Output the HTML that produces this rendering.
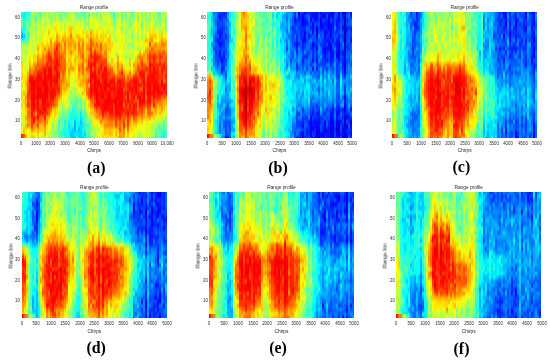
<!DOCTYPE html><html><head><meta charset="utf-8"><title>Range profiles</title><style>
html,body{margin:0;padding:0;background:#fff}
body{width:550px;height:360px;position:relative;overflow:hidden}
.p{position:absolute;display:flex;overflow:hidden;filter:blur(0.45px)}
.p i{flex:1 1 0;display:block;height:100%}
.bb{position:absolute;width:18px;height:4px;background:linear-gradient(90deg,#e81000 0,#f03000 2px,#ff8000 3px,#ff7000 5px,#40ff90 6.5px,#e0ff10 8.5px,#60ffa0 10.5px,#40ffc0 12.5px,rgba(0,200,255,0.6) 14.5px,rgba(0,160,255,0) 18px)}
.ba{width:6px;background:linear-gradient(90deg,#f02000 0,#ff5000 3px,rgba(255,140,0,0) 6px)}
.t{position:absolute;font-family:"Liberation Sans",Arial,sans-serif;color:#2a2a2a;white-space:nowrap;line-height:1;filter:blur(0.2px)}
.tk{font-size:4.6px}
.lb{font-size:4.8px}
.L{position:absolute;font-family:"Liberation Serif","Times New Roman",serif;font-weight:bold;font-size:15.9px;line-height:1;color:#000;white-space:nowrap}
</style></head><body>
<div class="p" style="left:21.20px;top:11.70px;width:145.80px;height:126.30px"><i style="background:linear-gradient(#2dffd2,#0bfff4,#4fffb0,#79ff86,#24ffdb,#00e7ff,#009aff,#15ffea,#b0ff4f,#9dff62,#d9ff26,#bcff43,#a3ff5c,#ffd400,#e4ff1b,#ffdb00,#ffc600,#e1ff1e,#ffd200,#cfff30,#ffd900,#ffcb00,#f3ff0c,#ffc700,#f0ff0f,#e1ff1e,#fff200,#ecff13,#b8ff47,#fff300,#fff900,#ffcd00)"></i><i style="background:linear-gradient(#33ffcc,#00e5ff,#3cffc3,#14ffeb,#0afff5,#11ffee,#00cfff,#2dffd2,#afff50,#e1ff1e,#a2ff5d,#fdff02,#ceff31,#f5ff0a,#e0ff1f,#e9ff16,#ffdd00,#ffe200,#ffff00,#ffff00,#ffb300,#fff800,#ffc600,#ddff22,#ffec00,#fff300,#bcff43,#cdff32,#dbff24,#ffcb00,#ffb500,#ffd800)"></i><i style="background:linear-gradient(#00edff,#32ffcd,#33ffcc,#6eff91,#5dffa2,#6eff91,#36ffc9,#3bffc4,#80ff7f,#b6ff49,#90ff6f,#e8ff17,#afff50,#faff05,#adff52,#fffc00,#ffe600,#ffc500,#ffb400,#ffdc00,#ffcd00,#ff8000,#ffc200,#ff8d00,#ffcf00,#ffe000,#ffaf00,#ffe500,#ffac00,#ffdb00,#edff12,#ffc200)"></i><i style="background:linear-gradient(#1effe1,#35ffca,#46ffb9,#92ff6d,#8aff75,#4bffb4,#45ffba,#76ff89,#bbff44,#deff21,#aaff55,#e5ff1a,#fffd00,#cbff34,#faff05,#ffb800,#ff9400,#ff6f00,#ff6700,#ff6200,#ff3800,#ff4300,#ff4700,#ff2e00,#ff8700,#ff6a00,#ff7900,#ff9a00,#ff7a00,#f9ff06,#e7ff18,#fffa00)"></i><i style="background:linear-gradient(#34ffcb,#5bffa4,#6fff90,#57ffa8,#9bff64,#d7ff28,#a1ff5e,#d2ff2d,#eeff11,#fff300,#faff05,#ffed00,#ffd900,#ffc000,#ff8100,#ff6e00,#ff1200,#ff0200,#ff2700,#ff1f00,#ff3000,#ff3e00,#ff5800,#ff4d00,#ff6600,#ff6000,#ff7900,#ff9300,#ff9b00,#ffe500,#dcff23,#f4ff0b)"></i><i style="background:linear-gradient(#e1ff1e,#91ff6e,#b2ff4d,#a5ff5a,#aeff51,#aaff55,#c6ff39,#c6ff39,#abff54,#c6ff39,#d8ff27,#ddff22,#f0ff0f,#ffec00,#ff9900,#ff8000,#ff0900,#fd0000,#ec0000,#f80000,#ff1000,#ff0000,#ff0100,#ff0900,#ff1100,#ff0600,#ff2300,#ff3300,#ff3700,#ff8000,#fff200,#ffab00)"></i><i style="background:linear-gradient(#a1ff5e,#85ff7a,#a3ff5c,#d5ff2a,#afff50,#bfff40,#eaff15,#d4ff2b,#e7ff18,#b5ff4a,#ffeb00,#ffd700,#ffdb00,#ff9000,#ff9500,#ff5500,#ff3e00,#f10000,#fb0000,#f20000,#f30000,#f00000,#f60000,#ff0100,#ff0300,#ff5c00,#ff0f00,#ff1900,#ff9500,#ff9c00,#e5ff1a,#ffc500)"></i><i style="background:linear-gradient(#99ff66,#69ff96,#3cffc3,#8aff75,#71ff8e,#afff50,#96ff69,#aeff51,#d9ff26,#e4ff1b,#ebff14,#ffcc00,#ffde00,#ff8b00,#ff5000,#ff5500,#ff2400,#ff1100,#ff0d00,#ff1300,#ff2c00,#ff0200,#ff3700,#ff1900,#ff3a00,#ff9b00,#ff3900,#ff8700,#ff8a00,#ffe100,#feff01,#e8ff17)"></i><i style="background:linear-gradient(#75ff8a,#93ff6c,#b0ff4f,#d2ff2d,#d9ff26,#f0ff0f,#e3ff1c,#e6ff19,#ffe300,#ffa500,#ffe000,#ff8800,#ff8000,#ff5000,#ff6b00,#ff1700,#ff0800,#fc0000,#ff0500,#fa0000,#ef0000,#f60000,#fb0000,#ff0500,#ff0e00,#ff1d00,#fb0000,#ff6500,#ff4400,#ffaa00,#ffd100,#ffdc00)"></i><i style="background:linear-gradient(#59ffa6,#4fffb0,#8cff73,#c6ff39,#c5ff3a,#c0ff3f,#afff50,#afff50,#ffe200,#fff000,#fff000,#ffc200,#ff8f00,#ff6d00,#ff4700,#ff1d00,#ff0500,#ff0b00,#ff1b00,#f30000,#fb0000,#f90000,#ff4d00,#ff3000,#ff1500,#ff0e00,#ff6f00,#ff6f00,#ffd000,#ffc200,#f2ff0d,#c5ff3a)"></i><i style="background:linear-gradient(#a1ff5e,#a0ff5f,#feff01,#b9ff46,#ebff14,#a5ff5a,#ffea00,#fffc00,#ffc300,#ffd100,#ffaf00,#ff8300,#ff6d00,#ff5c00,#ff1f00,#ff2900,#ff3b00,#f90000,#ff0400,#ff2700,#ff0800,#f60000,#f50000,#ff0400,#ff1000,#ff1d00,#ff6f00,#ff9300,#ffb400,#ffd400,#c9ff36,#a3ff5c)"></i><i style="background:linear-gradient(#96ff69,#98ff67,#bcff43,#9bff64,#abff54,#daff25,#fcff03,#faff05,#fbff04,#ff8c00,#ffc700,#ff7c00,#ff9d00,#ff6100,#ff0c00,#f70000,#fa0000,#f00000,#f30000,#f40000,#f00000,#ff0100,#fd0000,#ff1500,#e70000,#ff3200,#ff1900,#ff5a00,#ff8800,#ffb000,#ffad00,#d1ff2e)"></i><i style="background:linear-gradient(#c6ff39,#bcff43,#dfff20,#adff52,#fff900,#e4ff1b,#fffb00,#fff500,#ffc700,#ffd800,#ff8600,#ff5000,#ff5200,#ff1e00,#ff1e00,#ff3300,#ff0600,#ff0d00,#fc0000,#eb0000,#f30000,#fc0000,#ff1f00,#ff0900,#ff3e00,#ff3400,#ffa400,#ff9200,#ffd400,#ffee00,#c8ff37,#f9ff06)"></i><i style="background:linear-gradient(#97ff68,#81ff7e,#c0ff3f,#d4ff2b,#e9ff16,#ffc400,#d0ff2f,#fffc00,#ffdb00,#ff8e00,#ff4400,#ff1f00,#ff2c00,#ff4100,#ff0300,#ff0d00,#f10000,#ff1d00,#ff3100,#ff1100,#ff2500,#ff3700,#ff3200,#ff1300,#ff5000,#ff5d00,#ffb400,#fff400,#f9ff06,#fff200,#caff35,#acff53)"></i><i style="background:linear-gradient(#c0ff3f,#93ff6c,#9bff64,#bdff42,#d2ff2d,#f3ff0c,#f5ff0a,#ff9300,#ff9300,#ff9c00,#ff7200,#ff2b00,#ff2400,#ff3100,#f70000,#f50000,#fa0000,#ff0300,#f40000,#ff2800,#f60000,#ff0b00,#ff2a00,#ff3100,#ff6c00,#ffad00,#efff10,#fff400,#ecff13,#d6ff29,#dcff23,#b8ff47)"></i><i style="background:linear-gradient(#abff54,#c0ff3f,#a2ff5d,#d2ff2d,#cdff32,#f5ff0a,#ffe700,#fffc00,#ffcf00,#ffa200,#ff8600,#ff9800,#ff3600,#ff5900,#ff4e00,#ff4000,#ff2300,#ff0d00,#ff3a00,#fd0000,#ff0800,#ff0900,#ff2a00,#ff4900,#ffd700,#fff100,#ffe200,#c8ff37,#66ff99,#92ff6d,#76ff89,#94ff6b)"></i><i style="background:linear-gradient(#acff53,#81ff7e,#a0ff5f,#ebff14,#ffd800,#deff21,#fffd00,#ffd500,#ff7300,#ff6c00,#ff2200,#ff3100,#ff3000,#ff1900,#ff0500,#ff3a00,#ff1000,#ff0400,#ff1900,#ff1e00,#ff0a00,#ff2b00,#ff7100,#ff6600,#ffbb00,#ffd400,#ffe500,#c9ff36,#ebff14,#b2ff4d,#88ff77,#86ff79)"></i><i style="background:linear-gradient(#94ff6b,#cfff30,#ffe600,#d7ff28,#ffec00,#ffdd00,#ff9700,#ff9000,#ff4e00,#ff0e00,#ff3500,#ff2800,#ff0300,#ff0400,#ff1700,#f70000,#ff0000,#f40000,#ff1900,#ff1e00,#ff4600,#ff7b00,#ff7900,#ff8a00,#ffe000,#ffde00,#e6ff19,#b3ff4c,#a0ff5f,#81ff7e,#8cff73,#99ff66)"></i><i style="background:linear-gradient(#91ff6e,#66ff99,#c1ff3e,#fffb00,#fcff03,#e8ff17,#ffbf00,#ffcf00,#ff5100,#ff7400,#ff6100,#ff4800,#ff3e00,#ff1200,#ff5300,#ff1400,#ff1800,#ff5700,#ff3c00,#ff1800,#ff3d00,#ff9000,#ffe200,#ffe000,#d1ff2e,#c6ff39,#a7ff58,#1dffe2,#46ffb9,#53ffac,#41ffbe,#7aff85)"></i><i style="background:linear-gradient(#7dff82,#6dff92,#6dff92,#cfff30,#acff53,#ffff00,#fff300,#ffd800,#ff9c00,#ff8b00,#ff8f00,#ff4e00,#ff5d00,#ff5b00,#ff4e00,#ff9500,#ffa400,#ff6600,#ff8300,#ff7c00,#ff8800,#ffc100,#ffd900,#b8ff47,#bfff40,#adff52,#79ff86,#58ffa7,#86ff79,#8bff74,#41ffbe,#4bffb4)"></i><i style="background:linear-gradient(#80ff7f,#a7ff58,#a9ff56,#e9ff16,#dfff20,#feff01,#ffc700,#ff9300,#ffcc00,#ffc100,#ff7f00,#ff7600,#ff7100,#ff6a00,#ff6200,#ff5000,#ff7200,#ff7700,#ffac00,#ffb700,#ffdf00,#ddff22,#c3ff3c,#96ff69,#94ff6b,#61ff9e,#42ffbd,#6dff92,#55ffaa,#23ffdc,#1fffe0,#67ff98)"></i><i style="background:linear-gradient(#74ff8b,#74ff8b,#c7ff38,#b0ff4f,#b2ff4d,#ffda00,#ffba00,#ff9e00,#ff6700,#ff7f00,#ff7a00,#ff9600,#ff6500,#ff6800,#ff5800,#ff8400,#ffa200,#ff9d00,#ffbb00,#ffa600,#ffe100,#f2ff0d,#fff800,#b3ff4c,#adff52,#68ff97,#6bff94,#00ffff,#1affe5,#18ffe7,#00f5ff,#2affd5)"></i><i style="background:linear-gradient(#75ff8a,#8cff73,#b5ff4a,#c4ff3b,#e3ff1c,#fbff04,#ffe500,#ffb300,#ffc500,#ffd000,#ffd700,#ffdc00,#fff900,#ffc000,#ffde00,#ffef00,#ffdb00,#ffc200,#ff9200,#ffd000,#fff100,#fff500,#c7ff38,#f9ff06,#a2ff5d,#73ff8c,#59ffa6,#37ffc8,#7bff84,#1affe5,#34ffcb,#00faff)"></i><i style="background:linear-gradient(#bcff43,#92ff6d,#d8ff27,#e2ff1d,#ffd800,#ffe600,#ffc400,#ffa900,#ff8e00,#ffab00,#ffbd00,#ffdb00,#ffb800,#ffe300,#ffa100,#ff9d00,#ffd000,#ffbf00,#ffb400,#ffec00,#ffec00,#9cff63,#c5ff3a,#c7ff38,#69ff96,#50ffaf,#50ffaf,#11ffee,#00e0ff,#00f5ff,#00faff,#11ffee)"></i><i style="background:linear-gradient(#9aff65,#dcff23,#a4ff5b,#d6ff29,#ffc800,#ffb200,#ff6c00,#ffa800,#ff9500,#ffbe00,#ff7800,#ffd300,#ffd300,#ffa700,#ffa100,#ffe400,#d4ff2b,#e9ff16,#f2ff0d,#b8ff47,#92ff6d,#a9ff56,#60ff9f,#78ff87,#8aff75,#25ffda,#0bfff4,#13ffec,#02fffd,#00f2ff,#00c2ff,#00d4ff)"></i><i style="background:linear-gradient(#cbff34,#e6ff19,#ccff33,#d7ff28,#ffd700,#fff600,#ffe500,#ffab00,#ffba00,#ffdd00,#ffb900,#fffe00,#fffb00,#ffe200,#ff8a00,#fff300,#ecff13,#fff100,#d6ff29,#b9ff46,#b4ff4b,#99ff66,#8dff72,#52ffad,#1dffe2,#26ffd9,#03fffc,#3affc5,#25ffda,#00d0ff,#00d0ff,#00beff)"></i><i style="background:linear-gradient(#71ff8e,#afff50,#a4ff5b,#ccff33,#e3ff1c,#c4ff3b,#ffeb00,#ffd700,#ff8f00,#ff9e00,#ffe500,#ffd700,#ffad00,#ffe100,#ffc400,#ffe500,#d4ff2b,#aaff55,#d8ff27,#8dff72,#b9ff46,#7dff82,#69ff96,#2effd1,#24ffdb,#2bffd4,#28ffd7,#00b6ff,#00a5ff,#00aaff,#02fffd,#00c2ff)"></i><i style="background:linear-gradient(#71ff8e,#5dffa2,#c0ff3f,#cfff30,#d8ff27,#fff200,#ffbe00,#ffe800,#ffca00,#ffd700,#ffd900,#ffb500,#ffe000,#ffd200,#fffb00,#fff300,#ffe400,#ffda00,#ffff00,#beff41,#cbff34,#79ff86,#45ffba,#5effa1,#55ffaa,#37ffc8,#0ffff0,#00faff,#15ffea,#00faff,#00e2ff,#35ffca)"></i><i style="background:linear-gradient(#96ff69,#72ff8d,#9eff61,#efff10,#e5ff1a,#fffb00,#ffb800,#ffa500,#ff6c00,#ff7900,#ff8d00,#ffc100,#ffca00,#ff9e00,#ff6800,#ff9e00,#ffa700,#ffda00,#ffbf00,#fffe00,#beff41,#a2ff5d,#6aff95,#a0ff5f,#4bffb4,#4cffb3,#2affd5,#14ffeb,#00f0ff,#00baff,#00e6ff,#00cfff)"></i><i style="background:linear-gradient(#5fffa0,#a3ff5c,#84ff7b,#c2ff3d,#ddff22,#feff01,#ffea00,#ffa900,#ffd900,#ff8d00,#ff8a00,#ff8200,#ffc400,#ff9100,#ff8e00,#ffb200,#ffd800,#ffb300,#ffaf00,#cfff30,#deff21,#8fff70,#50ffaf,#67ff98,#42ffbd,#00e9ff,#00f4ff,#00b8ff,#00d9ff,#00daff,#00dfff,#00c9ff)"></i><i style="background:linear-gradient(#3cffc3,#65ff9a,#b7ff48,#edff12,#f0ff0f,#ffd500,#fff300,#ffaa00,#ff7200,#ff8500,#ff8500,#ff5c00,#ff8400,#ff5800,#ff5e00,#ff6800,#ffb900,#ff9600,#ffb900,#ffeb00,#ffb200,#fbff04,#98ff67,#adff52,#81ff7e,#75ff8a,#00ffff,#1affe5,#00ecff,#05fffa,#00f9ff,#00dfff)"></i><i style="background:linear-gradient(#54ffab,#57ffa8,#61ff9e,#abff54,#9aff65,#c0ff3f,#fff600,#ffe000,#ffd200,#ffe900,#ffd300,#ffcc00,#ff9500,#fffd00,#ffa200,#ffba00,#ffa100,#ff9900,#ffc100,#ffb000,#fff000,#dcff23,#93ff6c,#79ff86,#74ff8b,#36ffc9,#3effc1,#44ffbb,#11ffee,#25ffda,#00ceff,#06fff9)"></i><i style="background:linear-gradient(#9aff65,#88ff77,#c4ff3b,#7bff84,#fdff02,#ffda00,#ffbb00,#f1ff0e,#ffb100,#ff8600,#ffb700,#ffaa00,#ff8600,#ff9a00,#ff4100,#ffac00,#ffc000,#ff6a00,#ff7b00,#ff8400,#ff6300,#ffbe00,#edff12,#fff100,#e3ff1c,#8bff74,#59ffa6,#80ff7f,#2effd1,#77ff88,#4cffb3,#2dffd2)"></i><i style="background:linear-gradient(#67ff98,#40ffbf,#8aff75,#91ff6e,#97ff68,#cdff32,#ffcc00,#ffb600,#ffa000,#ff7f00,#ffa700,#ff6e00,#ff3e00,#ff2200,#ff5300,#ff8500,#ff9a00,#ff3400,#ffc600,#ff4f00,#ff3e00,#ff5700,#ffeb00,#ffcb00,#edff12,#bdff42,#caff35,#7fff80,#3affc5,#47ffb8,#42ffbd,#13ffec)"></i><i style="background:linear-gradient(#ecff13,#daff25,#f4ff0b,#f3ff0c,#cdff32,#ffa300,#ffaf00,#ff5100,#ff5a00,#ff3200,#ff3b00,#ff1d00,#ff4d00,#ff0800,#ff0800,#ff0b00,#fb0000,#fe0000,#ff1a00,#fe0000,#ff0600,#ff1b00,#ff7b00,#ff9900,#ffc900,#ffc500,#b8ff47,#5fffa0,#8eff71,#6fff90,#85ff7a,#43ffbc)"></i><i style="background:linear-gradient(#8aff75,#93ff6c,#e4ff1b,#edff12,#beff41,#ffd300,#ffc000,#ffa100,#ff6000,#ffb900,#ff7600,#ff2e00,#ff4100,#ff1000,#ff7100,#ff0800,#ff0d00,#ff3800,#ff1400,#ff0d00,#ff1a00,#ff5900,#ff5a00,#ff8100,#ffc000,#ffbe00,#c4ff3b,#c6ff39,#9bff64,#89ff76,#d0ff2f,#77ff88)"></i><i style="background:linear-gradient(#9bff64,#b7ff48,#ddff22,#e5ff1a,#c9ff36,#ffee00,#ffe500,#ffb200,#ffa100,#ff7d00,#ff2900,#ff1700,#ff0d00,#ff0f00,#ff1c00,#ff0400,#fc0000,#fb0000,#fa0000,#ff0000,#ff0900,#ff2400,#ff4d00,#ff1600,#ff8900,#ffad00,#ffbe00,#fffa00,#ffea00,#a9ff56,#afff50,#87ff78)"></i><i style="background:linear-gradient(#74ff8b,#8cff73,#dcff23,#ecff13,#ddff22,#ffdb00,#ffb600,#ffbc00,#ff6700,#ff9800,#ff6800,#ff1a00,#ff2700,#ff6500,#ff4700,#ff3d00,#ff1e00,#fe0000,#ff0b00,#fc0000,#fc0000,#e70000,#fb0000,#ff0f00,#ff3d00,#ff8800,#ff9800,#fffd00,#c7ff38,#c9ff36,#c6ff39,#bfff40)"></i><i style="background:linear-gradient(#91ff6e,#bcff43,#b0ff4f,#d9ff26,#ffe700,#f6ff09,#fff100,#ffc300,#ffb000,#ffa000,#ff7b00,#ff2c00,#ff3500,#ff5600,#ff2400,#ff0900,#ff4400,#f60000,#fe0000,#ff2e00,#ff0f00,#ff1a00,#ff0d00,#ff0900,#ff7400,#ff6400,#ff9700,#ffe000,#faff05,#aeff51,#fffd00,#fff200)"></i><i style="background:linear-gradient(#acff53,#71ff8e,#8cff73,#d6ff29,#d1ff2e,#fff100,#ffcb00,#ffd400,#ff6400,#ff5400,#ff7c00,#ff3d00,#ff4700,#ff1d00,#ff0f00,#ff3f00,#ff2600,#ff5800,#fd0000,#ff0300,#ff1100,#ff0200,#ff3000,#ff0e00,#ff2d00,#ff5900,#ffa700,#ff6f00,#ffe900,#fbff04,#d1ff2e,#fbff04)"></i><i style="background:linear-gradient(#b8ff47,#caff35,#ccff33,#baff45,#d7ff28,#ffe400,#ffd300,#ffc900,#ffcf00,#ffa500,#ffc200,#ff7c00,#ff4500,#ff3200,#ff4800,#ff0a00,#ff0700,#ff1400,#ff1400,#ff1a00,#ff0100,#f60000,#ff2100,#ff1000,#ff0500,#ff0900,#ff4600,#ffbc00,#ffcb00,#fff300,#ffdd00,#ffd900)"></i><i style="background:linear-gradient(#c4ff3b,#cbff34,#e2ff1d,#b1ff4e,#eeff11,#c1ff3e,#ffd200,#fff100,#ffb100,#ffac00,#ff8200,#ff8200,#ff3f00,#ff4600,#f80000,#ff1100,#ff0900,#f30000,#f20000,#f90000,#ff1200,#ff1e00,#fe0000,#ff0200,#fe0000,#ff3800,#ff6c00,#ffa600,#ff8800,#ffbd00,#ffc500,#fff200)"></i><i style="background:linear-gradient(#c0ff3f,#c9ff36,#edff12,#c8ff37,#ffec00,#ffd900,#fffb00,#ffb700,#ffd000,#ffbd00,#ffdb00,#ffd000,#ffd700,#ff8f00,#ff6b00,#ff2700,#ff3200,#ff3100,#f20000,#ff3700,#ff0000,#ff0300,#f90000,#ff0900,#ff0600,#ff5900,#ff5d00,#ff8400,#ff8300,#ffd200,#ffd000,#ffe600)"></i><i style="background:linear-gradient(#8eff71,#a1ff5e,#f4ff0b,#e0ff1f,#ccff33,#cbff34,#ffd000,#ffc600,#ffd000,#ffcc00,#ffeb00,#c7ff38,#d2ff2d,#ffa600,#ff6e00,#ff3900,#ff4e00,#ff0c00,#fc0000,#ff1100,#f80000,#fa0000,#f40000,#ff0900,#ff1900,#ff1500,#ff4700,#ff7000,#ff8700,#ffb400,#ffaf00,#e5ff1a)"></i><i style="background:linear-gradient(#70ff8f,#88ff77,#97ff68,#9fff60,#e8ff17,#c2ff3d,#e7ff18,#c4ff3b,#ffcd00,#fff000,#e6ff19,#fffc00,#ffbd00,#ffdd00,#ff5e00,#ff5800,#ff4700,#fb0000,#ff2e00,#fd0000,#ff4200,#ff2700,#ff0e00,#ff1000,#ff0200,#ff1600,#ff4100,#ff7200,#ff8a00,#ffca00,#ffc400,#ffe000)"></i><i style="background:linear-gradient(#68ff97,#17ffe8,#8bff74,#73ff8c,#bdff42,#90ff6f,#baff45,#ebff14,#e4ff1b,#fffa00,#f2ff0d,#e9ff16,#dbff24,#ffe100,#ffcb00,#ff7b00,#ff2e00,#ff0f00,#ff0500,#ff0700,#ff1700,#ff2300,#f30000,#ff3800,#ff4500,#ff3500,#ff4800,#ff9600,#ff9f00,#ffd900,#faff05,#ddff22)"></i><i style="background:linear-gradient(#91ff6e,#94ff6b,#aeff51,#bcff43,#aeff51,#ffff00,#c7ff38,#baff45,#dcff23,#e4ff1b,#a2ff5d,#b0ff4f,#f4ff0b,#ffd500,#ffd300,#ffde00,#ff5d00,#ff5f00,#ff2c00,#ff1e00,#ff1900,#ff0700,#f00000,#ff0000,#ff0d00,#ff0500,#ff3600,#ff3700,#ff4b00,#ffd500,#ffae00,#ffe500)"></i><i style="background:linear-gradient(#bcff43,#a7ff58,#c4ff3b,#c7ff38,#f1ff0e,#f9ff06,#dbff24,#e1ff1e,#eaff15,#d7ff28,#fff800,#ffae00,#ffae00,#ff7d00,#ff8d00,#ff8300,#ff5c00,#ff0a00,#ff1f00,#ff0200,#ff0500,#fc0000,#ff1a00,#ff1500,#ff0600,#ff0700,#ff3f00,#ff7b00,#ff8000,#ffc600,#ffe900,#ffc000)"></i><i style="background:linear-gradient(#cdff32,#c1ff3e,#ceff31,#f0ff0f,#bfff40,#fffc00,#fff800,#f1ff0e,#ffef00,#fdff02,#f9ff06,#ebff14,#f6ff09,#ffc300,#ffa800,#ff5c00,#ff5200,#ff0500,#ff0d00,#ff0700,#fa0000,#fc0000,#fa0000,#f90000,#ff1400,#ff1000,#ff1400,#ff6b00,#ff6300,#ff5100,#ff9800,#ff9800)"></i><i style="background:linear-gradient(#76ff89,#6aff95,#64ff9b,#a6ff59,#8dff72,#a9ff56,#dbff24,#d1ff2e,#f7ff08,#fff300,#f7ff08,#ceff31,#fdff02,#ffa400,#ff7c00,#ff1200,#ff5100,#ff1500,#ff1c00,#ff0000,#fe0000,#ff0100,#f50000,#ff0000,#ff0900,#ff2400,#ff6c00,#ff6800,#ffaf00,#ff9800,#ffbb00,#ff9900)"></i><i style="background:linear-gradient(#97ff68,#81ff7e,#d4ff2b,#e6ff19,#beff41,#ecff13,#cdff32,#efff10,#bdff42,#c3ff3c,#d5ff2a,#dcff23,#d6ff29,#feff01,#ffc900,#ff9100,#ff4900,#ff3100,#ff1500,#ff5c00,#ff2e00,#ff2300,#ff2e00,#ff7d00,#ff1200,#ff4b00,#ff5200,#ff4600,#ff1c00,#ff7f00,#ff8800,#ffc100)"></i><i style="background:linear-gradient(#82ff7d,#7aff85,#76ff89,#c6ff39,#bdff42,#78ff87,#d2ff2d,#93ff6c,#e7ff18,#bfff40,#b9ff46,#80ff7f,#d0ff2f,#d0ff2f,#ffec00,#ffd100,#ffad00,#ff6200,#ff3c00,#ff4a00,#ff1a00,#ff5800,#ff1700,#ff1b00,#ff3300,#ff2d00,#ff6c00,#ffa500,#ff9200,#f9ff06,#faff05,#bbff44)"></i><i style="background:linear-gradient(#8aff75,#b4ff4b,#b4ff4b,#9bff64,#a1ff5e,#b7ff48,#b4ff4b,#dfff20,#88ff77,#b8ff47,#e4ff1b,#b4ff4b,#e2ff1d,#c2ff3d,#ffef00,#ffca00,#ff6100,#ff5600,#ff1400,#ff2a00,#ff0800,#fa0000,#ff0b00,#ff4600,#ff2700,#ff0900,#ff3c00,#ff3000,#ff5800,#ff6400,#ffcd00,#ffc900)"></i><i style="background:linear-gradient(#9aff65,#a4ff5b,#59ffa6,#91ff6e,#96ff69,#e6ff19,#a9ff56,#ebff14,#81ff7e,#b5ff4a,#d3ff2c,#acff53,#ffd500,#ffc000,#ffe900,#ff6f00,#ff8500,#ff3500,#ff1400,#ff0500,#ff4500,#ff5e00,#ff2900,#ff1400,#ff1b00,#ff3f00,#ff5f00,#ff8f00,#ffb100,#fbff04,#fdff02,#e5ff1a)"></i><i style="background:linear-gradient(#3fffc0,#6fff90,#b5ff4a,#80ff7f,#c6ff39,#9aff65,#76ff89,#b5ff4a,#80ff7f,#d0ff2f,#c3ff3c,#9eff61,#dbff24,#edff12,#fff000,#ffe100,#ff7c00,#ff1800,#ff3900,#ff0200,#ff1100,#ff2900,#ff1c00,#ff3700,#ff3400,#ff1300,#ffa100,#ffcc00,#ffd800,#ffe700,#e8ff17,#f2ff0d)"></i><i style="background:linear-gradient(#a0ff5f,#88ff77,#92ff6d,#f5ff0a,#e8ff17,#b1ff4e,#aaff55,#beff41,#abff54,#bbff44,#e7ff18,#dcff23,#f1ff0e,#ff9500,#ffbf00,#ffa200,#ff2a00,#ff0c00,#ff0b00,#ff1e00,#ff2600,#fe0000,#ff3800,#ff0900,#ff0a00,#ff1b00,#ff4200,#ff9800,#ffd700,#ffe900,#d1ff2e,#ffdd00)"></i><i style="background:linear-gradient(#fff800,#ebff14,#e9ff16,#f1ff0e,#fdff02,#f7ff08,#c3ff3c,#e0ff1f,#ebff14,#ceff31,#f8ff07,#ffe700,#ffc200,#ffa900,#ff9900,#ff6200,#ff1e00,#ff0000,#ff0600,#fc0000,#fd0000,#ff5d00,#ff4a00,#ff1700,#ff2d00,#ff2800,#ff6d00,#ff8600,#ffd600,#f1ff0e,#e3ff1c,#ddff22)"></i><i style="background:linear-gradient(#9bff64,#87ff78,#79ff86,#deff21,#daff25,#9fff60,#aeff51,#a3ff5c,#ddff22,#8eff71,#fff700,#ffa200,#ffb900,#ff7000,#ff3500,#ff6000,#ff4400,#ff1c00,#ff1c00,#ff2200,#ff2100,#ff0400,#ff5e00,#ff6600,#ff7b00,#ff5600,#ffa500,#ffc000,#f1ff0e,#f1ff0e,#a9ff56,#acff53)"></i><i style="background:linear-gradient(#a9ff56,#fff200,#c7ff38,#d4ff2b,#d4ff2b,#eaff15,#eeff11,#fff100,#ffec00,#fff000,#ffaf00,#ff7100,#ff8600,#ff7800,#ff6100,#ff0500,#ff2e00,#ff6600,#f20000,#ff5800,#ff2000,#fc0000,#f20000,#ff1500,#ff4a00,#ff6a00,#ffaf00,#ffd700,#faff05,#e0ff1f,#a9ff56,#b1ff4e)"></i><i style="background:linear-gradient(#93ff6c,#8fff70,#b2ff4d,#53ffac,#86ff79,#b6ff49,#a8ff57,#bcff43,#e4ff1b,#a7ff58,#fffb00,#ff9200,#ff5500,#ff2c00,#ff4600,#ff0e00,#ff0f00,#ff3000,#ff2800,#ff6600,#ff0b00,#ff2400,#f90000,#ff1800,#ff4000,#ff5b00,#ff8700,#ffbe00,#dcff23,#e6ff19,#ccff33,#b4ff4b)"></i><i style="background:linear-gradient(#e6ff19,#a5ff5a,#b2ff4d,#fff700,#e9ff16,#f7ff08,#caff35,#ffe100,#ffee00,#efff10,#ffb600,#ff8f00,#ffa800,#ff5600,#ff4d00,#ff1800,#ff0e00,#ff0500,#ff0800,#ee0000,#ff0000,#ff0300,#fd0000,#ff4e00,#ff6a00,#ff8e00,#ffad00,#fffe00,#f9ff06,#f8ff07,#f8ff07,#b9ff46)"></i><i style="background:linear-gradient(#6eff91,#9aff65,#8fff70,#a2ff5d,#a5ff5a,#d8ff27,#b5ff4a,#ffb600,#f6ff09,#ffbb00,#ffa000,#ffba00,#ffb400,#ff7500,#ff1e00,#ff6500,#ff6700,#ff4900,#ff2b00,#ff4f00,#ff4c00,#ff7600,#ff4a00,#ff4f00,#ffb200,#ffd600,#ffc500,#b6ff49,#e6ff19,#bdff42,#e5ff1a,#afff50)"></i><i style="background:linear-gradient(#b4ff4b,#d6ff29,#9fff60,#c2ff3d,#bbff44,#dfff20,#f9ff06,#ffd400,#ffed00,#ffa500,#ff8a00,#ff6400,#ff7900,#ff9000,#ff3400,#ff4700,#ff0c00,#ff0c00,#ff0000,#ff0600,#f30000,#ff0d00,#ff0d00,#ff2d00,#ff5600,#ff6900,#ffb000,#ffeb00,#dcff23,#c2ff3d,#dcff23,#c4ff3b)"></i><i style="background:linear-gradient(#b2ff4d,#87ff78,#7dff82,#d9ff26,#ffe800,#ffe900,#ffc200,#ffa800,#ff4300,#ffa400,#ff4e00,#ff2500,#ff3000,#fb0000,#ff0b00,#ff1700,#ff0500,#ff0e00,#ff0200,#ff0200,#fd0000,#ff1400,#fa0000,#ff4000,#ff6200,#ff5900,#ff9c00,#fff800,#e6ff19,#d5ff2a,#cfff30,#bcff43)"></i><i style="background:linear-gradient(#8eff71,#ceff31,#beff41,#e4ff1b,#dcff23,#ffeb00,#ffbe00,#ff8300,#ffcf00,#ff5900,#ff7700,#ff3800,#ff5f00,#ff0f00,#ff3800,#ff1300,#ff0a00,#ff0500,#ff2200,#ff3700,#ff0a00,#ff4700,#ff5600,#ff9500,#ffd000,#ff6e00,#ffe800,#f2ff0d,#91ff6e,#a6ff59,#baff45,#6bff94)"></i><i style="background:linear-gradient(#f2ff0d,#88ff77,#abff54,#c2ff3d,#a4ff5b,#ffdf00,#ffc900,#fff500,#ffa200,#ff7900,#ff6600,#ff1700,#ff1900,#ff2c00,#ff0a00,#ff0c00,#ff0600,#ff1500,#ff0100,#f20000,#fb0000,#ff1000,#ff3b00,#ff0f00,#ffb400,#ffbf00,#ffca00,#c4ff3b,#b1ff4e,#a3ff5c,#b9ff46,#8fff70)"></i><i style="background:linear-gradient(#a4ff5b,#d1ff2e,#8fff70,#8eff71,#d8ff27,#fff200,#ffc000,#fff900,#ff7a00,#ffaa00,#ff7900,#ff3800,#ff5800,#ff2700,#ff2900,#ff1300,#ff2500,#ff0900,#ff0300,#ff0700,#ff2900,#ff2b00,#ff7000,#ff7700,#ff8e00,#ffbe00,#c3ff3c,#c5ff3a,#9eff61,#65ff9a,#4bffb4,#18ffe7)"></i><i style="background:linear-gradient(#61ff9e,#65ff9a,#8cff73,#a9ff56,#cdff32,#c1ff3e,#feff01,#f9ff06,#ffb700,#ff9600,#ff7000,#ff6700,#ff6d00,#ff3500,#ff2500,#ff1a00,#ff1f00,#ff2400,#ff0800,#fa0000,#ff0300,#ff2700,#ff5b00,#ffb400,#ffd400,#ffe400,#e5ff1a,#aaff55,#7fff80,#50ffaf,#71ff8e,#72ff8d)"></i><i style="background:linear-gradient(#7fff80,#5cffa3,#7bff84,#8fff70,#b1ff4e,#9fff60,#ffe300,#ffd700,#ffa000,#ff9c00,#ff5d00,#ff2800,#ff4000,#ff1b00,#ff6f00,#ff4200,#ff2e00,#ff4e00,#ff2400,#ff1200,#ff0700,#ff2a00,#ff6900,#ff9100,#ffcf00,#ffb600,#f9ff06,#acff53,#54ffab,#55ffaa,#5effa1,#3cffc3)"></i><i style="background:linear-gradient(#a7ff58,#bbff44,#a4ff5b,#c9ff36,#fff000,#ffc900,#ffd800,#ff9500,#ff8100,#ff9b00,#ff7000,#ff3a00,#ff6f00,#ff3a00,#ff1200,#ff1600,#ff3e00,#fe0000,#ff0200,#ff3f00,#ff0100,#ff6000,#ff9300,#ff9900,#ff9e00,#ffe300,#a9ff56,#a9ff56,#85ff7a,#46ffb9,#36ffc9,#33ffcc)"></i><i style="background:linear-gradient(#93ff6c,#a7ff58,#98ff67,#dbff24,#aaff55,#fff100,#fff500,#ffca00,#ff7200,#ffa300,#ff4c00,#ff7000,#ff6100,#ff1100,#ff1e00,#ff5f00,#ff4e00,#ff8000,#ff0a00,#ff0200,#ff3400,#ff5200,#ffb400,#ffb900,#ffc800,#dbff24,#cfff30,#75ff8a,#47ffb8,#3affc5,#0afff5,#01fffe)"></i><i style="background:linear-gradient(#a6ff59,#c9ff36,#74ff8b,#a6ff59,#7fff80,#a7ff58,#e1ff1e,#ffc200,#ff9800,#ffc100,#ff9100,#ff6400,#ff5100,#ff4e00,#ff2900,#ff3800,#ff1200,#ff4b00,#ff0d00,#ff2d00,#ff1300,#ff6a00,#ffa900,#ffd500,#bbff44,#eaff15,#87ff78,#90ff6f,#7dff82,#7cff83,#38ffc7,#3dffc2)"></i></div>
<div class="bb ba" style="left:21.20px;top:134.00px"></div>
<div class="t lb" style="left:94.10px;top:8.10px;transform:translate(-50%,-50%)">Range profile</div>
<div class="t tk" style="left:19.80px;top:17.80px;transform:translate(-100%,-50%) scaleX(0.940)">60</div>
<div class="t tk" style="left:19.80px;top:38.48px;transform:translate(-100%,-50%) scaleX(0.940)">50</div>
<div class="t tk" style="left:19.80px;top:59.16px;transform:translate(-100%,-50%) scaleX(0.940)">40</div>
<div class="t tk" style="left:19.80px;top:79.84px;transform:translate(-100%,-50%) scaleX(0.940)">30</div>
<div class="t tk" style="left:19.80px;top:100.52px;transform:translate(-100%,-50%) scaleX(0.940)">20</div>
<div class="t tk" style="left:19.80px;top:121.20px;transform:translate(-100%,-50%) scaleX(0.940)">10</div>
<div class="t lb" style="left:11.20px;top:75.50px;transform:translate(-50%,-50%) rotate(-90deg) scaleX(1.130)">Range bin</div>
<div class="t tk" style="left:21.20px;top:144.20px;transform:translate(-50%,-50%) scaleX(0.940)">0</div>
<div class="t tk" style="left:35.78px;top:144.20px;transform:translate(-50%,-50%) scaleX(0.940)">1000</div>
<div class="t tk" style="left:50.36px;top:144.20px;transform:translate(-50%,-50%) scaleX(0.940)">2000</div>
<div class="t tk" style="left:64.94px;top:144.20px;transform:translate(-50%,-50%) scaleX(0.940)">3000</div>
<div class="t tk" style="left:79.52px;top:144.20px;transform:translate(-50%,-50%) scaleX(0.940)">4000</div>
<div class="t tk" style="left:94.10px;top:144.20px;transform:translate(-50%,-50%) scaleX(0.940)">5000</div>
<div class="t tk" style="left:108.68px;top:144.20px;transform:translate(-50%,-50%) scaleX(0.940)">6000</div>
<div class="t tk" style="left:123.26px;top:144.20px;transform:translate(-50%,-50%) scaleX(0.940)">7000</div>
<div class="t tk" style="left:137.84px;top:144.20px;transform:translate(-50%,-50%) scaleX(0.940)">8000</div>
<div class="t tk" style="left:152.42px;top:144.20px;transform:translate(-50%,-50%) scaleX(0.940)">9000</div>
<div class="t tk" style="left:167.00px;top:144.20px;transform:translate(-50%,-50%) scaleX(0.940)">10,000</div>
<div class="t lb" style="left:94.10px;top:151.40px;transform:translate(-50%,-50%)">Chirps</div>
<div class="p" style="left:207.00px;top:11.70px;width:145.00px;height:126.30px"><i style="background:linear-gradient(#5affa5,#07fff8,#15ffea,#68ff97,#52ffad,#5fffa0,#49ffb6,#33ffcc,#18ffe7,#33ffcc,#2effd1,#19ffe6,#1fffe0,#50ffaf,#17ffe8,#bbff44,#ffb200,#ff8a00,#ff7c00,#ff7b00,#ff7100,#ff4400,#ff7900,#ff9c00,#ff6f00,#ff9500,#ff6c00,#fcff03,#ffe500,#ffbd00,#ffed00,#c2ff3d)"></i><i style="background:linear-gradient(#30ffcf,#3cffc3,#39ffc6,#43ffbc,#2bffd4,#0bfff4,#00fcff,#3dffc2,#2affd5,#18ffe7,#05fffa,#37ffc8,#54ffab,#48ffb7,#6dff92,#8fff70,#ff9b00,#ff3f00,#ff6900,#ff4600,#ff0c00,#ff4c00,#ff2e00,#ff7700,#ffa000,#ffab00,#ffba00,#ffad00,#ffec00,#feff01,#ecff13,#ffc600)"></i><i style="background:linear-gradient(#00eaff,#00dcff,#00d1ff,#00ecff,#00d1ff,#00c7ff,#00e2ff,#01fffe,#0095ff,#00d2ff,#00d5ff,#07fff8,#00d3ff,#0bfff4,#00c8ff,#59ffa6,#ebff14,#ffa100,#ffaa00,#ff8400,#ffc600,#ffa200,#ffe700,#ff9f00,#ffe000,#faff05,#f9ff06,#fff400,#f4ff0b,#c3ff3c,#abff54,#aeff51)"></i><i style="background:linear-gradient(#0060ff,#0092ff,#0087ff,#00b2ff,#00bfff,#009eff,#0074ff,#0074ff,#007eff,#0038ff,#00a6ff,#0070ff,#0086ff,#007eff,#00e3ff,#00c6ff,#56ffa9,#afff50,#b7ff48,#83ff7c,#8dff72,#93ff6c,#a1ff5e,#59ffa6,#51ffae,#59ffa6,#35ffca,#43ffbc,#3dffc2,#5dffa2,#3effc1,#52ffad)"></i><i style="background:linear-gradient(#0080ff,#009fff,#0065ff,#006dff,#0092ff,#007aff,#0042ff,#0038ff,#005aff,#0043ff,#0029ff,#0051ff,#004dff,#0081ff,#0085ff,#00d6ff,#47ffb8,#b2ff4d,#89ff76,#80ff7f,#93ff6c,#63ff9c,#64ff9b,#35ffca,#52ffad,#52ffad,#48ffb7,#00f0ff,#0afff5,#00ffff,#00ddff,#00ebff)"></i><i style="background:linear-gradient(#006fff,#0037ff,#0055ff,#0027ff,#0040ff,#000bff,#0071ff,#0005ff,#0043ff,#0057ff,#0047ff,#0042ff,#004aff,#0049ff,#008dff,#00aeff,#1affe5,#4bffb4,#25ffda,#44ffbb,#30ffcf,#00c8ff,#00dcff,#00a6ff,#00d9ff,#00f1ff,#00dfff,#00d0ff,#00d3ff,#00d0ff,#00c8ff,#00c2ff)"></i><i style="background:linear-gradient(#0052ff,#0002ff,#0038ff,#0051ff,#0033ff,#0022ff,#0000f7,#0036ff,#0000f5,#0037ff,#000bff,#0019ff,#0046ff,#007eff,#008fff,#007fff,#00ebff,#45ffba,#37ffc8,#00feff,#00f4ff,#14ffeb,#00fcff,#00a2ff,#0099ff,#00bfff,#007cff,#0086ff,#0054ff,#0067ff,#0087ff,#0094ff)"></i><i style="background:linear-gradient(#0033ff,#002bff,#0039ff,#003cff,#0034ff,#001fff,#0031ff,#0029ff,#001bff,#0043ff,#005aff,#0034ff,#0000f5,#0035ff,#000bff,#003dff,#00f0ff,#00e2ff,#00e7ff,#00f2ff,#1cffe3,#00b2ff,#008fff,#008dff,#00cdff,#0083ff,#0098ff,#009fff,#00b5ff,#0095ff,#00b0ff,#0070ff)"></i><i style="background:linear-gradient(#002eff,#002fff,#0062ff,#0056ff,#0043ff,#004eff,#0050ff,#003dff,#002bff,#0051ff,#0034ff,#0014ff,#003eff,#003fff,#0030ff,#0075ff,#00a8ff,#00c1ff,#00ecff,#00f3ff,#00d7ff,#00aaff,#0094ff,#00e4ff,#00a8ff,#008dff,#00b3ff,#0061ff,#0052ff,#0094ff,#009cff,#0061ff)"></i><i style="background:linear-gradient(#0045ff,#0026ff,#005fff,#007dff,#0051ff,#0073ff,#001dff,#005cff,#0075ff,#004eff,#0050ff,#007aff,#0039ff,#006eff,#009fff,#005aff,#0051ff,#00a3ff,#00baff,#005dff,#009cff,#00aaff,#007dff,#00a6ff,#0034ff,#0047ff,#0076ff,#0046ff,#0054ff,#0036ff,#0052ff,#0009ff)"></i><i style="background:linear-gradient(#0082ff,#00bfff,#0074ff,#009cff,#0081ff,#0083ff,#006aff,#006bff,#0081ff,#0092ff,#007fff,#0076ff,#00adff,#00b3ff,#00b9ff,#00dfff,#00f3ff,#0dfff2,#00b0ff,#00b8ff,#00a8ff,#00a3ff,#0098ff,#0058ff,#005fff,#004cff,#009aff,#004bff,#006aff,#007cff,#005bff,#0019ff)"></i><i style="background:linear-gradient(#00f3ff,#00efff,#13ffec,#00aeff,#00d8ff,#00d7ff,#00beff,#00ceff,#0afff5,#01fffe,#00d4ff,#00efff,#00efff,#00efff,#00efff,#00e8ff,#00dfff,#00dbff,#00bdff,#00a8ff,#00f1ff,#00e2ff,#0093ff,#00cfff,#0068ff,#0072ff,#009bff,#0063ff,#0052ff,#0059ff,#0072ff,#0049ff)"></i><i style="background:linear-gradient(#0dfff2,#13ffec,#35ffca,#38ffc7,#3effc1,#5bffa4,#44ffbb,#00d9ff,#3affc5,#3bffc4,#4affb5,#0afff5,#2dffd2,#47ffb8,#5cffa3,#75ff8a,#3fffc0,#29ffd6,#83ff7c,#54ffab,#42ffbd,#45ffba,#00c1ff,#12ffed,#00bfff,#00c7ff,#00d0ff,#009bff,#00a6ff,#00acff,#00fbff,#00e2ff)"></i><i style="background:linear-gradient(#57ffa8,#37ffc8,#53ffac,#3fffc0,#1fffe0,#02fffd,#59ffa6,#38ffc7,#10ffef,#46ffb9,#80ff7f,#a4ff5b,#6aff95,#68ff97,#a3ff5c,#76ff89,#9dff62,#33ffcc,#2fffd0,#28ffd7,#33ffcc,#21ffde,#00edff,#00eaff,#00cbff,#00ecff,#00cdff,#008eff,#00f6ff,#0097ff,#00faff,#00a2ff)"></i><i style="background:linear-gradient(#7fff80,#8fff70,#9eff61,#c4ff3b,#a2ff5d,#87ff78,#acff53,#89ff76,#ebff14,#d0ff2f,#a3ff5c,#f8ff07,#c2ff3d,#e3ff1c,#ffbe00,#dfff20,#ffb800,#ffdd00,#ffff00,#ffcc00,#efff10,#ffe800,#fbff04,#fff200,#d1ff2e,#dfff20,#cfff30,#74ff8b,#91ff6e,#4fffb0,#cdff32,#58ffa7)"></i><i style="background:linear-gradient(#daff25,#70ff8f,#cbff34,#aeff51,#b6ff49,#c7ff38,#c5ff3a,#fcff03,#d4ff2b,#f1ff0e,#ffe600,#e0ff1f,#ffe500,#ffe700,#ffb400,#ffb700,#ff8f00,#ffa600,#ffab00,#ff6d00,#ff9d00,#ff9f00,#ff7100,#ffb600,#ffcb00,#ffba00,#ffbd00,#f1ff0e,#ffe400,#ffdf00,#d3ff2c,#c8ff37)"></i><i style="background:linear-gradient(#ceff31,#feff01,#fffa00,#e6ff19,#fffa00,#cbff34,#b1ff4e,#fff500,#f6ff09,#ffd900,#ffe900,#ffdf00,#ffda00,#ff7700,#ff8200,#ff8d00,#ff1f00,#ff1900,#ff1900,#ff0500,#ff0400,#ff2000,#fc0000,#ff1d00,#ff2f00,#ff2000,#ff2400,#ff5400,#ff5000,#ff5000,#ff8f00,#ff7c00)"></i><i style="background:linear-gradient(#ff9c00,#ffb200,#ffa900,#ffaf00,#ffaf00,#ffe900,#ffd900,#ffec00,#ffde00,#ffdb00,#fff200,#ffe000,#ff9d00,#ff9400,#ff5f00,#ff2e00,#ff1d00,#ff4300,#ff2b00,#f30000,#ef0000,#ff0200,#ff0d00,#ff5400,#ff6500,#ff0b00,#ff1b00,#ff3000,#ff5300,#ff5900,#ff7800,#ffcf00)"></i><i style="background:linear-gradient(#ff7100,#ff8d00,#ffcc00,#ffbe00,#ffa200,#fff100,#ffd800,#ffbe00,#fff300,#ffc100,#ff9f00,#ff9500,#ffb800,#ff7e00,#ff5600,#ff2900,#ff0a00,#f10000,#ff1100,#dd0000,#ce0000,#da0000,#ff0100,#fd0000,#fd0000,#f00000,#ff0400,#ff0100,#ff2200,#ff9b00,#ff8200,#ffbb00)"></i><i style="background:linear-gradient(#ffa300,#ffc600,#ffd000,#ffbf00,#ff7b00,#ff8700,#ff6800,#ff7600,#ff8600,#ff8100,#ff9d00,#ff7400,#ff4f00,#ff7200,#ff2b00,#ff3600,#ff1400,#dd0000,#cf0000,#ba0000,#b90000,#b50000,#ae0000,#b60000,#ba0000,#c00000,#d30000,#df0000,#fe0000,#ff2100,#ff3e00,#ff4800)"></i><i style="background:linear-gradient(#feff01,#ffc300,#ffd800,#ffdc00,#ffd100,#fcff03,#ffcb00,#efff10,#beff41,#ffb700,#ffef00,#ff7700,#ffd900,#ff8000,#ff7a00,#ff5a00,#ff5000,#ff4300,#ff1e00,#e40000,#ff0800,#ff0a00,#ff3a00,#ff2200,#ff5100,#ff1800,#ff1300,#ff4500,#ff6300,#ff7200,#ffb900,#ff8c00)"></i><i style="background:linear-gradient(#e6ff19,#c3ff3c,#d5ff2a,#ddff22,#e7ff18,#fff300,#ffc100,#f4ff0b,#e0ff1f,#fff600,#fdff02,#f9ff06,#ffa700,#ff5e00,#ff3b00,#ff7800,#ff1000,#dd0000,#da0000,#cb0000,#cc0000,#ff0400,#e30000,#ff0600,#fd0000,#ff0700,#ff3000,#ff1e00,#ff3e00,#ff8100,#ff8600,#ffcd00)"></i><i style="background:linear-gradient(#d3ff2c,#d1ff2e,#a6ff59,#d7ff28,#bbff44,#ccff33,#c4ff3b,#a2ff5d,#dbff24,#9aff65,#baff45,#f8ff07,#d4ff2b,#ffff00,#ffcb00,#ffc600,#ff0900,#f20000,#ff1b00,#d70000,#df0000,#e40000,#f30000,#f90000,#ff1400,#ff2500,#ff6200,#ff5600,#ff5300,#ff7600,#ff9800,#ffd300)"></i><i style="background:linear-gradient(#c7ff38,#93ff6c,#fdff02,#fdff02,#94ff6b,#adff52,#bfff40,#efff10,#cbff34,#b0ff4f,#a5ff5a,#b9ff46,#edff12,#ffde00,#ffb500,#ffa800,#ff1400,#f60000,#ff2800,#f40000,#f90000,#f90000,#ff1c00,#ff4400,#ff4e00,#ff7500,#ff3200,#ff8f00,#ff7100,#ffb300,#ff8d00,#ffb700)"></i><i style="background:linear-gradient(#5affa5,#acff53,#5fffa0,#77ff88,#8dff72,#83ff7c,#6aff95,#8aff75,#82ff7d,#68ff97,#67ff98,#baff45,#bdff42,#f3ff0c,#ffb500,#ffc300,#ff6200,#ff4b00,#ff1200,#ff3600,#ff5700,#ff7300,#ff5200,#ff4c00,#ff7b00,#ffbc00,#ff9800,#ff8200,#fff300,#ffed00,#fcff03,#ffdd00)"></i><i style="background:linear-gradient(#8fff70,#75ff8a,#84ff7b,#65ff9a,#91ff6e,#7aff85,#71ff8e,#36ffc9,#64ff9b,#96ff69,#b1ff4e,#cfff30,#d2ff2d,#d7ff28,#ffda00,#fffc00,#ff2f00,#ff0500,#ff2100,#ff1d00,#ff2400,#ff2700,#ff4100,#ff5900,#ff8900,#ff4d00,#ffbd00,#fffc00,#ffe700,#d8ff27,#b1ff4e,#e8ff17)"></i><i style="background:linear-gradient(#3bffc4,#64ff9b,#aeff51,#7dff82,#9bff64,#a1ff5e,#79ff86,#bbff44,#c8ff37,#a1ff5e,#a0ff5f,#caff35,#bcff43,#e5ff1a,#f3ff0c,#ffec00,#ff9400,#ff6600,#ff4600,#ff7900,#ff9900,#ff5300,#ffa000,#ff9600,#ffbe00,#ffaf00,#ffc900,#fffa00,#ffcf00,#e6ff19,#ecff13,#f4ff0b)"></i><i style="background:linear-gradient(#8cff73,#4fffb0,#7aff85,#52ffad,#74ff8b,#40ffbf,#7fff80,#b9ff46,#72ff8d,#9aff65,#aeff51,#a4ff5b,#c7ff38,#91ff6e,#b3ff4c,#fcff03,#ff9900,#ffd400,#ff8400,#ffbe00,#ff7000,#ff9500,#ff8700,#ffee00,#efff10,#fff700,#d6ff29,#b5ff4a,#c9ff36,#9cff63,#9bff64,#6eff91)"></i><i style="background:linear-gradient(#32ffcd,#42ffbd,#68ff97,#3fffc0,#3bffc4,#81ff7e,#3cffc3,#48ffb7,#75ff8a,#71ff8e,#81ff7e,#6eff91,#8bff74,#a1ff5e,#81ff7e,#c6ff39,#e3ff1c,#ffdc00,#e1ff1e,#ffe100,#ffe900,#eaff15,#ffeb00,#f5ff0a,#e8ff17,#c4ff3b,#7dff82,#c3ff3c,#94ff6b,#5affa5,#3affc5,#5effa1)"></i><i style="background:linear-gradient(#43ffbc,#54ffab,#22ffdd,#50ffaf,#7cff83,#62ff9d,#5fffa0,#e0ff1f,#99ff66,#b3ff4c,#b4ff4b,#afff50,#ccff33,#cfff30,#d0ff2f,#ffe300,#ffc000,#ffd200,#ffb700,#ffac00,#ffe700,#ffe300,#ffce00,#ffdc00,#ffa600,#ffe100,#ffe700,#f5ff0a,#eeff11,#dcff23,#b1ff4e,#dbff24)"></i><i style="background:linear-gradient(#6bff94,#88ff77,#3cffc3,#7eff81,#4cffb3,#7cff83,#4dffb2,#63ff9c,#43ffbc,#a9ff56,#66ff99,#68ff97,#94ff6b,#49ffb6,#7bff84,#a4ff5b,#c2ff3d,#c2ff3d,#c6ff39,#ebff14,#f0ff0f,#fff600,#d8ff27,#bcff43,#d3ff2c,#ffc200,#a8ff57,#d4ff2b,#9cff63,#86ff79,#71ff8e,#70ff8f)"></i><i style="background:linear-gradient(#79ff86,#8bff74,#8aff75,#50ffaf,#82ff7d,#4fffb0,#68ff97,#8dff72,#80ff7f,#58ffa7,#8cff73,#95ff6a,#60ff9f,#b9ff46,#93ff6c,#b4ff4b,#faff05,#ffe100,#ffcd00,#ffe300,#fffc00,#ffa800,#ffe300,#ffef00,#ffd500,#dfff20,#faff05,#d8ff27,#efff10,#d0ff2f,#b7ff48,#c2ff3d)"></i><i style="background:linear-gradient(#0dfff2,#00deff,#26ffd9,#00fdff,#2cffd3,#51ffae,#4cffb3,#31ffce,#09fff6,#37ffc8,#58ffa7,#48ffb7,#aaff55,#aeff51,#75ff8a,#c5ff3a,#feff01,#deff21,#ffba00,#ffdd00,#baff45,#f2ff0d,#ffe500,#fbff04,#a8ff57,#d9ff26,#bfff40,#82ff7d,#c7ff38,#a4ff5b,#44ffbb,#5dffa2)"></i><i style="background:linear-gradient(#72ff8d,#3bffc4,#80ff7f,#15ffea,#6cff93,#9aff65,#4effb1,#59ffa6,#94ff6b,#75ff8a,#52ffad,#70ff8f,#87ff78,#b3ff4c,#7fff80,#c1ff3e,#ebff14,#ffed00,#ffbc00,#fff600,#ffda00,#f6ff09,#fff800,#ffff00,#beff41,#cfff30,#dfff20,#abff54,#9cff63,#93ff6c,#b7ff48,#70ff8f)"></i><i style="background:linear-gradient(#04fffb,#00cbff,#10ffef,#2cffd3,#01fffe,#2bffd4,#27ffd8,#00fcff,#00f7ff,#2bffd4,#48ffb7,#27ffd8,#28ffd7,#36ffc9,#80ff7f,#6bff94,#b4ff4b,#d9ff26,#dcff23,#e5ff1a,#f7ff08,#acff53,#e4ff1b,#b8ff47,#86ff79,#7fff80,#91ff6e,#88ff77,#a7ff58,#81ff7e,#89ff76,#73ff8c)"></i><i style="background:linear-gradient(#00c9ff,#00feff,#1effe1,#4dffb2,#11ffee,#12ffed,#2affd5,#2bffd4,#3bffc4,#53ffac,#02fffd,#47ffb8,#7bff84,#72ff8d,#a1ff5e,#c8ff37,#aaff55,#e2ff1d,#feff01,#ffe000,#b5ff4a,#cfff30,#e0ff1f,#b1ff4e,#fbff04,#9cff63,#beff41,#76ff89,#81ff7e,#45ffba,#48ffb7,#47ffb8)"></i><i style="background:linear-gradient(#1affe5,#00ffff,#00f8ff,#00bdff,#00b5ff,#00f7ff,#27ffd8,#00bcff,#00f1ff,#00f5ff,#05fffa,#01fffe,#17ffe8,#1bffe4,#0bfff4,#67ff98,#b4ff4b,#bfff40,#99ff66,#74ff8b,#77ff88,#8fff70,#5dffa2,#69ff96,#5dffa2,#52ffad,#51ffae,#30ffcf,#69ff96,#2effd1,#00f8ff,#19ffe6)"></i><i style="background:linear-gradient(#06fff9,#00aaff,#00c4ff,#0093ff,#00b5ff,#00bbff,#00abff,#00ebff,#00ebff,#00efff,#00f1ff,#1cffe3,#37ffc8,#2bffd4,#1dffe2,#3affc5,#6dff92,#91ff6e,#a6ff59,#94ff6b,#88ff77,#71ff8e,#a5ff5a,#17ffe8,#70ff8f,#4affb5,#43ffbc,#2dffd2,#22ffdd,#4effb1,#35ffca,#3bffc4)"></i><i style="background:linear-gradient(#00dcff,#0091ff,#00baff,#00bdff,#0097ff,#00c5ff,#00deff,#009cff,#00dbff,#00c4ff,#00b6ff,#0cfff3,#00b9ff,#06fff9,#00b7ff,#00f1ff,#06fff9,#45ffba,#0ffff0,#78ff87,#57ffa8,#43ffbc,#6fff90,#20ffdf,#00f2ff,#19ffe6,#00f1ff,#2fffd0,#14ffeb,#00e9ff,#3bffc4,#12ffed)"></i><i style="background:linear-gradient(#008aff,#0082ff,#006cff,#00a1ff,#008cff,#0070ff,#00b3ff,#007bff,#007eff,#0030ff,#00a6ff,#00b5ff,#0098ff,#0075ff,#00b1ff,#4fffb0,#00bcff,#00f5ff,#02fffd,#0cfff3,#00eaff,#3cffc3,#12ffed,#22ffdd,#00fbff,#16ffe9,#1bffe4,#08fff7,#00daff,#00e5ff,#04fffb,#00e5ff)"></i><i style="background:linear-gradient(#0099ff,#00adff,#00b4ff,#00d2ff,#00ddff,#00beff,#0062ff,#00bbff,#00c7ff,#00aeff,#00ccff,#008eff,#00b7ff,#00baff,#30ffcf,#00e7ff,#009eff,#08fff7,#15ffea,#07fff8,#00feff,#00ffff,#23ffdc,#21ffde,#00f5ff,#00b8ff,#00d8ff,#00d2ff,#00e1ff,#00afff,#00f5ff,#00c8ff)"></i><i style="background:linear-gradient(#0095ff,#00adff,#0075ff,#008fff,#0048ff,#007eff,#0069ff,#006bff,#0087ff,#0079ff,#006fff,#0072ff,#003aff,#008bff,#00a6ff,#00daff,#00d8ff,#24ffdb,#16ffe9,#00ecff,#0bfff4,#0bfff4,#00e2ff,#26ffd9,#00ffff,#03fffc,#00d2ff,#00dcff,#00ceff,#00d1ff,#007dff,#00b3ff)"></i><i style="background:linear-gradient(#0090ff,#005eff,#0058ff,#0060ff,#001eff,#004bff,#003dff,#0047ff,#004aff,#0078ff,#0054ff,#004cff,#0087ff,#00a9ff,#008dff,#00e2ff,#00fcff,#00d1ff,#00d0ff,#00daff,#00dfff,#0dfff2,#00dbff,#00e8ff,#0077ff,#00e8ff,#00b2ff,#008aff,#0072ff,#0073ff,#007fff,#00c6ff)"></i><i style="background:linear-gradient(#0031ff,#0030ff,#0000fd,#003cff,#0045ff,#0032ff,#0076ff,#0058ff,#002aff,#005dff,#00a4ff,#00a3ff,#007dff,#00a9ff,#009fff,#00d8ff,#00a1ff,#00bcff,#00f5ff,#00f4ff,#00e9ff,#00e2ff,#00d2ff,#00edff,#00caff,#00d0ff,#0096ff,#009dff,#006cff,#005eff,#003eff,#0055ff)"></i><i style="background:linear-gradient(#0083ff,#0088ff,#0023ff,#003bff,#006cff,#0045ff,#002eff,#0028ff,#0000eb,#0017ff,#0020ff,#0068ff,#0070ff,#002dff,#003eff,#007dff,#0093ff,#00cbff,#00d2ff,#00ddff,#00a6ff,#0099ff,#00b8ff,#0096ff,#0085ff,#003eff,#0040ff,#0039ff,#003fff,#005dff,#0086ff,#001fff)"></i><i style="background:linear-gradient(#0000ed,#0000f7,#001cff,#0052ff,#002eff,#0056ff,#0055ff,#005bff,#0022ff,#0098ff,#006fff,#0096ff,#00b6ff,#0081ff,#0050ff,#00a9ff,#007aff,#00c5ff,#00c8ff,#00b7ff,#00b7ff,#00dfff,#0096ff,#007cff,#00bdff,#002eff,#0082ff,#003dff,#0031ff,#0074ff,#0059ff,#0029ff)"></i><i style="background:linear-gradient(#003eff,#001fff,#0028ff,#0025ff,#0035ff,#0027ff,#002aff,#004cff,#0056ff,#0049ff,#007aff,#0087ff,#006fff,#005eff,#008bff,#0083ff,#00eaff,#00d7ff,#00d0ff,#00e4ff,#00d1ff,#009cff,#00a3ff,#0085ff,#008cff,#008cff,#0089ff,#003aff,#002fff,#0056ff,#0006ff,#002cff)"></i><i style="background:linear-gradient(#0037ff,#0000f8,#0000f9,#0000f4,#0027ff,#0030ff,#002eff,#0000fb,#001cff,#002aff,#0042ff,#0038ff,#0012ff,#003dff,#005bff,#008eff,#00aeff,#00f7ff,#00acff,#00c9ff,#0084ff,#00baff,#00c1ff,#00a5ff,#0027ff,#0057ff,#002dff,#0027ff,#0003ff,#003bff,#0000e4,#0000fa)"></i><i style="background:linear-gradient(#0000f6,#0029ff,#0018ff,#000dff,#002cff,#0005ff,#0001ff,#0004ff,#0034ff,#004fff,#008bff,#0019ff,#0062ff,#0069ff,#009dff,#0050ff,#00b5ff,#0098ff,#00c6ff,#00e6ff,#00f6ff,#00dcff,#00c7ff,#00caff,#007bff,#0061ff,#0038ff,#0052ff,#0062ff,#004aff,#004dff,#001bff)"></i><i style="background:linear-gradient(#0015ff,#0067ff,#0028ff,#0017ff,#0078ff,#0041ff,#006bff,#0036ff,#005fff,#006fff,#0054ff,#0023ff,#0068ff,#005eff,#0044ff,#009cff,#00ecff,#00e1ff,#06fff9,#00eaff,#00a9ff,#00daff,#00a5ff,#009fff,#0083ff,#0078ff,#002cff,#004aff,#0050ff,#001cff,#0022ff,#003aff)"></i><i style="background:linear-gradient(#0021ff,#005fff,#0076ff,#003dff,#0057ff,#004eff,#0005ff,#006aff,#0063ff,#0068ff,#002bff,#0064ff,#007bff,#0072ff,#007eff,#0098ff,#00edff,#009dff,#0ffff0,#00f8ff,#00efff,#00e0ff,#13ffec,#00bcff,#007cff,#006dff,#0097ff,#0011ff,#002eff,#0025ff,#0023ff,#0044ff)"></i><i style="background:linear-gradient(#0016ff,#001bff,#0000f6,#0053ff,#0018ff,#0076ff,#0021ff,#0088ff,#003dff,#0035ff,#006eff,#006fff,#0053ff,#0033ff,#0091ff,#0046ff,#00bfff,#00a3ff,#009aff,#00c1ff,#00abff,#008bff,#0053ff,#005cff,#004eff,#002bff,#0000fc,#0000fa,#0000f1,#0000e2,#0000fd,#0017ff)"></i><i style="background:linear-gradient(#001cff,#0000fa,#0048ff,#0000ed,#0008ff,#0006ff,#0059ff,#0047ff,#0000de,#0026ff,#002eff,#0033ff,#0000e8,#0066ff,#0000f0,#008aff,#0075ff,#00b9ff,#0091ff,#008dff,#00b9ff,#005fff,#008cff,#0057ff,#002fff,#000bff,#0043ff,#001cff,#0014ff,#0000f7,#0045ff,#0022ff)"></i><i style="background:linear-gradient(#0012ff,#0005ff,#0009ff,#004cff,#0038ff,#0066ff,#0051ff,#005aff,#0016ff,#0045ff,#0054ff,#0056ff,#005eff,#0092ff,#0085ff,#005cff,#007eff,#00dcff,#009fff,#00b9ff,#00bcff,#009bff,#0087ff,#005fff,#0057ff,#004bff,#002dff,#0008ff,#0013ff,#002aff,#0028ff,#0010ff)"></i><i style="background:linear-gradient(#0012ff,#0000e2,#0017ff,#0046ff,#0000e9,#0000d7,#0000ec,#0028ff,#0034ff,#0000fd,#0047ff,#0021ff,#0007ff,#0047ff,#000cff,#0078ff,#0068ff,#007cff,#00cfff,#0080ff,#00dcff,#00a5ff,#0093ff,#0030ff,#0054ff,#0018ff,#002dff,#000fff,#0000f9,#0000f7,#0000be,#0017ff)"></i><i style="background:linear-gradient(#0037ff,#0040ff,#0039ff,#0051ff,#003eff,#0044ff,#008fff,#004eff,#006aff,#008dff,#008aff,#0060ff,#0090ff,#0035ff,#0070ff,#0058ff,#004fff,#00adff,#009aff,#0058ff,#0073ff,#009eff,#006bff,#0068ff,#0028ff,#0018ff,#0015ff,#0000f9,#0018ff,#0000f7,#0000e9,#0000da)"></i><i style="background:linear-gradient(#0000fb,#0027ff,#0000f9,#0000eb,#0008ff,#0042ff,#0057ff,#0067ff,#002aff,#007cff,#0059ff,#009bff,#0065ff,#003eff,#00b4ff,#009bff,#00ecff,#00dcff,#00d0ff,#00b2ff,#00c9ff,#00bdff,#0090ff,#008cff,#00ceff,#0086ff,#0029ff,#0029ff,#004aff,#0049ff,#0004ff,#001cff)"></i><i style="background:linear-gradient(#002fff,#0000d6,#0043ff,#0012ff,#0018ff,#0048ff,#0059ff,#0039ff,#002dff,#0013ff,#002cff,#0042ff,#0032ff,#0034ff,#0056ff,#004fff,#007fff,#0090ff,#00a6ff,#006bff,#00a0ff,#0080ff,#0087ff,#0070ff,#005eff,#0053ff,#0037ff,#0059ff,#002cff,#0021ff,#0000ff,#0000ef)"></i><i style="background:linear-gradient(#002aff,#0000d8,#0036ff,#0013ff,#002fff,#0000f8,#0009ff,#0020ff,#0021ff,#0006ff,#0000f8,#000dff,#0036ff,#003fff,#005dff,#00b9ff,#009aff,#00fdff,#00c5ff,#00d1ff,#00b3ff,#0095ff,#0075ff,#00bcff,#0069ff,#0018ff,#0072ff,#0000ef,#0000fd,#0000da,#000bff,#002aff)"></i><i style="background:linear-gradient(#001cff,#004fff,#0024ff,#000bff,#0024ff,#0007ff,#003aff,#0013ff,#0047ff,#0007ff,#0025ff,#0041ff,#0000ff,#007cff,#0030ff,#007cff,#008cff,#0099ff,#0097ff,#00baff,#0086ff,#0083ff,#0088ff,#007fff,#0039ff,#005cff,#003eff,#0056ff,#005eff,#000cff,#000fff,#0025ff)"></i><i style="background:linear-gradient(#0029ff,#0000e7,#0000f9,#0000ee,#0000f0,#002fff,#0027ff,#0018ff,#000aff,#0009ff,#0044ff,#0049ff,#0039ff,#0081ff,#0071ff,#00bbff,#00f3ff,#00b1ff,#00b2ff,#00cdff,#00f9ff,#00bdff,#0097ff,#0071ff,#005bff,#005eff,#004cff,#0025ff,#0024ff,#0015ff,#0014ff,#0024ff)"></i><i style="background:linear-gradient(#0000f0,#0011ff,#0051ff,#0011ff,#0001ff,#0000eb,#0000d6,#003aff,#0000fb,#0000b3,#000bff,#0013ff,#0013ff,#0021ff,#006eff,#0086ff,#0094ff,#00cbff,#00abff,#00b5ff,#009aff,#00b8ff,#0097ff,#0076ff,#0031ff,#000aff,#0009ff,#0000e3,#0000fd,#0000b8,#0000ee,#0000e8)"></i><i style="background:linear-gradient(#0008ff,#0000ce,#0029ff,#0003ff,#0012ff,#0030ff,#003bff,#0008ff,#0057ff,#004bff,#000dff,#000fff,#0025ff,#0061ff,#003dff,#006cff,#00a6ff,#005dff,#00a1ff,#009aff,#0092ff,#008dff,#006dff,#0039ff,#0012ff,#001dff,#0015ff,#0000ec,#0000e4,#0004ff,#0000e7,#0006ff)"></i><i style="background:linear-gradient(#002aff,#0052ff,#0041ff,#0052ff,#0083ff,#003cff,#004eff,#0057ff,#0025ff,#007bff,#0056ff,#0079ff,#0074ff,#00a9ff,#0084ff,#0098ff,#00bbff,#00f1ff,#00d0ff,#00c0ff,#00c0ff,#00a9ff,#0097ff,#00c1ff,#0057ff,#007bff,#0078ff,#0049ff,#0046ff,#0027ff,#004eff,#0039ff)"></i><i style="background:linear-gradient(#005eff,#0044ff,#0022ff,#0003ff,#002cff,#0029ff,#0053ff,#0013ff,#0008ff,#0023ff,#0000f0,#0000ed,#004bff,#002cff,#003eff,#0035ff,#004fff,#007fff,#0057ff,#006aff,#005fff,#004fff,#004eff,#003dff,#0020ff,#0002ff,#000fff,#0000dc,#0000fa,#0000cf,#0000f1,#001bff)"></i><i style="background:linear-gradient(#0000f7,#0000fa,#0000fc,#002bff,#001eff,#003eff,#0024ff,#0018ff,#0000f6,#0000e9,#0000c9,#0000c8,#001eff,#0046ff,#0046ff,#0050ff,#001eff,#0059ff,#0058ff,#006eff,#0064ff,#003dff,#0062ff,#002bff,#0010ff,#000aff,#0043ff,#0000fb,#0000e3,#0000c7,#0000ee,#0000e2)"></i><i style="background:linear-gradient(#0045ff,#0055ff,#0041ff,#0061ff,#0051ff,#0077ff,#0037ff,#0085ff,#0037ff,#0056ff,#002bff,#0059ff,#0040ff,#0086ff,#0059ff,#00abff,#00efff,#00f9ff,#11ffee,#00d3ff,#00d2ff,#00b7ff,#006bff,#00a7ff,#001fff,#0070ff,#004fff,#0008ff,#004aff,#004dff,#0025ff,#003aff)"></i><i style="background:linear-gradient(#0000f6,#000eff,#0037ff,#0038ff,#0000e4,#004eff,#002bff,#003aff,#008aff,#0058ff,#000dff,#002dff,#0026ff,#0020ff,#0039ff,#0045ff,#0063ff,#00a5ff,#0090ff,#0091ff,#00baff,#005eff,#0097ff,#00afff,#0018ff,#0035ff,#002fff,#0049ff,#001aff,#0001ff,#0016ff,#0000cb)"></i><i style="background:linear-gradient(#0000c7,#0000df,#0000b1,#0000bc,#0000db,#0000a7,#0000d9,#000080,#0000f2,#0000b8,#0000db,#0000fe,#000eff,#0000e2,#0000fe,#0000fb,#003fff,#0095ff,#0056ff,#0036ff,#003eff,#0000ef,#0023ff,#0000f4,#0000da,#001bff,#0000c6,#0000f1,#0000b0,#0000f9,#0000d7,#0000d7)"></i><i style="background:linear-gradient(#0028ff,#005bff,#0023ff,#0056ff,#0004ff,#002cff,#003bff,#003fff,#003aff,#002dff,#004cff,#0075ff,#0037ff,#0051ff,#006dff,#0065ff,#009bff,#0090ff,#009aff,#00bdff,#00afff,#0068ff,#0052ff,#004fff,#0048ff,#0025ff,#0009ff,#0051ff,#0000db,#001aff,#0018ff,#0000e0)"></i><i style="background:linear-gradient(#0053ff,#007bff,#0046ff,#0055ff,#0033ff,#005cff,#004aff,#0064ff,#0031ff,#003aff,#0063ff,#0055ff,#0059ff,#007dff,#0083ff,#0083ff,#0094ff,#0077ff,#0087ff,#0097ff,#00ccff,#009eff,#0067ff,#00b6ff,#006cff,#003eff,#0019ff,#0024ff,#0060ff,#0031ff,#0029ff,#0073ff)"></i><i style="background:linear-gradient(#0016ff,#001dff,#0060ff,#0073ff,#001bff,#003cff,#003bff,#0009ff,#005dff,#005aff,#004eff,#0095ff,#0066ff,#004dff,#008eff,#0086ff,#00d9ff,#007eff,#0087ff,#00dbff,#0087ff,#0084ff,#0084ff,#0060ff,#0018ff,#006cff,#003cff,#0000d4,#0005ff,#001fff,#000cff,#0031ff)"></i></div>
<div class="bb" style="left:207.00px;top:134.00px"></div>
<div class="t lb" style="left:279.50px;top:8.10px;transform:translate(-50%,-50%)">Range profile</div>
<div class="t tk" style="left:205.60px;top:17.80px;transform:translate(-100%,-50%) scaleX(0.940)">60</div>
<div class="t tk" style="left:205.60px;top:38.48px;transform:translate(-100%,-50%) scaleX(0.940)">50</div>
<div class="t tk" style="left:205.60px;top:59.16px;transform:translate(-100%,-50%) scaleX(0.940)">40</div>
<div class="t tk" style="left:205.60px;top:79.84px;transform:translate(-100%,-50%) scaleX(0.940)">30</div>
<div class="t tk" style="left:205.60px;top:100.52px;transform:translate(-100%,-50%) scaleX(0.940)">20</div>
<div class="t tk" style="left:205.60px;top:121.20px;transform:translate(-100%,-50%) scaleX(0.940)">10</div>
<div class="t lb" style="left:197.00px;top:75.50px;transform:translate(-50%,-50%) rotate(-90deg) scaleX(1.130)">Range bin</div>
<div class="t tk" style="left:207.00px;top:144.20px;transform:translate(-50%,-50%) scaleX(0.940)">0</div>
<div class="t tk" style="left:221.50px;top:144.20px;transform:translate(-50%,-50%) scaleX(0.940)">500</div>
<div class="t tk" style="left:236.00px;top:144.20px;transform:translate(-50%,-50%) scaleX(0.940)">1000</div>
<div class="t tk" style="left:250.50px;top:144.20px;transform:translate(-50%,-50%) scaleX(0.940)">1500</div>
<div class="t tk" style="left:265.00px;top:144.20px;transform:translate(-50%,-50%) scaleX(0.940)">2000</div>
<div class="t tk" style="left:279.50px;top:144.20px;transform:translate(-50%,-50%) scaleX(0.940)">2500</div>
<div class="t tk" style="left:294.00px;top:144.20px;transform:translate(-50%,-50%) scaleX(0.940)">3000</div>
<div class="t tk" style="left:308.50px;top:144.20px;transform:translate(-50%,-50%) scaleX(0.940)">3500</div>
<div class="t tk" style="left:323.00px;top:144.20px;transform:translate(-50%,-50%) scaleX(0.940)">4000</div>
<div class="t tk" style="left:337.50px;top:144.20px;transform:translate(-50%,-50%) scaleX(0.940)">4500</div>
<div class="t tk" style="left:352.00px;top:144.20px;transform:translate(-50%,-50%) scaleX(0.940)">5000</div>
<div class="t lb" style="left:279.50px;top:151.40px;transform:translate(-50%,-50%)">Chirps</div>
<div class="p" style="left:392.20px;top:11.70px;width:145.10px;height:126.30px"><i style="background:linear-gradient(#f3ff0c,#edff12,#fff700,#cbff34,#fff900,#ffd100,#ffd600,#ffaa00,#ffd100,#ffde00,#e2ff1d,#c2ff3d,#ceff31,#c7ff38,#ddff22,#cfff30,#cdff32,#fffc00,#ffce00,#ffb200,#ffe700,#fdff02,#e7ff18,#dfff20,#c8ff37,#7dff82,#93ff6c,#dbff24,#b1ff4e,#e4ff1b,#fff200,#faff05)"></i><i style="background:linear-gradient(#ffe100,#fff700,#ffd000,#ffc000,#ffbb00,#ffaa00,#ffd900,#ffc500,#ffe100,#b8ff47,#cfff30,#daff25,#bdff42,#ffdc00,#fff000,#e7ff18,#ff8100,#ff9300,#ffde00,#ff8300,#ffa300,#ffb900,#ffd300,#ffed00,#efff10,#abff54,#d3ff2c,#fffc00,#eeff11,#caff35,#fff800,#edff12)"></i><i style="background:linear-gradient(#95ff6a,#91ff6e,#99ff66,#c2ff3d,#d1ff2e,#c1ff3e,#edff12,#deff21,#c2ff3d,#b7ff48,#b2ff4d,#a3ff5c,#bbff44,#88ff77,#a7ff58,#96ff69,#fffb00,#e8ff17,#ffeb00,#d7ff28,#ffdf00,#e1ff1e,#f4ff0b,#8eff71,#a8ff57,#9bff64,#87ff78,#7aff85,#88ff77,#9dff62,#6fff90,#cfff30)"></i><i style="background:linear-gradient(#33ffcc,#5dffa2,#4dffb2,#42ffbd,#51ffae,#37ffc8,#7eff81,#72ff8d,#3cffc3,#67ff98,#0dfff2,#3effc1,#1bffe4,#34ffcb,#3cffc3,#4cffb3,#b5ff4a,#cdff32,#baff45,#fcff03,#b6ff49,#a9ff56,#94ff6b,#b5ff4a,#66ff99,#65ff9a,#3fffc0,#71ff8e,#5cffa3,#44ffbb,#69ff96,#2fffd0)"></i><i style="background:linear-gradient(#00f2ff,#06fff9,#37ffc8,#1fffe0,#09fff6,#00e7ff,#3dffc2,#00f2ff,#00f8ff,#00ebff,#0bfff4,#00e9ff,#34ffcb,#20ffdf,#2cffd3,#3dffc2,#a3ff5c,#bbff44,#e4ff1b,#fff400,#edff12,#b1ff4e,#a4ff5b,#9fff60,#58ffa7,#8aff75,#71ff8e,#68ff97,#6bff94,#6aff95,#3bffc4,#65ff9a)"></i><i style="background:linear-gradient(#80ff7f,#0cfff3,#21ffde,#27ffd8,#3bffc4,#3bffc4,#2fffd0,#08fff7,#82ff7d,#50ffaf,#00f1ff,#32ffcd,#1affe5,#19ffe6,#0afff5,#00fbff,#5affa5,#92ff6d,#64ff9b,#70ff8f,#53ffac,#5bffa4,#3bffc4,#a1ff5e,#4fffb0,#40ffbf,#43ffbc,#61ff9e,#11ffee,#63ff9c,#98ff67,#78ff87)"></i><i style="background:linear-gradient(#2fffd0,#02fffd,#56ffa9,#00e1ff,#18ffe7,#08fff7,#08fff7,#00ffff,#00e7ff,#00d7ff,#00f4ff,#00d6ff,#00ceff,#00adff,#0092ff,#00a6ff,#01fffe,#4dffb2,#2dffd2,#40ffbf,#4cffb3,#20ffdf,#18ffe7,#00feff,#07fff8,#09fff6,#00d1ff,#00e5ff,#00f5ff,#02fffd,#01fffe,#00d6ff)"></i><i style="background:linear-gradient(#00a2ff,#00baff,#00b8ff,#00a9ff,#00b9ff,#00c9ff,#00b5ff,#00aaff,#00a6ff,#00ceff,#00d1ff,#00ccff,#00ccff,#14ffeb,#00d3ff,#00f4ff,#00dcff,#00feff,#00f5ff,#00e2ff,#00f3ff,#2effd1,#00e3ff,#00f9ff,#00e3ff,#00fbff,#00baff,#00efff,#008cff,#00faff,#00e9ff,#00cdff)"></i><i style="background:linear-gradient(#00d1ff,#0081ff,#0089ff,#00c0ff,#00dcff,#00c3ff,#00b2ff,#00b5ff,#009bff,#00c2ff,#0079ff,#007bff,#0098ff,#00bfff,#00cbff,#00ffff,#39ffc6,#00d9ff,#00fcff,#05fffa,#06fff9,#00c3ff,#00d4ff,#00ebff,#00c8ff,#00d7ff,#00b1ff,#00a2ff,#0092ff,#00a9ff,#00baff,#00a2ff)"></i><i style="background:linear-gradient(#003bff,#003dff,#0098ff,#0055ff,#0052ff,#0093ff,#00a4ff,#00aeff,#0084ff,#0083ff,#009cff,#005aff,#007eff,#0059ff,#0082ff,#0054ff,#00e2ff,#00d6ff,#00edff,#00ddff,#00c7ff,#0099ff,#00a4ff,#00adff,#00d8ff,#0071ff,#00a2ff,#0069ff,#0082ff,#00b1ff,#00aaff,#0095ff)"></i><i style="background:linear-gradient(#007aff,#006eff,#0054ff,#0056ff,#00a8ff,#0077ff,#005cff,#0039ff,#0059ff,#0030ff,#0039ff,#0040ff,#0082ff,#0053ff,#0090ff,#007dff,#00cdff,#00e5ff,#00d4ff,#00edff,#00ecff,#00cfff,#00aaff,#00c7ff,#0086ff,#0059ff,#0069ff,#005dff,#006eff,#0074ff,#0083ff,#0097ff)"></i><i style="background:linear-gradient(#0076ff,#0072ff,#005dff,#0002ff,#0042ff,#002bff,#0053ff,#0051ff,#004fff,#0064ff,#008fff,#0050ff,#0061ff,#0094ff,#006eff,#00a6ff,#00bfff,#00cdff,#00b5ff,#00b0ff,#00c7ff,#0091ff,#00c5ff,#00aaff,#00a2ff,#006cff,#0053ff,#0080ff,#0088ff,#0078ff,#0099ff,#00c1ff)"></i><i style="background:linear-gradient(#0017ff,#0025ff,#0033ff,#002bff,#0025ff,#0065ff,#009cff,#007dff,#0065ff,#00a5ff,#006eff,#007bff,#0099ff,#0090ff,#00a9ff,#007fff,#008bff,#00b9ff,#00f6ff,#00ceff,#00ddff,#00eaff,#00d2ff,#008fff,#0088ff,#007fff,#0052ff,#008fff,#0083ff,#0086ff,#008bff,#0082ff)"></i><i style="background:linear-gradient(#0049ff,#0051ff,#004cff,#0072ff,#0034ff,#0082ff,#006aff,#0087ff,#0064ff,#0070ff,#0060ff,#0078ff,#004cff,#0090ff,#0060ff,#0069ff,#00aeff,#00e0ff,#00c8ff,#00aaff,#00aaff,#007eff,#009cff,#009aff,#006cff,#005cff,#0096ff,#007cff,#0073ff,#00a8ff,#008bff,#00b4ff)"></i><i style="background:linear-gradient(#0085ff,#0056ff,#00c2ff,#0090ff,#00a9ff,#0091ff,#00c6ff,#00bfff,#00a3ff,#00a0ff,#00b4ff,#00ebff,#00ceff,#34ffcb,#03fffc,#12ffed,#38ffc7,#41ffbe,#18ffe7,#6cff93,#6cff93,#2dffd2,#70ff8f,#00faff,#07fff8,#02fffd,#00e9ff,#13ffec,#00ffff,#54ffab,#2bffd4,#04fffb)"></i><i style="background:linear-gradient(#00cfff,#00eaff,#00d8ff,#00e2ff,#00faff,#30ffcf,#49ffb6,#12ffed,#1fffe0,#84ff7b,#55ffaa,#75ff8a,#76ff89,#aeff51,#b2ff4d,#d3ff2c,#ffd700,#ffce00,#fffe00,#ffc700,#ffbd00,#f1ff0e,#ecff13,#c3ff3c,#cdff32,#adff52,#b4ff4b,#a8ff57,#94ff6b,#6cff93,#8aff75,#58ffa7)"></i><i style="background:linear-gradient(#44ffbb,#00fcff,#48ffb7,#0ffff0,#2dffd2,#4dffb2,#8aff75,#55ffaa,#4cffb3,#31ffce,#40ffbf,#b8ff47,#91ff6e,#ffc400,#ffe600,#ffc700,#ffac00,#ff9700,#ff6b00,#ff7000,#ff5500,#ff6c00,#ffc700,#ffbc00,#ffb000,#ffeb00,#fffd00,#e1ff1e,#f2ff0d,#afff50,#dbff24,#c6ff39)"></i><i style="background:linear-gradient(#73ff8c,#6bff94,#50ffaf,#72ff8d,#5fffa0,#94ff6b,#7bff84,#2bffd4,#7bff84,#82ff7d,#bfff40,#bbff44,#f5ff0a,#ffb400,#ffb600,#ff4a00,#ff4f00,#ff3b00,#ff3a00,#ff2700,#ff5500,#ff4800,#ff7100,#ff5300,#ff9c00,#ffd600,#ffc500,#ffdc00,#ffdd00,#f9ff06,#ffff00,#c7ff38)"></i><i style="background:linear-gradient(#88ff77,#69ff96,#57ffa8,#6fff90,#95ff6a,#b8ff47,#a0ff5f,#cbff34,#90ff6f,#b5ff4a,#baff45,#e5ff1a,#a2ff5d,#ffe500,#ff8a00,#ff4900,#ff4d00,#ff1800,#ff2000,#ff1300,#ff1b00,#ff1d00,#ff1800,#ff2c00,#ff7b00,#ff3e00,#ff8400,#ff7e00,#ff8c00,#ffc300,#ffa700,#ffa900)"></i><i style="background:linear-gradient(#ceff31,#a4ff5b,#82ff7d,#c6ff39,#9dff62,#aeff51,#8bff74,#8dff72,#e6ff19,#a6ff59,#d7ff28,#fffe00,#fff600,#ff5200,#ff3700,#ff2300,#ff0e00,#ff0700,#fa0000,#f70000,#ff1100,#ff0800,#fd0000,#ff0500,#ff1e00,#ff0b00,#ff0e00,#ff2500,#ff2400,#ff5300,#ff3c00,#ff5e00)"></i><i style="background:linear-gradient(#6cff93,#99ff66,#95ff6a,#b5ff4a,#d9ff26,#fdff02,#c7ff38,#c6ff39,#c5ff3a,#beff41,#ceff31,#fff600,#feff01,#ffbb00,#ff7a00,#ff5100,#ff3b00,#ff1400,#ff2600,#f40000,#ff1000,#f80000,#ff3800,#ff0b00,#ff2000,#ff1300,#ff3300,#ff3600,#ff5300,#ff3b00,#ff5000,#ff7c00)"></i><i style="background:linear-gradient(#a5ff5a,#36ffc9,#77ff88,#85ff7a,#aeff51,#caff35,#fbff04,#feff01,#a4ff5b,#9dff62,#e0ff1f,#c8ff37,#ffe900,#ff9b00,#ff9f00,#ff6a00,#ff2000,#fd0000,#ff1200,#ff3700,#ff0c00,#ff4800,#ec0000,#ff0a00,#fe0000,#fc0000,#ff0600,#ff0400,#ff1b00,#ff0f00,#ff5000,#ff7f00)"></i><i style="background:linear-gradient(#87ff78,#dfff20,#9eff61,#e1ff1e,#bcff43,#cdff32,#a7ff58,#d0ff2f,#e5ff1a,#b2ff4d,#ffe200,#ffa100,#ff9b00,#ff4e00,#ff4100,#ff0c00,#ff0000,#e90000,#fa0000,#f10000,#e70000,#f10000,#ff0000,#ea0000,#f60000,#f80000,#ff4d00,#ff0700,#ff0e00,#ff2e00,#ff3e00,#ff4e00)"></i><i style="background:linear-gradient(#83ff7c,#7eff81,#c9ff36,#baff45,#95ff6a,#c4ff3b,#98ff67,#97ff68,#c8ff37,#dbff24,#ffde00,#ffdb00,#ffee00,#ffa000,#ff3500,#ff4200,#ff4a00,#ff0600,#ff0e00,#ff1e00,#f90000,#f00000,#ff0500,#ff0400,#ff0400,#ff0e00,#ff1100,#ff2f00,#ff1800,#ff6800,#ff4600,#ff8f00)"></i><i style="background:linear-gradient(#8dff72,#98ff67,#77ff88,#caff35,#d9ff26,#93ff6c,#ceff31,#e6ff19,#87ff78,#92ff6d,#b3ff4c,#daff25,#eeff11,#ffd800,#ffad00,#ff4b00,#ff3400,#ff4700,#ff5800,#ff3100,#ff1200,#ff4600,#ff3000,#ff4a00,#ff1400,#ff2600,#ff6200,#fc0000,#ff1900,#ff6f00,#ff5b00,#ffa600)"></i><i style="background:linear-gradient(#8dff72,#8eff71,#baff45,#c4ff3b,#b9ff46,#c7ff38,#e2ff1d,#c4ff3b,#d7ff28,#c3ff3c,#acff53,#d0ff2f,#fff400,#ffb800,#ff5600,#ff4600,#ff0e00,#ff6c00,#ff4b00,#ff3700,#ff0d00,#ff2700,#ff1200,#ff2300,#ff0f00,#ff5d00,#ff4a00,#ff5100,#ff8600,#ff9300,#ffbc00,#ffe900)"></i><i style="background:linear-gradient(#beff41,#b5ff4a,#9aff65,#c3ff3c,#9fff60,#b5ff4a,#81ff7e,#b0ff4f,#e9ff16,#dcff23,#b7ff48,#eeff11,#ccff33,#ffa100,#ff9b00,#ff6700,#ff4b00,#ff2a00,#ff2c00,#ff1200,#ff3900,#ff0800,#ff1400,#ff0900,#ff6300,#ff3400,#ff3f00,#ff7c00,#ff8c00,#ffd600,#fff100,#ffbf00)"></i><i style="background:linear-gradient(#92ff6d,#aeff51,#70ff8f,#a7ff58,#b5ff4a,#a1ff5e,#a5ff5a,#a6ff59,#c0ff3f,#95ff6a,#c9ff36,#e0ff1f,#ffe700,#ff6f00,#ff4900,#ff2c00,#ff0f00,#ff3500,#ff1800,#ff1500,#ff0c00,#ff0400,#ff0900,#ff1b00,#ff1d00,#ff4900,#ff5b00,#ff8e00,#ff8400,#ff9100,#ff8600,#ff9000)"></i><i style="background:linear-gradient(#6eff91,#7fff80,#fff600,#c5ff3a,#c6ff39,#b3ff4c,#d2ff2d,#d9ff26,#e3ff1c,#d0ff2f,#c2ff3d,#f2ff0d,#ffd400,#ff9f00,#ff4500,#ff2200,#ff4300,#ff1600,#ff3b00,#ff3b00,#ff3b00,#ff3b00,#ff8600,#ff4200,#ff7900,#ff5800,#ff8200,#ffcb00,#ffb700,#ffc500,#ffc200,#e6ff19)"></i><i style="background:linear-gradient(#93ff6c,#69ff96,#98ff67,#77ff88,#45ffba,#acff53,#80ff7f,#c8ff37,#97ff68,#c8ff37,#d1ff2e,#a5ff5a,#eeff11,#ffa400,#ff6e00,#ff6500,#ff5700,#ff7a00,#ff0300,#ff2100,#ff5400,#fc0000,#ff3500,#ff2500,#ff5200,#ff5d00,#ff8700,#ff9400,#ffd900,#ffbb00,#ffc600,#ffc800)"></i><i style="background:linear-gradient(#fffd00,#deff21,#c7ff38,#d2ff2d,#a9ff56,#e9ff16,#ffed00,#e4ff1b,#a8ff57,#e6ff19,#ffe800,#d4ff2b,#e3ff1c,#ff9500,#ff7600,#ff7300,#ff0900,#fa0000,#ff2800,#ff1700,#ff3300,#ff0000,#ff1200,#f90000,#ff1000,#ff0400,#ff1b00,#ff7200,#fb0000,#ff4d00,#ff3800,#ff5600)"></i><i style="background:linear-gradient(#93ff6c,#b4ff4b,#e4ff1b,#aeff51,#99ff66,#80ff7f,#91ff6e,#d8ff27,#97ff68,#baff45,#d1ff2e,#fcff03,#f9ff06,#ffa800,#ff5c00,#ff3400,#ff0600,#e20000,#df0000,#e00000,#f50000,#e80000,#f40000,#f70000,#ff2300,#fb0000,#ff2400,#ff1300,#ff0500,#ff3200,#ff4100,#ff2f00)"></i><i style="background:linear-gradient(#feff01,#dfff20,#fffc00,#dfff20,#bcff43,#e2ff1d,#ffdf00,#d7ff28,#fff700,#cbff34,#aeff51,#ffcd00,#ffff00,#ff9800,#ff6400,#ff2e00,#f60000,#ed0000,#e30000,#ec0000,#d60000,#fd0000,#fb0000,#eb0000,#ff0a00,#fb0000,#ff0300,#ff3400,#ff2000,#ff3b00,#ff5c00,#ff6500)"></i><i style="background:linear-gradient(#fffc00,#c3ff3c,#f9ff06,#daff25,#e3ff1c,#d9ff26,#fff800,#fff000,#caff35,#b9ff46,#ffde00,#fffe00,#ffcc00,#ff6300,#ff1100,#ff1900,#ff0000,#fa0000,#f80000,#f40000,#e50000,#f60000,#ec0000,#f80000,#fe0000,#ff0500,#ff0b00,#ff3500,#ff5100,#ff9d00,#ffa400,#ff5000)"></i><i style="background:linear-gradient(#fff400,#b9ff46,#ffdd00,#deff21,#ffae00,#dfff20,#f3ff0c,#e6ff19,#c5ff3a,#d5ff2a,#d4ff2b,#fff900,#ffe600,#ffa000,#ff5800,#ff4000,#ff0c00,#ff1700,#fc0000,#ff4400,#ff1600,#ff2f00,#ff2d00,#fd0000,#ff1c00,#ff1900,#ff2f00,#ff3700,#ff4100,#ff1a00,#ff5600,#ffa600)"></i><i style="background:linear-gradient(#ffde00,#ccff33,#f4ff0b,#b3ff4c,#ffa100,#fffd00,#dcff23,#ffe300,#ffe200,#fff800,#ffeb00,#ffbe00,#ffa200,#ff7700,#ff5100,#ff3c00,#ff1900,#ff0000,#ff1d00,#f50000,#ff0100,#f70000,#ff2700,#ff2900,#ff0e00,#ff2600,#ff4400,#ff6800,#ff7100,#ffae00,#ff6e00,#ff8f00)"></i><i style="background:linear-gradient(#66ff99,#87ff78,#97ff68,#9eff61,#a5ff5a,#ccff33,#abff54,#9eff61,#acff53,#a5ff5a,#e0ff1f,#deff21,#f3ff0c,#ffc200,#ffc000,#ff8100,#ff3b00,#ff3700,#ff1f00,#ff5b00,#ff4400,#ff7b00,#ff6800,#ff2700,#ff5d00,#ff6100,#ff7c00,#ffc700,#ffc600,#f9ff06,#fff700,#ffd100)"></i><i style="background:linear-gradient(#9dff62,#9bff64,#67ff98,#76ff89,#95ff6a,#62ff9d,#88ff77,#83ff7c,#99ff66,#87ff78,#beff41,#b9ff46,#afff50,#f5ff0a,#fff100,#ffb600,#ff6600,#ff9300,#ff5d00,#ff5900,#ff3600,#ff7500,#ff2200,#ff3c00,#ff1e00,#ff7f00,#ff9900,#ff8200,#ff9800,#ffd900,#f5ff0a,#f2ff0d)"></i><i style="background:linear-gradient(#6cff93,#8fff70,#9eff61,#aeff51,#a1ff5e,#4bffb4,#86ff79,#baff45,#a5ff5a,#b9ff46,#aeff51,#fff000,#f1ff0e,#ffe200,#ffe200,#ffda00,#ff7800,#ff5400,#ff9000,#ff8800,#ff6900,#ff5900,#ff6200,#ff8000,#ffa900,#ffa800,#ffd100,#f1ff0e,#ffdb00,#a3ff5c,#aaff55,#77ff88)"></i><i style="background:linear-gradient(#8dff72,#7bff84,#29ffd6,#61ff9e,#53ffac,#55ffaa,#4affb5,#3fffc0,#74ff8b,#59ffa6,#9bff64,#9cff63,#e1ff1e,#d6ff29,#ffd000,#fdff02,#ffa500,#ff6300,#ffaf00,#ff4300,#ff9000,#ff6700,#ff8c00,#ffab00,#ff6e00,#ffbf00,#ffc100,#fffd00,#fff400,#d5ff2a,#96ff69,#9dff62)"></i><i style="background:linear-gradient(#2bffd4,#51ffae,#43ffbc,#79ff86,#2bffd4,#b5ff4a,#55ffaa,#3fffc0,#6aff95,#88ff77,#a9ff56,#bfff40,#aaff55,#bcff43,#aaff55,#ffeb00,#ffc600,#ff9100,#ff9f00,#ff9200,#ff9000,#ffe400,#ff7300,#ff8400,#ffe200,#e5ff1a,#ffe100,#e2ff1d,#fffc00,#aaff55,#91ff6e,#7cff83)"></i><i style="background:linear-gradient(#10ffef,#3cffc3,#47ffb8,#72ff8d,#67ff98,#3dffc2,#70ff8f,#6eff91,#6eff91,#58ffa7,#88ff77,#7cff83,#89ff76,#7cff83,#d4ff2b,#dbff24,#fffb00,#ffc700,#ffd100,#ff6c00,#ff2800,#ffa600,#ffac00,#ffc200,#ffd700,#b1ff4e,#ffec00,#dfff20,#9cff63,#9fff60,#31ffce,#67ff98)"></i><i style="background:linear-gradient(#47ffb8,#27ffd8,#09fff6,#0dfff2,#0bfff4,#19ffe6,#00f3ff,#08fff7,#00fbff,#00dcff,#5cffa3,#2effd1,#39ffc6,#1effe1,#58ffa7,#9aff65,#e7ff18,#f2ff0d,#ffe300,#f0ff0f,#ffe900,#e6ff19,#dfff20,#b5ff4a,#d2ff2d,#8bff74,#96ff69,#8eff71,#02fffd,#4fffb0,#3effc1,#19ffe6)"></i><i style="background:linear-gradient(#34ffcb,#00eeff,#29ffd6,#00f9ff,#1effe1,#01fffe,#03fffc,#00f7ff,#01fffe,#32ffcd,#00a9ff,#00caff,#00e2ff,#13ffec,#27ffd8,#35ffca,#a4ff5b,#9fff60,#9bff64,#daff25,#d1ff2e,#ebff14,#91ff6e,#9eff61,#6fff90,#7bff84,#56ffa9,#78ff87,#82ff7d,#52ffad,#79ff86,#22ffdd)"></i><i style="background:linear-gradient(#48ffb7,#5dffa2,#80ff7f,#5affa5,#57ffa8,#5cffa3,#4effb1,#36ffc9,#46ffb9,#3cffc3,#0cfff3,#3effc1,#20ffdf,#20ffdf,#17ffe8,#45ffba,#6fff90,#acff53,#adff52,#deff21,#e3ff1c,#91ff6e,#b7ff48,#bdff42,#94ff6b,#9cff63,#77ff88,#82ff7d,#68ff97,#4effb1,#28ffd7,#5effa1)"></i><i style="background:linear-gradient(#00ceff,#009cff,#0091ff,#0091ff,#008aff,#00d2ff,#00a8ff,#00ebff,#0088ff,#00b7ff,#0095ff,#00a9ff,#00c8ff,#00beff,#00d2ff,#00e0ff,#67ff98,#5affa5,#84ff7b,#99ff66,#57ffa8,#4cffb3,#48ffb7,#2fffd0,#15ffea,#1cffe3,#00efff,#00dcff,#00c8ff,#00beff,#00c0ff,#00eaff)"></i><i style="background:linear-gradient(#00e0ff,#00c5ff,#00f6ff,#00b8ff,#00eeff,#00afff,#00c7ff,#0084ff,#0096ff,#006dff,#00b7ff,#008fff,#00f2ff,#00c9ff,#00f0ff,#1effe1,#34ffcb,#89ff76,#6dff92,#56ffa9,#81ff7e,#98ff67,#7bff84,#55ffaa,#7dff82,#3dffc2,#73ff8c,#00ffff,#47ffb8,#10ffef,#00feff,#00ccff)"></i><i style="background:linear-gradient(#00b7ff,#00caff,#006aff,#00a8ff,#0083ff,#00abff,#00beff,#008dff,#007aff,#009eff,#00b0ff,#00e6ff,#00baff,#00fcff,#00caff,#10ffef,#4effb1,#2fffd0,#3affc5,#33ffcc,#5cffa3,#55ffaa,#30ffcf,#26ffd9,#5bffa4,#04fffb,#07fff8,#18ffe7,#00c6ff,#00e2ff,#009cff,#00b0ff)"></i><i style="background:linear-gradient(#00b6ff,#00a6ff,#00acff,#00d5ff,#00ccff,#00a8ff,#00c3ff,#00d8ff,#00efff,#00e0ff,#00f1ff,#00d0ff,#00caff,#00b2ff,#00a5ff,#00c2ff,#26ffd9,#25ffda,#21ffde,#3affc5,#14ffeb,#25ffda,#5bffa4,#48ffb7,#3fffc0,#32ffcd,#00f6ff,#00e7ff,#00d6ff,#00e1ff,#00eeff,#00d3ff)"></i><i style="background:linear-gradient(#00a8ff,#00bfff,#00c6ff,#00e3ff,#00b6ff,#00caff,#00cbff,#00a8ff,#00daff,#00adff,#0097ff,#00b3ff,#00beff,#00c1ff,#00ccff,#0092ff,#40ffbf,#2cffd3,#45ffba,#0cfff3,#2fffd0,#33ffcc,#61ff9e,#32ffcd,#4bffb4,#47ffb8,#3effc1,#00e2ff,#00e5ff,#00eaff,#00ddff,#19ffe6)"></i><i style="background:linear-gradient(#0081ff,#009aff,#00acff,#005eff,#0099ff,#005cff,#002aff,#0084ff,#00a6ff,#00bcff,#0087ff,#007eff,#00aeff,#0099ff,#00b0ff,#00bcff,#00e6ff,#1cffe3,#06fff9,#4dffb2,#32ffcd,#0efff1,#20ffdf,#6dff92,#04fffb,#4fffb0,#05fffa,#00e4ff,#1bffe4,#00d8ff,#00d2ff,#00c4ff)"></i><i style="background:linear-gradient(#0073ff,#0077ff,#005aff,#006bff,#0084ff,#006bff,#005aff,#006fff,#007eff,#0021ff,#007aff,#0094ff,#0094ff,#006cff,#009aff,#0091ff,#00a8ff,#00a6ff,#00e6ff,#00ecff,#00d9ff,#0cfff3,#00f6ff,#00e4ff,#00e3ff,#00d7ff,#01fffe,#00c4ff,#00f5ff,#00daff,#00d1ff,#00f7ff)"></i><i style="background:linear-gradient(#0056ff,#0050ff,#0035ff,#006bff,#003aff,#0044ff,#0074ff,#0042ff,#0079ff,#0069ff,#0050ff,#0055ff,#0037ff,#007cff,#0054ff,#0069ff,#0054ff,#00c6ff,#0089ff,#00d3ff,#00bfff,#00c9ff,#00adff,#00ecff,#00f0ff,#00b3ff,#00c6ff,#009bff,#0054ff,#0070ff,#0070ff,#006dff)"></i><i style="background:linear-gradient(#002aff,#003bff,#003bff,#001eff,#0057ff,#0054ff,#0030ff,#0075ff,#006cff,#001cff,#004aff,#0051ff,#005eff,#0057ff,#0053ff,#0064ff,#009dff,#00a0ff,#00b3ff,#009dff,#00ddff,#04fffb,#00efff,#14ffeb,#00c2ff,#00beff,#009cff,#00baff,#00d2ff,#0091ff,#009bff,#0081ff)"></i><i style="background:linear-gradient(#002cff,#0067ff,#001fff,#0049ff,#0045ff,#003fff,#0093ff,#004cff,#005bff,#003fff,#006eff,#0038ff,#006fff,#007fff,#0077ff,#0076ff,#006aff,#008cff,#0089ff,#00c7ff,#00e8ff,#00e6ff,#00b5ff,#00c8ff,#00b9ff,#00e2ff,#0095ff,#00a9ff,#007cff,#0046ff,#0051ff,#0068ff)"></i><i style="background:linear-gradient(#0015ff,#0000fe,#0042ff,#0049ff,#0015ff,#003eff,#0000fa,#0033ff,#005fff,#0022ff,#007dff,#0035ff,#001bff,#003fff,#0047ff,#00d3ff,#00d1ff,#009cff,#00c1ff,#00e8ff,#00e8ff,#00c1ff,#00d5ff,#00eeff,#008fff,#00cbff,#008eff,#007fff,#0087ff,#00aeff,#0089ff,#0064ff)"></i><i style="background:linear-gradient(#001fff,#000aff,#0018ff,#0000ea,#002eff,#0043ff,#0070ff,#0058ff,#003dff,#0070ff,#001eff,#006cff,#0089ff,#0095ff,#009aff,#004fff,#0080ff,#0071ff,#00a4ff,#00c7ff,#00ccff,#00abff,#00b6ff,#00b6ff,#009aff,#0095ff,#0089ff,#0048ff,#0034ff,#0017ff,#0011ff,#0072ff)"></i><i style="background:linear-gradient(#0060ff,#0093ff,#005aff,#0090ff,#0070ff,#0051ff,#0055ff,#00c5ff,#00acff,#004eff,#0097ff,#006dff,#0068ff,#00b5ff,#005eff,#006fff,#00abff,#008cff,#00d7ff,#00bfff,#00f7ff,#00eeff,#00d4ff,#00d5ff,#0095ff,#00ccff,#00b1ff,#007bff,#00b2ff,#00a4ff,#0088ff,#0074ff)"></i><i style="background:linear-gradient(#001aff,#002eff,#0023ff,#0000fd,#0024ff,#0006ff,#000aff,#0000f7,#003cff,#0022ff,#0048ff,#000eff,#0069ff,#0036ff,#0031ff,#0067ff,#0045ff,#0074ff,#004fff,#00b4ff,#0091ff,#00aeff,#00bcff,#00c4ff,#0090ff,#0072ff,#005fff,#003aff,#0069ff,#0071ff,#004aff,#004eff)"></i><i style="background:linear-gradient(#0096ff,#0051ff,#0059ff,#005cff,#007bff,#0036ff,#0049ff,#0058ff,#005bff,#0027ff,#002aff,#0033ff,#0051ff,#0059ff,#007aff,#003cff,#0080ff,#0083ff,#0090ff,#00f3ff,#00bdff,#00ddff,#0094ff,#0085ff,#00bfff,#0084ff,#0087ff,#004dff,#0085ff,#0078ff,#0036ff,#0063ff)"></i><i style="background:linear-gradient(#0071ff,#001fff,#0059ff,#0068ff,#0021ff,#0032ff,#003dff,#0093ff,#0023ff,#001aff,#005fff,#005cff,#0051ff,#005aff,#0082ff,#0089ff,#0096ff,#009fff,#0086ff,#00a5ff,#00aaff,#00d8ff,#00a9ff,#00a0ff,#00adff,#0099ff,#0052ff,#00aaff,#004fff,#006dff,#0060ff,#0092ff)"></i><i style="background:linear-gradient(#003aff,#0015ff,#000aff,#0000e9,#001aff,#0033ff,#000aff,#0017ff,#004fff,#0016ff,#003cff,#009bff,#004cff,#0065ff,#007bff,#0052ff,#009cff,#0094ff,#00b5ff,#0088ff,#00a5ff,#0096ff,#0094ff,#0050ff,#007dff,#0061ff,#0067ff,#002dff,#004aff,#0031ff,#0000f3,#0000f1)"></i><i style="background:linear-gradient(#005cff,#0080ff,#001cff,#0048ff,#0044ff,#0048ff,#0029ff,#0078ff,#0080ff,#0040ff,#0089ff,#0059ff,#007dff,#0051ff,#00a8ff,#005eff,#0080ff,#009dff,#009cff,#00b4ff,#00b0ff,#00c9ff,#00acff,#009cff,#007fff,#0076ff,#0074ff,#0048ff,#0053ff,#004fff,#0030ff,#000cff)"></i><i style="background:linear-gradient(#0034ff,#004eff,#007dff,#0030ff,#0051ff,#0047ff,#0034ff,#004cff,#001aff,#0041ff,#0038ff,#0019ff,#007bff,#0073ff,#0076ff,#0059ff,#0094ff,#00d3ff,#00aaff,#0073ff,#009bff,#008aff,#00a9ff,#00bdff,#00a8ff,#00a2ff,#0091ff,#0099ff,#007fff,#008eff,#0071ff,#009bff)"></i><i style="background:linear-gradient(#0078ff,#002cff,#0078ff,#0047ff,#003eff,#006aff,#0062ff,#001dff,#0042ff,#0050ff,#0088ff,#0095ff,#0080ff,#00a6ff,#0096ff,#00acff,#0093ff,#00aaff,#00a0ff,#00acff,#00e6ff,#009bff,#00a2ff,#0095ff,#0066ff,#0081ff,#0040ff,#0060ff,#003cff,#0064ff,#005dff,#005aff)"></i><i style="background:linear-gradient(#0036ff,#003bff,#0033ff,#0018ff,#0018ff,#0036ff,#0058ff,#0064ff,#0057ff,#0021ff,#0050ff,#005fff,#0048ff,#0058ff,#0078ff,#0091ff,#00a6ff,#00a2ff,#007aff,#00ebff,#00b9ff,#00d2ff,#00a9ff,#00d1ff,#0099ff,#00c5ff,#0085ff,#008aff,#0059ff,#0090ff,#0073ff,#004bff)"></i><i style="background:linear-gradient(#0017ff,#0000fa,#0029ff,#003dff,#0000e8,#002bff,#0054ff,#001aff,#0030ff,#0037ff,#0057ff,#0029ff,#003fff,#001bff,#0069ff,#009bff,#0082ff,#0093ff,#009dff,#008eff,#0077ff,#00a5ff,#00a5ff,#006eff,#00b2ff,#0085ff,#0042ff,#003bff,#0034ff,#0034ff,#005cff,#004cff)"></i><i style="background:linear-gradient(#0071ff,#0094ff,#006fff,#0041ff,#0087ff,#007cff,#0050ff,#006aff,#009dff,#009cff,#008bff,#008aff,#0060ff,#0079ff,#008aff,#00b6ff,#00b5ff,#00c3ff,#00b7ff,#00eeff,#00fdff,#00daff,#00fdff,#17ffe8,#00beff,#00d4ff,#00e7ff,#0082ff,#0081ff,#0095ff,#0076ff,#00a2ff)"></i><i style="background:linear-gradient(#0023ff,#0059ff,#0044ff,#0062ff,#007bff,#006dff,#0055ff,#0037ff,#00afff,#005fff,#0067ff,#005fff,#007aff,#0059ff,#0096ff,#0054ff,#0089ff,#0097ff,#00a7ff,#00cdff,#00b8ff,#00afff,#00cfff,#00afff,#009aff,#0068ff,#0095ff,#00b4ff,#008aff,#00b3ff,#0051ff,#002dff)"></i><i style="background:linear-gradient(#0000fe,#0038ff,#0028ff,#0028ff,#0008ff,#002dff,#001bff,#0040ff,#0010ff,#002eff,#0041ff,#000eff,#000aff,#003eff,#005cff,#0040ff,#006bff,#007eff,#007eff,#0091ff,#007cff,#007bff,#00c0ff,#008aff,#0065ff,#005eff,#0078ff,#005cff,#007bff,#0088ff,#0050ff,#007bff)"></i><i style="background:linear-gradient(#0000fc,#000bff,#0015ff,#000dff,#003fff,#0014ff,#0013ff,#0000c3,#0032ff,#0000fd,#0008ff,#0000fb,#0057ff,#0018ff,#0029ff,#002fff,#0040ff,#0049ff,#0076ff,#0062ff,#0061ff,#0053ff,#005fff,#0098ff,#0080ff,#0046ff,#0042ff,#002fff,#0000f6,#0000f3,#0000f7,#0000f4)"></i><i style="background:linear-gradient(#006dff,#009eff,#0085ff,#0054ff,#0058ff,#0092ff,#0062ff,#004dff,#004dff,#0041ff,#007aff,#005dff,#0068ff,#0046ff,#0066ff,#00c7ff,#00c7ff,#0098ff,#009fff,#00c4ff,#00f0ff,#00f7ff,#00baff,#00c8ff,#00b0ff,#00a1ff,#00acff,#0090ff,#0061ff,#0078ff,#005dff,#006dff)"></i></div>
<div class="bb" style="left:392.20px;top:134.00px"></div>
<div class="t lb" style="left:464.75px;top:8.10px;transform:translate(-50%,-50%)">Range profile</div>
<div class="t tk" style="left:390.80px;top:17.80px;transform:translate(-100%,-50%) scaleX(0.940)">60</div>
<div class="t tk" style="left:390.80px;top:38.48px;transform:translate(-100%,-50%) scaleX(0.940)">50</div>
<div class="t tk" style="left:390.80px;top:59.16px;transform:translate(-100%,-50%) scaleX(0.940)">40</div>
<div class="t tk" style="left:390.80px;top:79.84px;transform:translate(-100%,-50%) scaleX(0.940)">30</div>
<div class="t tk" style="left:390.80px;top:100.52px;transform:translate(-100%,-50%) scaleX(0.940)">20</div>
<div class="t tk" style="left:390.80px;top:121.20px;transform:translate(-100%,-50%) scaleX(0.940)">10</div>
<div class="t lb" style="left:382.20px;top:75.50px;transform:translate(-50%,-50%) rotate(-90deg) scaleX(1.130)">Range bin</div>
<div class="t tk" style="left:392.20px;top:144.20px;transform:translate(-50%,-50%) scaleX(0.940)">0</div>
<div class="t tk" style="left:406.71px;top:144.20px;transform:translate(-50%,-50%) scaleX(0.940)">500</div>
<div class="t tk" style="left:421.22px;top:144.20px;transform:translate(-50%,-50%) scaleX(0.940)">1000</div>
<div class="t tk" style="left:435.73px;top:144.20px;transform:translate(-50%,-50%) scaleX(0.940)">1500</div>
<div class="t tk" style="left:450.24px;top:144.20px;transform:translate(-50%,-50%) scaleX(0.940)">2000</div>
<div class="t tk" style="left:464.75px;top:144.20px;transform:translate(-50%,-50%) scaleX(0.940)">2500</div>
<div class="t tk" style="left:479.26px;top:144.20px;transform:translate(-50%,-50%) scaleX(0.940)">3000</div>
<div class="t tk" style="left:493.77px;top:144.20px;transform:translate(-50%,-50%) scaleX(0.940)">3500</div>
<div class="t tk" style="left:508.28px;top:144.20px;transform:translate(-50%,-50%) scaleX(0.940)">4000</div>
<div class="t tk" style="left:522.79px;top:144.20px;transform:translate(-50%,-50%) scaleX(0.940)">4500</div>
<div class="t tk" style="left:537.30px;top:144.20px;transform:translate(-50%,-50%) scaleX(0.940)">5000</div>
<div class="t lb" style="left:464.75px;top:151.40px;transform:translate(-50%,-50%)">Chirps</div>
<div class="p" style="left:21.70px;top:191.80px;width:145.30px;height:126.40px"><i style="background:linear-gradient(#4effb1,#21ffde,#6dff92,#25ffda,#14ffeb,#34ffcb,#34ffcb,#39ffc6,#1bffe4,#3effc1,#00bfff,#00d3ff,#00ebff,#69ff96,#ffcd00,#ffa600,#ff2e00,#ff0900,#ff1300,#ff3c00,#ff1600,#ff2e00,#ff3800,#ff5600,#ff3500,#ff5f00,#ff5b00,#ff8500,#ff9900,#ffa300,#ffd400,#ffb100)"></i><i style="background:linear-gradient(#41ffbe,#2cffd3,#15ffea,#1cffe3,#22ffdd,#00dbff,#04fffb,#00e5ff,#3bffc4,#1bffe4,#00b4ff,#0081ff,#00caff,#54ffab,#ffe100,#ffe700,#ff8e00,#ff1f00,#ff0d00,#ff3600,#ff3700,#ff1600,#ff3000,#ff7100,#ff6c00,#ff5e00,#ffad00,#ff8f00,#ffb300,#ffee00,#ffdf00,#e4ff1b)"></i><i style="background:linear-gradient(#17ffe8,#2fffd0,#0bfff4,#1cffe3,#00e7ff,#00cbff,#00d5ff,#00d7ff,#00e6ff,#00c3ff,#00bcff,#0071ff,#0080ff,#15ffea,#d2ff2d,#b8ff47,#ffcf00,#ffe600,#ffc200,#ffbb00,#ffd000,#ff8500,#f5ff0a,#ffc400,#ffac00,#ffdd00,#ffca00,#fff800,#fffb00,#b6ff49,#d3ff2c,#daff25)"></i><i style="background:linear-gradient(#00e5ff,#00d5ff,#00ccff,#00ebff,#00b9ff,#00ffff,#00f1ff,#00e4ff,#00e5ff,#00dfff,#00f2ff,#00aaff,#00bfff,#59ffa6,#96ff69,#acff53,#feff01,#bfff40,#90ff6f,#9eff61,#9cff63,#a8ff57,#d2ff2d,#9eff61,#98ff67,#8fff70,#a0ff5f,#73ff8c,#6eff91,#6eff91,#54ffab,#46ffb9)"></i><i style="background:linear-gradient(#00d4ff,#29ffd6,#00b8ff,#00e0ff,#00cdff,#00a9ff,#00b7ff,#00d8ff,#00bfff,#00d2ff,#00a6ff,#0077ff,#00c5ff,#00dfff,#44ffbb,#29ffd6,#4effb1,#78ff87,#31ffce,#31ffce,#40ffbf,#3fffc0,#5cffa3,#27ffd8,#5bffa4,#52ffad,#29ffd6,#47ffb8,#4bffb4,#84ff7b,#34ffcb,#4bffb4)"></i><i style="background:linear-gradient(#00e4ff,#0099ff,#0096ff,#002fff,#00a4ff,#0053ff,#0055ff,#005fff,#007aff,#00b9ff,#004fff,#006fff,#0080ff,#00bfff,#02fffd,#19ffe6,#16ffe9,#38ffc7,#37ffc8,#1bffe4,#25ffda,#00edff,#23ffdc,#25ffda,#00f3ff,#11ffee,#00b4ff,#00aeff,#00a5ff,#00c1ff,#00f1ff,#00d6ff)"></i><i style="background:linear-gradient(#0098ff,#009bff,#0081ff,#005eff,#004aff,#009dff,#0066ff,#0068ff,#0045ff,#0025ff,#0085ff,#0067ff,#00b7ff,#00acff,#11ffee,#02fffd,#1bffe4,#61ff9e,#37ffc8,#47ffb8,#5affa5,#32ffcd,#69ff96,#22ffdd,#00e5ff,#10ffef,#00eeff,#00eaff,#17ffe8,#00ceff,#00d7ff,#00f3ff)"></i><i style="background:linear-gradient(#006dff,#0089ff,#0027ff,#0003ff,#0033ff,#0007ff,#0000e4,#0000e2,#0033ff,#0025ff,#0036ff,#0062ff,#006eff,#00ceff,#07fff8,#14ffeb,#03fffc,#00e6ff,#28ffd7,#0ffff0,#00d1ff,#00e3ff,#00b8ff,#00f4ff,#00e6ff,#00c0ff,#00c0ff,#00bcff,#00b5ff,#00caff,#00afff,#00b8ff)"></i><i style="background:linear-gradient(#0086ff,#0050ff,#0078ff,#003dff,#0051ff,#0047ff,#0063ff,#0088ff,#009aff,#00abff,#00a5ff,#00ccff,#00d0ff,#1affe5,#59ffa6,#71ff8e,#70ff8f,#59ffa6,#44ffbb,#56ffa9,#5dffa2,#5dffa2,#79ff86,#74ff8b,#87ff78,#3bffc4,#60ff9f,#39ffc6,#0dfff2,#00fcff,#07fff8,#07fff8)"></i><i style="background:linear-gradient(#00deff,#00d1ff,#00afff,#16ffe9,#00e8ff,#00c0ff,#00d8ff,#04fffb,#00cfff,#00e8ff,#00f6ff,#69ff96,#2effd1,#b3ff4c,#b2ff4d,#fcff03,#ffc500,#ffe600,#ffdb00,#ff9b00,#fff400,#ffba00,#ff9700,#faff05,#edff12,#ffd500,#b3ff4c,#d7ff28,#80ff7f,#75ff8a,#7cff83,#a8ff57)"></i><i style="background:linear-gradient(#00f2ff,#4affb5,#63ff9c,#35ffca,#51ffae,#69ff96,#54ffab,#40ffbf,#60ff9f,#82ff7d,#acff53,#55ffaa,#9fff60,#ffd400,#ffd600,#ffbd00,#ffa200,#ff7700,#ffc800,#ff8900,#ff7200,#ff6800,#ffb600,#ffa800,#ff6000,#ff5400,#ffac00,#ffee00,#ffd600,#f3ff0c,#97ff68,#fffa00)"></i><i style="background:linear-gradient(#57ffa8,#60ff9f,#47ffb8,#47ffb8,#72ff8d,#45ffba,#3affc5,#6fff90,#40ffbf,#a2ff5d,#deff21,#ceff31,#e5ff1a,#ffcf00,#ffae00,#ffb800,#ff8000,#ff7d00,#ff3b00,#ff5d00,#ff4b00,#ff3300,#ff5b00,#ff5600,#ff6000,#ff5900,#ff8700,#ff8b00,#ffaa00,#ffd000,#f7ff08,#ecff13)"></i><i style="background:linear-gradient(#71ff8e,#9fff60,#a2ff5d,#9aff65,#afff50,#b1ff4e,#a2ff5d,#c9ff36,#acff53,#c2ff3d,#e8ff17,#ffc900,#ffd900,#ffa000,#ff6100,#ff7200,#ff3a00,#ff4500,#ff1700,#ff1c00,#ff2700,#ff3500,#ff1700,#ff1b00,#ff3800,#ff3000,#ff3f00,#ff3f00,#ff0200,#ff6000,#ff8600,#ff8400)"></i><i style="background:linear-gradient(#2dffd2,#94ff6b,#b5ff4a,#74ff8b,#93ff6c,#58ffa7,#a5ff5a,#c0ff3f,#ebff14,#d5ff2a,#e4ff1b,#ffd600,#ff7d00,#ff6800,#ff4800,#ff2a00,#ff0600,#ff0b00,#ff1600,#ff1100,#f50000,#ff0900,#ff2c00,#fa0000,#ff3600,#ff7000,#ff4100,#ff2000,#ff2300,#ff8a00,#ffc800,#ffb200)"></i><i style="background:linear-gradient(#b3ff4c,#63ff9c,#56ffa9,#d6ff29,#73ff8c,#a7ff58,#daff25,#fbff04,#ffe800,#fff400,#ffdf00,#ff9c00,#ffce00,#ff5900,#ff2b00,#ff1200,#ff0800,#ff6200,#ff5700,#ff0200,#ff4500,#ff3b00,#ff5100,#ff0300,#fa0000,#ff0000,#ff1500,#ff1c00,#ff2e00,#ff2300,#ff7400,#ff8500)"></i><i style="background:linear-gradient(#97ff68,#91ff6e,#c5ff3a,#8fff70,#d3ff2c,#d6ff29,#dbff24,#f0ff0f,#ffc700,#f1ff0e,#ffc300,#ffa000,#ff8500,#ff6100,#ff4a00,#ff2500,#ff1c00,#ff0400,#ef0000,#ff4900,#e50000,#f60000,#f30000,#f30000,#ff0300,#ff2500,#ff0300,#fc0000,#ff1300,#ff0500,#ff3200,#ff5d00)"></i><i style="background:linear-gradient(#b6ff49,#beff41,#c4ff3b,#dbff24,#e9ff16,#dcff23,#ddff22,#e8ff17,#e1ff1e,#ffd900,#ffa300,#ff8e00,#ffa700,#ff6900,#ff1800,#ff1500,#ff0300,#f20000,#ff1d00,#ff2f00,#f40000,#ff5600,#f90000,#ff1700,#ff1400,#ff1600,#f40000,#ff1400,#ff3a00,#ff7200,#ff2800,#ff6900)"></i><i style="background:linear-gradient(#9eff61,#7aff85,#c0ff3f,#cdff32,#edff12,#ffdd00,#e4ff1b,#feff01,#ffee00,#ffe000,#ffd300,#ffba00,#ff9300,#ff4f00,#ff4100,#ff1b00,#fd0000,#ff0c00,#ff1200,#ff3500,#f10000,#fb0000,#ff1700,#ff1f00,#fb0000,#fc0000,#ff0b00,#ff5b00,#ff3500,#ff9500,#ffa500,#ff7f00)"></i><i style="background:linear-gradient(#74ff8b,#72ff8d,#93ff6c,#cbff34,#b2ff4d,#ccff33,#caff35,#dcff23,#e0ff1f,#ebff14,#eeff11,#ffcc00,#ffcd00,#ff9d00,#ff4700,#ff6f00,#ff7600,#ff3900,#ff7700,#ff0600,#ff2800,#ff3100,#ff2a00,#f10000,#ff0a00,#ff3500,#ff3400,#ff3100,#ff5300,#ff8300,#ff6300,#ffa100)"></i><i style="background:linear-gradient(#b9ff46,#89ff76,#c7ff38,#d0ff2f,#d0ff2f,#79ff86,#8bff74,#fffb00,#ffdd00,#ffe800,#ffcf00,#ffbb00,#ffa400,#ff6800,#ff5500,#ff1400,#ff2500,#ff2300,#ff2f00,#f20000,#ff0800,#ff0100,#f50000,#f40000,#f40000,#ff0d00,#ff0600,#ff4300,#ff3c00,#ff8e00,#ffc500,#ffd500)"></i><i style="background:linear-gradient(#aeff51,#abff54,#8fff70,#a9ff56,#bfff40,#7fff80,#ceff31,#cdff32,#e9ff16,#e2ff1d,#ffe800,#ffe200,#ffac00,#ff6f00,#ff1a00,#ff1900,#ff0d00,#ff0700,#ff1d00,#ff1900,#ff1500,#ff1c00,#ff0b00,#ff4e00,#ff4100,#ff7800,#ff1d00,#ff6a00,#ff6800,#ff9e00,#ffbe00,#ffd600)"></i><i style="background:linear-gradient(#86ff79,#9bff64,#74ff8b,#60ff9f,#77ff88,#88ff77,#d0ff2f,#b0ff4f,#e1ff1e,#f1ff0e,#dbff24,#ffc900,#ffd400,#ffc400,#ff3300,#ff6100,#ff4200,#ff0f00,#ff2700,#ff0b00,#ff0400,#ff4200,#ff1800,#ff2300,#ff6300,#ff3500,#ff5800,#ff7f00,#ff8e00,#ffcb00,#fff200,#fffe00)"></i><i style="background:linear-gradient(#0cfff3,#49ffb6,#7eff81,#67ff98,#54ffab,#62ff9d,#7bff84,#7eff81,#b7ff48,#94ff6b,#c3ff3c,#ceff31,#d8ff27,#ffb000,#ff6400,#ffa000,#ff5200,#ff3600,#ff1f00,#ff7200,#ff3200,#ff4f00,#ff6a00,#ff4000,#ff4400,#ff6300,#ff8c00,#ffaf00,#fffc00,#e4ff1b,#c7ff38,#f8ff07)"></i><i style="background:linear-gradient(#48ffb7,#10ffef,#47ffb8,#46ffb9,#36ffc9,#38ffc7,#26ffd9,#3bffc4,#61ff9e,#a4ff5b,#8eff71,#9dff62,#b3ff4c,#ffbd00,#ffe100,#ff8f00,#ff9200,#ff7400,#ff6a00,#ff8e00,#ff7f00,#ffb100,#ffbb00,#fffd00,#ecff13,#feff01,#e0ff1f,#dfff20,#eaff15,#b5ff4a,#94ff6b,#c6ff39)"></i><i style="background:linear-gradient(#4fffb0,#40ffbf,#6dff92,#73ff8c,#62ff9d,#6dff92,#81ff7e,#41ffbe,#86ff79,#69ff96,#6dff92,#83ff7c,#bfff40,#e5ff1a,#f2ff0d,#fff200,#ffd000,#ffce00,#ffc000,#ffa200,#ffe200,#ffdf00,#caff35,#fffc00,#f2ff0d,#fff300,#f4ff0b,#f3ff0c,#ccff33,#92ff6d,#99ff66,#a5ff5a)"></i><i style="background:linear-gradient(#5cffa3,#67ff98,#87ff78,#7bff84,#6fff90,#5bffa4,#7aff85,#82ff7d,#8dff72,#bcff43,#b4ff4b,#eaff15,#f1ff0e,#f0ff0f,#ffff00,#ffcb00,#ff9300,#ff7b00,#ffc500,#ffb100,#ffb400,#ffd300,#eeff11,#ffeb00,#e7ff18,#b6ff49,#d8ff27,#86ff79,#8aff75,#5affa5,#5fffa0,#5affa5)"></i><i style="background:linear-gradient(#46ffb9,#71ff8e,#65ff9a,#78ff87,#28ffd7,#20ffdf,#8eff71,#57ffa8,#90ff6f,#b1ff4e,#a2ff5d,#88ff77,#d0ff2f,#daff25,#d1ff2e,#c5ff3a,#d8ff27,#fff700,#f6ff09,#ffce00,#feff01,#c9ff36,#cbff34,#e9ff16,#d1ff2e,#6fff90,#98ff67,#71ff8e,#3fffc0,#33ffcc,#39ffc6,#0efff1)"></i><i style="background:linear-gradient(#78ff87,#7dff82,#70ff8f,#68ff97,#8bff74,#9dff62,#7eff81,#9cff63,#8aff75,#b1ff4e,#acff53,#83ff7c,#6eff91,#87ff78,#d5ff2a,#bbff44,#bbff44,#9aff65,#7cff83,#89ff76,#70ff8f,#84ff7b,#8aff75,#9fff60,#5bffa4,#54ffab,#1fffe0,#0cfff3,#24ffdb,#35ffca,#00d6ff,#00ebff)"></i><i style="background:linear-gradient(#60ff9f,#5affa5,#57ffa8,#65ff9a,#74ff8b,#43ffbc,#4effb1,#3fffc0,#66ff99,#5affa5,#47ffb8,#82ff7d,#78ff87,#71ff8e,#8aff75,#5affa5,#5effa1,#8bff74,#68ff97,#76ff89,#93ff6c,#56ffa9,#42ffbd,#35ffca,#11ffee,#4bffb4,#00f1ff,#15ffea,#0bfff4,#00feff,#00d8ff,#00cdff)"></i><i style="background:linear-gradient(#1bffe4,#4effb1,#5cffa3,#64ff9b,#95ff6a,#29ffd6,#78ff87,#89ff76,#6eff91,#99ff66,#94ff6b,#abff54,#b0ff4f,#daff25,#f8ff07,#d0ff2f,#fdff02,#caff35,#aaff55,#b6ff49,#c8ff37,#75ff8a,#7fff80,#6dff92,#68ff97,#67ff98,#52ffad,#4affb5,#74ff8b,#3effc1,#76ff89,#02fffd)"></i><i style="background:linear-gradient(#3bffc4,#04fffb,#20ffdf,#27ffd8,#3effc1,#1fffe0,#33ffcc,#2effd1,#31ffce,#64ff9b,#8eff71,#9cff63,#a1ff5e,#bdff42,#ceff31,#daff25,#f0ff0f,#ffba00,#f4ff0b,#fff600,#ffe700,#ffee00,#acff53,#d1ff2e,#f1ff0e,#99ff66,#b7ff48,#6dff92,#abff54,#7bff84,#5affa5,#3effc1)"></i><i style="background:linear-gradient(#3affc5,#54ffab,#24ffdb,#33ffcc,#32ffcd,#42ffbd,#4fffb0,#6eff91,#33ffcc,#71ff8e,#74ff8b,#95ff6a,#b6ff49,#e4ff1b,#ffca00,#ffa500,#ffb200,#ff9c00,#ffa400,#ff9d00,#ff9200,#ff6400,#ffcf00,#ffac00,#f5ff0a,#ffed00,#cdff32,#fff600,#ffd000,#c3ff3c,#bcff43,#aaff55)"></i><i style="background:linear-gradient(#6bff94,#66ff99,#57ffa8,#5effa1,#76ff89,#48ffb7,#7eff81,#77ff88,#84ff7b,#60ff9f,#84ff7b,#b8ff47,#d7ff28,#e2ff1d,#ffbe00,#ff7900,#ff9800,#ffa000,#ffb500,#ff8000,#ff9a00,#ff9900,#ffd200,#ffa100,#fffb00,#ffb800,#fff300,#d7ff28,#e9ff16,#9eff61,#abff54,#8eff71)"></i><i style="background:linear-gradient(#93ff6c,#65ff9a,#98ff67,#7eff81,#9aff65,#82ff7d,#a9ff56,#e4ff1b,#94ff6b,#a7ff58,#ffc900,#ffe700,#ffd800,#ffc100,#ff9700,#ff7600,#ff4000,#ff5f00,#ff7700,#ff2500,#ff2c00,#ff5500,#ff5c00,#ff6e00,#ff3800,#ff6500,#ff7500,#ff7d00,#ff4b00,#ffa100,#ffae00,#ffe400)"></i><i style="background:linear-gradient(#9dff62,#b1ff4e,#b1ff4e,#a2ff5d,#b4ff4b,#e9ff16,#beff41,#e1ff1e,#fff600,#ecff13,#b0ff4f,#deff21,#ffd300,#ff8300,#ffb000,#ff3e00,#ff1100,#ff3b00,#ff0600,#ff1600,#f10000,#ff1400,#ff3400,#ff2b00,#ff2900,#ff2c00,#ff6f00,#ff3600,#ffc400,#ff8000,#ffbe00,#ffa300)"></i><i style="background:linear-gradient(#fff900,#b4ff4b,#b8ff47,#ccff33,#81ff7e,#8fff70,#b9ff46,#a8ff57,#d6ff29,#eeff11,#fdff02,#ff9800,#ff7e00,#ff7f00,#ff4400,#ff1800,#ff2200,#ff0700,#ff2600,#fa0000,#ff0100,#f90000,#f20000,#ff3400,#ff4c00,#ff2200,#ff3f00,#ffa400,#ff3100,#ff8600,#ffa600,#ffc900)"></i><i style="background:linear-gradient(#acff53,#e1ff1e,#b6ff49,#baff45,#8cff73,#cdff32,#d0ff2f,#c4ff3b,#a0ff5f,#efff10,#bfff40,#ffeb00,#fff300,#ffc700,#ff8500,#ff7500,#ff5c00,#ff5600,#ff7a00,#ff5400,#ff7600,#ff2a00,#ff3400,#ff7000,#ff5a00,#ff5f00,#ff2800,#ff8c00,#ff5400,#ff5d00,#ff9000,#ffcc00)"></i><i style="background:linear-gradient(#90ff6f,#9aff65,#c6ff39,#a5ff5a,#9fff60,#bbff44,#b4ff4b,#a2ff5d,#c7ff38,#f6ff09,#e0ff1f,#e1ff1e,#ffda00,#ff9c00,#ff2400,#ff3900,#ff3a00,#f20000,#ff3600,#ff0a00,#ff1700,#ff4b00,#ff4700,#ff3b00,#ff2f00,#ff3300,#ff6b00,#ff2a00,#ff2600,#ff7a00,#ff8d00,#ff9b00)"></i><i style="background:linear-gradient(#8aff75,#67ff98,#7eff81,#77ff88,#7cff83,#81ff7e,#a4ff5b,#92ff6d,#96ff69,#a6ff59,#ffcf00,#ffaf00,#ff8700,#ff3f00,#ff1200,#ff1300,#f20000,#eb0000,#f60000,#f90000,#f30000,#f30000,#ff0300,#ea0000,#ff1700,#ff2a00,#ff0a00,#ff2100,#ff2300,#ff2900,#ff4d00,#ff4600)"></i><i style="background:linear-gradient(#3affc5,#09fff6,#33ffcc,#52ffad,#48ffb7,#8eff71,#5affa5,#31ffce,#62ff9d,#4cffb3,#85ff7a,#b2ff4d,#b2ff4d,#ffd800,#ff8400,#ff5400,#ff1c00,#ff3d00,#ff4700,#ff2900,#ff3000,#ff7000,#ff6c00,#ff1c00,#ff6700,#ff6000,#ff5d00,#ff5400,#ff6500,#ff7b00,#ffbe00,#ffb400)"></i><i style="background:linear-gradient(#98ff67,#4dffb2,#8dff72,#81ff7e,#8fff70,#64ff9b,#97ff68,#8eff71,#a4ff5b,#ccff33,#d5ff2a,#ffe900,#ffeb00,#ff8900,#ff0300,#ff3200,#ff0500,#ee0000,#ff2e00,#eb0000,#fd0000,#f80000,#fb0000,#eb0000,#f10000,#ff0200,#ff0700,#ff2500,#ff1b00,#ff6700,#ff7c00,#ffae00)"></i><i style="background:linear-gradient(#27ffd8,#18ffe7,#72ff8d,#52ffad,#73ff8c,#beff41,#8aff75,#85ff7a,#beff41,#c8ff37,#cfff30,#ffe200,#ffcb00,#ff9300,#ff2d00,#ff5f00,#ff1800,#ff1600,#ff1c00,#ff0600,#ff1500,#ff0700,#ff1c00,#ff4600,#ff1400,#ff1600,#ff4400,#ff7e00,#ff9400,#ffc200,#ffb900,#ffd500)"></i><i style="background:linear-gradient(#7eff81,#09fff6,#3bffc4,#5affa5,#8dff72,#34ffcb,#51ffae,#5effa1,#85ff7a,#78ff87,#93ff6c,#eeff11,#eaff15,#ffdc00,#ff4100,#ff2a00,#ff0700,#ff2800,#fc0000,#ff0b00,#ff1500,#ff0c00,#ff6000,#ff1a00,#ff1b00,#ff1e00,#ff6f00,#ff7000,#ffa100,#ff9700,#ffa700,#ffce00)"></i><i style="background:linear-gradient(#13ffec,#37ffc8,#0dfff2,#2fffd0,#25ffda,#1bffe4,#47ffb8,#7bff84,#68ff97,#5effa1,#94ff6b,#dbff24,#aaff55,#ffe800,#ff4700,#ff6e00,#ff1a00,#ff3000,#fe0000,#ff0e00,#fd0000,#ff0f00,#ff0400,#fa0000,#ff3400,#ff5900,#ff6200,#ffd100,#d3ff2c,#faff05,#fff800,#f2ff0d)"></i><i style="background:linear-gradient(#06fff9,#15ffea,#47ffb8,#0cfff3,#51ffae,#2fffd0,#33ffcc,#2affd5,#35ffca,#16ffe9,#bdff42,#dcff23,#d0ff2f,#ffd200,#ff6200,#ff4700,#ff4d00,#ff0f00,#ff1100,#ff3900,#ff0600,#ff2400,#ff0d00,#ff1600,#ff3900,#ff2c00,#ff5600,#ffb100,#ffa700,#edff12,#ebff14,#d7ff28)"></i><i style="background:linear-gradient(#00fdff,#21ffde,#0ffff0,#03fffc,#0dfff2,#44ffbb,#3affc5,#25ffda,#50ffaf,#71ff8e,#3cffc3,#9cff63,#b8ff47,#ffc100,#ffb000,#ff8a00,#ff7f00,#ff3a00,#ff2e00,#ff4b00,#ff1d00,#ff3100,#ff2300,#ff5800,#ff5000,#ff6a00,#ffb400,#ffc800,#ffe500,#e4ff1b,#abff54,#d0ff2f)"></i><i style="background:linear-gradient(#00f4ff,#00cdff,#0dfff2,#2bffd4,#00f0ff,#1effe1,#07fff8,#10ffef,#1dffe2,#13ffec,#4cffb3,#77ff88,#94ff6b,#ffe700,#ff6e00,#ff5c00,#ff4500,#ff0a00,#ff2000,#ff3e00,#ff1400,#ff4b00,#ff2b00,#ff2a00,#ff6600,#ff6a00,#ffbb00,#ffdb00,#ffd100,#ffcc00,#fff400,#d5ff2a)"></i><i style="background:linear-gradient(#33ffcc,#00b5ff,#00e0ff,#00e1ff,#00d8ff,#00dcff,#00bfff,#00ecff,#08fff7,#21ffde,#3affc5,#4bffb4,#6aff95,#ffea00,#ffa300,#ff5b00,#ff3800,#ff1600,#ff5000,#ff2600,#ff3800,#ff1d00,#ff3d00,#ff5e00,#ff6200,#ff8b00,#ffb200,#ffff00,#ffbc00,#fdff02,#cfff30,#8aff75)"></i><i style="background:linear-gradient(#01fffe,#00bdff,#00f6ff,#11ffee,#00b5ff,#00e1ff,#00e1ff,#00e8ff,#03fffc,#01fffe,#00d8ff,#58ffa7,#5cffa3,#b7ff48,#ffd400,#ff9f00,#ff9300,#ff4800,#ff8800,#ff4500,#ff4e00,#ff8a00,#ff6800,#ff7100,#ff8600,#ff8800,#ffac00,#dfff20,#fff000,#ffea00,#d1ff2e,#d1ff2e)"></i><i style="background:linear-gradient(#00ccff,#20ffdf,#1affe5,#00fdff,#1bffe4,#09fff6,#00e4ff,#00e5ff,#00f1ff,#00d1ff,#1dffe2,#02fffd,#5dffa2,#dbff24,#ffad00,#ff9a00,#ff5c00,#ff3800,#ff4400,#ff7e00,#ffa000,#ff5800,#ffb700,#ff8400,#ffb600,#ffba00,#ffcf00,#faff05,#d8ff27,#beff41,#7fff80,#84ff7b)"></i><i style="background:linear-gradient(#00f0ff,#11ffee,#18ffe7,#00d6ff,#00d7ff,#00f9ff,#00d9ff,#00d2ff,#00c1ff,#10ffef,#1affe5,#3bffc4,#56ffa9,#ecff13,#ff9600,#ffb400,#ff7000,#ff7200,#ff4f00,#ff9400,#ff9400,#ff8100,#ff8b00,#ff9000,#ffca00,#ffec00,#e7ff18,#f7ff08,#71ff8e,#8eff71,#83ff7c,#77ff88)"></i><i style="background:linear-gradient(#00cdff,#00a1ff,#00aaff,#00ceff,#00eeff,#00c7ff,#00d6ff,#00edff,#00ebff,#01fffe,#00a8ff,#00e8ff,#00efff,#92ff6d,#ffe600,#fff300,#ffd000,#ffbc00,#ffb400,#ff9900,#ffe300,#ffc800,#ffce00,#ffe100,#e3ff1c,#ffbf00,#b2ff4d,#abff54,#7cff83,#78ff87,#23ffdc,#49ffb6)"></i><i style="background:linear-gradient(#00dbff,#00bfff,#0093ff,#00f2ff,#00fbff,#00f0ff,#00fcff,#00e1ff,#00abff,#00d9ff,#00dcff,#00dcff,#15ffea,#5dffa2,#dfff20,#f1ff0e,#ffe000,#ffe200,#ffee00,#ffc200,#ffe800,#dfff20,#d1ff2e,#efff10,#feff01,#c7ff38,#70ff8f,#67ff98,#61ff9e,#34ffcb,#33ffcc,#14ffeb)"></i><i style="background:linear-gradient(#00a3ff,#00b1ff,#0043ff,#008aff,#00a2ff,#009eff,#0062ff,#0071ff,#00a0ff,#009cff,#00aaff,#00ddff,#00d8ff,#60ff9f,#94ff6b,#72ff8d,#a8ff57,#d5ff2a,#e9ff16,#dfff20,#c5ff3a,#a6ff59,#66ff99,#7dff82,#50ffaf,#85ff7a,#47ffb8,#22ffdd,#4affb5,#39ffc6,#00e2ff,#02fffd)"></i><i style="background:linear-gradient(#0099ff,#007aff,#00a6ff,#0080ff,#00b7ff,#0088ff,#0046ff,#007bff,#0080ff,#0099ff,#007aff,#00b0ff,#008bff,#00e4ff,#32ffcd,#5fffa0,#a4ff5b,#bbff44,#89ff76,#b3ff4c,#4dffb2,#5affa5,#80ff7f,#55ffaa,#4bffb4,#39ffc6,#39ffc6,#05fffa,#16ffe9,#1affe5,#52ffad,#20ffdf)"></i><i style="background:linear-gradient(#009eff,#0028ff,#005eff,#000aff,#0000db,#0008ff,#0030ff,#0050ff,#0060ff,#008aff,#00a1ff,#008fff,#0084ff,#04fffb,#00d1ff,#2fffd0,#38ffc7,#57ffa8,#6eff91,#27ffd8,#3cffc3,#21ffde,#09fff6,#32ffcd,#00d8ff,#43ffbc,#00c0ff,#00b2ff,#0081ff,#0090ff,#0087ff,#0069ff)"></i><i style="background:linear-gradient(#005dff,#0081ff,#006aff,#0057ff,#0081ff,#0032ff,#0042ff,#0051ff,#0042ff,#007fff,#005fff,#0099ff,#0080ff,#0094ff,#00c4ff,#01fffe,#48ffb7,#61ff9e,#32ffcd,#43ffbc,#30ffcf,#20ffdf,#14ffeb,#10ffef,#10ffef,#009dff,#00c7ff,#00cfff,#00a0ff,#00a8ff,#0056ff,#00c4ff)"></i><i style="background:linear-gradient(#0043ff,#0056ff,#0038ff,#0021ff,#0044ff,#0044ff,#0034ff,#002cff,#0058ff,#0025ff,#001eff,#004eff,#0055ff,#009eff,#00aeff,#00a5ff,#00d8ff,#05fffa,#00c4ff,#00e3ff,#07fff8,#00f7ff,#00d6ff,#00deff,#00caff,#00b8ff,#0093ff,#009cff,#00d3ff,#0084ff,#00b4ff,#00d2ff)"></i><i style="background:linear-gradient(#0008ff,#0047ff,#0046ff,#0031ff,#001eff,#0000db,#0049ff,#0039ff,#0044ff,#0032ff,#006bff,#007eff,#0064ff,#0093ff,#0069ff,#00abff,#00c3ff,#00e6ff,#00e0ff,#13ffec,#00beff,#00baff,#00f4ff,#0090ff,#00b9ff,#00b3ff,#0087ff,#0094ff,#0077ff,#0066ff,#00a2ff,#0043ff)"></i><i style="background:linear-gradient(#003bff,#002aff,#0009ff,#0001ff,#0049ff,#0018ff,#0078ff,#003aff,#0048ff,#0022ff,#0035ff,#0080ff,#005bff,#009cff,#00a4ff,#00aaff,#00a2ff,#00f8ff,#00daff,#00c8ff,#00a6ff,#00c0ff,#007aff,#00c3ff,#00a0ff,#00a9ff,#007cff,#0000fd,#007fff,#002dff,#0068ff,#0058ff)"></i><i style="background:linear-gradient(#0026ff,#0036ff,#0049ff,#0048ff,#0041ff,#0055ff,#0029ff,#0062ff,#0057ff,#0023ff,#007dff,#007dff,#00b8ff,#008aff,#00bcff,#009dff,#03fffc,#00b2ff,#00bfff,#00d7ff,#00e6ff,#00c4ff,#00beff,#0072ff,#0098ff,#008cff,#005dff,#0091ff,#0085ff,#0092ff,#0059ff,#006dff)"></i><i style="background:linear-gradient(#0043ff,#001fff,#0041ff,#002cff,#0014ff,#0000fa,#000fff,#0020ff,#001eff,#0008ff,#0000ff,#002fff,#003fff,#000fff,#0045ff,#0027ff,#0061ff,#00b3ff,#008fff,#008aff,#0072ff,#005cff,#0012ff,#006dff,#0050ff,#0023ff,#0035ff,#0002ff,#0000e3,#0021ff,#001cff,#0022ff)"></i><i style="background:linear-gradient(#0098ff,#006eff,#0096ff,#0072ff,#002bff,#0090ff,#0057ff,#0055ff,#005eff,#0057ff,#0039ff,#008bff,#0088ff,#0094ff,#00beff,#008fff,#00bcff,#00d3ff,#00f9ff,#00c6ff,#00f7ff,#00e1ff,#00dcff,#00b0ff,#00bcff,#00dcff,#00c6ff,#008cff,#00a1ff,#0083ff,#009dff,#0078ff)"></i><i style="background:linear-gradient(#003bff,#0055ff,#0035ff,#000aff,#004fff,#0049ff,#0000e8,#003dff,#003fff,#000eff,#0008ff,#0000f3,#0003ff,#0028ff,#005cff,#005dff,#00abff,#0095ff,#0030ff,#0076ff,#0056ff,#0067ff,#004dff,#0073ff,#005eff,#0065ff,#0036ff,#0044ff,#007aff,#0039ff,#0012ff,#000dff)"></i><i style="background:linear-gradient(#0008ff,#0022ff,#0011ff,#0048ff,#0000d2,#0002ff,#000dff,#000cff,#000aff,#0018ff,#002fff,#0015ff,#0027ff,#0028ff,#0086ff,#0093ff,#00aeff,#00a3ff,#00f9ff,#0064ff,#00a6ff,#0093ff,#0054ff,#00b1ff,#0071ff,#006bff,#0054ff,#0056ff,#005bff,#0027ff,#0046ff,#0052ff)"></i><i style="background:linear-gradient(#0038ff,#0052ff,#0035ff,#0074ff,#0031ff,#0022ff,#0046ff,#0033ff,#0018ff,#0048ff,#0036ff,#002cff,#0072ff,#0052ff,#006bff,#00a1ff,#009aff,#0096ff,#00b1ff,#0081ff,#0080ff,#008cff,#0075ff,#0063ff,#0056ff,#004dff,#002eff,#004eff,#0013ff,#0020ff,#0025ff,#0032ff)"></i><i style="background:linear-gradient(#0024ff,#0028ff,#000dff,#0022ff,#0055ff,#0021ff,#0025ff,#0027ff,#002dff,#004cff,#0073ff,#0024ff,#0029ff,#003fff,#0076ff,#007bff,#0077ff,#0061ff,#007fff,#0063ff,#0061ff,#0094ff,#0062ff,#0000fb,#0042ff,#0038ff,#000dff,#0058ff,#0024ff,#005aff,#0020ff,#005aff)"></i><i style="background:linear-gradient(#000eff,#0000f8,#0046ff,#0000f3,#001dff,#0000f4,#0003ff,#0075ff,#000bff,#0030ff,#004cff,#0027ff,#004dff,#0040ff,#0026ff,#001fff,#0022ff,#0005ff,#0034ff,#0077ff,#007cff,#005aff,#0031ff,#0026ff,#0048ff,#005fff,#003dff,#0000f8,#001cff,#0010ff,#004fff,#002aff)"></i><i style="background:linear-gradient(#0000f8,#0002ff,#002eff,#0023ff,#0007ff,#0015ff,#004eff,#0049ff,#0037ff,#0045ff,#0056ff,#0063ff,#006bff,#0068ff,#0069ff,#0088ff,#007fff,#00d6ff,#0065ff,#00c0ff,#006bff,#004fff,#0080ff,#0047ff,#003dff,#0009ff,#0007ff,#0000f0,#007bff,#004dff,#0015ff,#0007ff)"></i><i style="background:linear-gradient(#002fff,#0035ff,#003eff,#0039ff,#0038ff,#004fff,#000dff,#0046ff,#006aff,#0040ff,#004eff,#005bff,#0068ff,#008bff,#00abff,#0098ff,#00b7ff,#00cfff,#17ffe8,#00b0ff,#00a9ff,#00afff,#008eff,#006dff,#00a6ff,#0078ff,#005fff,#0087ff,#0061ff,#0045ff,#0050ff,#004eff)"></i><i style="background:linear-gradient(#002cff,#0012ff,#0029ff,#002aff,#000dff,#004bff,#0015ff,#000cff,#002aff,#0000fd,#0053ff,#0024ff,#0026ff,#0051ff,#0080ff,#0038ff,#008eff,#0070ff,#006cff,#0053ff,#002cff,#0082ff,#006aff,#0060ff,#0026ff,#0042ff,#0044ff,#0062ff,#0010ff,#006bff,#0068ff,#004bff)"></i><i style="background:linear-gradient(#004eff,#006cff,#005dff,#0066ff,#0056ff,#004bff,#0041ff,#0014ff,#0046ff,#004cff,#004bff,#006bff,#002fff,#004fff,#0067ff,#0036ff,#0096ff,#004eff,#009eff,#006cff,#00a9ff,#0073ff,#006bff,#00d4ff,#00c3ff,#009aff,#005fff,#0061ff,#0090ff,#007dff,#0074ff,#005bff)"></i></div>
<div class="bb" style="left:21.70px;top:314.20px"></div>
<div class="t lb" style="left:94.35px;top:188.20px;transform:translate(-50%,-50%)">Range profile</div>
<div class="t tk" style="left:20.30px;top:197.90px;transform:translate(-100%,-50%) scaleX(0.940)">60</div>
<div class="t tk" style="left:20.30px;top:218.58px;transform:translate(-100%,-50%) scaleX(0.940)">50</div>
<div class="t tk" style="left:20.30px;top:239.26px;transform:translate(-100%,-50%) scaleX(0.940)">40</div>
<div class="t tk" style="left:20.30px;top:259.94px;transform:translate(-100%,-50%) scaleX(0.940)">30</div>
<div class="t tk" style="left:20.30px;top:280.62px;transform:translate(-100%,-50%) scaleX(0.940)">20</div>
<div class="t tk" style="left:20.30px;top:301.30px;transform:translate(-100%,-50%) scaleX(0.940)">10</div>
<div class="t lb" style="left:11.70px;top:255.60px;transform:translate(-50%,-50%) rotate(-90deg) scaleX(1.130)">Range bin</div>
<div class="t tk" style="left:21.70px;top:324.30px;transform:translate(-50%,-50%) scaleX(0.940)">0</div>
<div class="t tk" style="left:36.23px;top:324.30px;transform:translate(-50%,-50%) scaleX(0.940)">500</div>
<div class="t tk" style="left:50.76px;top:324.30px;transform:translate(-50%,-50%) scaleX(0.940)">1000</div>
<div class="t tk" style="left:65.29px;top:324.30px;transform:translate(-50%,-50%) scaleX(0.940)">1500</div>
<div class="t tk" style="left:79.82px;top:324.30px;transform:translate(-50%,-50%) scaleX(0.940)">2000</div>
<div class="t tk" style="left:94.35px;top:324.30px;transform:translate(-50%,-50%) scaleX(0.940)">2500</div>
<div class="t tk" style="left:108.88px;top:324.30px;transform:translate(-50%,-50%) scaleX(0.940)">3000</div>
<div class="t tk" style="left:123.41px;top:324.30px;transform:translate(-50%,-50%) scaleX(0.940)">3500</div>
<div class="t tk" style="left:137.94px;top:324.30px;transform:translate(-50%,-50%) scaleX(0.940)">4000</div>
<div class="t tk" style="left:152.47px;top:324.30px;transform:translate(-50%,-50%) scaleX(0.940)">4500</div>
<div class="t tk" style="left:167.00px;top:324.30px;transform:translate(-50%,-50%) scaleX(0.940)">5000</div>
<div class="t lb" style="left:94.35px;top:331.50px;transform:translate(-50%,-50%)">Chirps</div>
<div class="p" style="left:209.00px;top:191.80px;width:145.00px;height:126.40px"><i style="background:linear-gradient(#75ff8a,#69ff96,#2effd1,#68ff97,#97ff68,#5effa1,#86ff79,#c2ff3d,#edff12,#beff41,#84ff7b,#a2ff5d,#bdff42,#dcff23,#ff9400,#ffa700,#ff0a00,#ff4c00,#ff5600,#ff4c00,#ff4700,#ff2300,#ff3200,#ff3700,#ff7a00,#ff8200,#ff8600,#ff9d00,#ffbb00,#fff300,#fff500,#ffdd00)"></i><i style="background:linear-gradient(#75ff8a,#58ffa7,#5bffa4,#58ffa7,#78ff87,#6aff95,#63ff9c,#60ff9f,#8fff70,#e2ff1d,#bfff40,#aaff55,#aeff51,#fff100,#ff7000,#ff8200,#ff6500,#ff3400,#ff3200,#ff5400,#ff4200,#ff6000,#ff3400,#ff2600,#ff6500,#ff5900,#ffab00,#ff7e00,#ff8b00,#ffd700,#f3ff0c,#e8ff17)"></i><i style="background:linear-gradient(#38ffc7,#01fffe,#0ffff0,#48ffb7,#29ffd6,#21ffde,#49ffb6,#51ffae,#7cff83,#a2ff5d,#c0ff3f,#64ff9b,#71ff8e,#d8ff27,#ffd500,#ffe400,#ffbe00,#ff7000,#ff8600,#ff8200,#ffce00,#ff8200,#fbff04,#fff500,#ffb500,#edff12,#b9ff46,#ffe200,#c2ff3d,#cdff32,#c5ff3a,#f6ff09)"></i><i style="background:linear-gradient(#00c0ff,#08fff7,#00a6ff,#00c8ff,#00f0ff,#0cfff3,#00edff,#02fffd,#50ffaf,#64ff9b,#50ffaf,#62ff9d,#2effd1,#c6ff39,#f2ff0d,#ffcb00,#ff7d00,#ffe100,#ffde00,#ffc000,#ffbd00,#ffb200,#fff700,#ffd000,#ceff31,#c9ff36,#e1ff1e,#a2ff5d,#b2ff4d,#7bff84,#91ff6e,#aeff51)"></i><i style="background:linear-gradient(#00f4ff,#6fff90,#1bffe4,#00f3ff,#1bffe4,#00cdff,#00ddff,#15ffea,#37ffc8,#7cff83,#87ff78,#4bffb4,#53ffac,#9aff65,#fff700,#bbff44,#c8ff37,#cdff32,#ceff31,#b6ff49,#afff50,#9fff60,#d1ff2e,#acff53,#83ff7c,#77ff88,#83ff7c,#7bff84,#a1ff5e,#60ff9f,#85ff7a,#ecff13)"></i><i style="background:linear-gradient(#00afff,#00c4ff,#00caff,#00dfff,#0097ff,#00daff,#00feff,#00f0ff,#09fff6,#00feff,#2dffd2,#00f5ff,#52ffad,#a0ff5f,#b9ff46,#87ff78,#c9ff36,#e3ff1c,#b3ff4c,#b2ff4d,#e1ff1e,#bfff40,#aeff51,#8aff75,#adff52,#68ff97,#7aff85,#3effc1,#64ff9b,#89ff76,#40ffbf,#65ff9a)"></i><i style="background:linear-gradient(#008bff,#00a2ff,#0080ff,#008cff,#0054ff,#0067ff,#004bff,#008eff,#00ecff,#00b2ff,#00cbff,#00a9ff,#00bcff,#1affe5,#71ff8e,#7cff83,#6eff91,#aeff51,#a2ff5d,#5affa5,#65ff9a,#85ff7a,#63ff9c,#42ffbd,#29ffd6,#78ff87,#4affb5,#50ffaf,#4dffb2,#41ffbe,#4affb5,#32ffcd)"></i><i style="background:linear-gradient(#005dff,#00a3ff,#009bff,#008fff,#00adff,#0088ff,#005dff,#0089ff,#00a6ff,#0062ff,#00a0ff,#0094ff,#0092ff,#00b0ff,#00e7ff,#06fff9,#3bffc4,#5affa5,#6aff95,#22ffdd,#5affa5,#2cffd3,#5cffa3,#40ffbf,#39ffc6,#6aff95,#19ffe6,#1fffe0,#05fffa,#2affd5,#23ffdc,#44ffbb)"></i><i style="background:linear-gradient(#00bdff,#00b3ff,#0091ff,#006bff,#009fff,#0097ff,#0028ff,#0061ff,#003cff,#0054ff,#004fff,#0056ff,#0090ff,#00dbff,#1bffe4,#00dfff,#3dffc2,#26ffd9,#18ffe7,#15ffea,#41ffbe,#51ffae,#34ffcb,#00ebff,#03fffc,#0ffff0,#00e6ff,#27ffd8,#09fff6,#37ffc8,#1cffe3,#27ffd8)"></i><i style="background:linear-gradient(#0047ff,#0073ff,#0056ff,#0064ff,#005fff,#0073ff,#009bff,#0030ff,#006dff,#00a5ff,#0071ff,#0063ff,#0077ff,#00b4ff,#0099ff,#00e3ff,#00feff,#0ffff0,#04fffb,#00f3ff,#00dcff,#00a4ff,#00f1ff,#00c5ff,#00a7ff,#00c8ff,#00ccff,#0086ff,#00a7ff,#00c4ff,#00b1ff,#00e4ff)"></i><i style="background:linear-gradient(#0099ff,#002eff,#005fff,#0055ff,#0055ff,#0020ff,#0032ff,#0022ff,#002eff,#0037ff,#007dff,#008bff,#00a2ff,#00baff,#13ffec,#00ffff,#00f5ff,#1dffe2,#00efff,#00ffff,#00d1ff,#01fffe,#00c1ff,#00aaff,#00d2ff,#00e2ff,#0073ff,#00aaff,#00b1ff,#00b4ff,#00b4ff,#00b0ff)"></i><i style="background:linear-gradient(#00a1ff,#0074ff,#007eff,#0077ff,#0049ff,#006eff,#009cff,#0070ff,#0097ff,#0082ff,#0083ff,#0095ff,#009aff,#00f1ff,#06fff9,#00eeff,#3dffc2,#31ffce,#1cffe3,#3effc1,#2affd5,#44ffbb,#00deff,#2effd1,#00fdff,#00f9ff,#00c2ff,#00e1ff,#00efff,#0097ff,#00b4ff,#00b6ff)"></i><i style="background:linear-gradient(#00f0ff,#00e8ff,#00e5ff,#00fdff,#00d5ff,#22ffdd,#00dbff,#00e2ff,#00e0ff,#00f6ff,#0ffff0,#00e3ff,#00eeff,#8cff73,#7cff83,#bbff44,#c3ff3c,#ffe900,#f8ff07,#ffd300,#f1ff0e,#ffdb00,#fffe00,#ffc300,#b7ff48,#c0ff3f,#e3ff1c,#9cff63,#c5ff3a,#99ff66,#59ffa6,#6bff94)"></i><i style="background:linear-gradient(#1dffe2,#61ff9e,#71ff8e,#5cffa3,#46ffb9,#7cff83,#41ffbe,#69ff96,#6fff90,#59ffa6,#5bffa4,#00f9ff,#4fffb0,#89ff76,#adff52,#eeff11,#f2ff0d,#ffbf00,#ff7f00,#ff6d00,#ff6800,#ff5c00,#ff8200,#ffa100,#ff9f00,#ffae00,#ffe800,#fbff04,#ffec00,#e9ff16,#ccff33,#c3ff3c)"></i><i style="background:linear-gradient(#3affc5,#34ffcb,#15ffea,#0bfff4,#3cffc3,#51ffae,#67ff98,#59ffa6,#81ff7e,#73ff8c,#58ffa7,#b9ff46,#52ffad,#cbff34,#ffe100,#ffc600,#ff7600,#ff6800,#ff5800,#ff8a00,#ff6a00,#ff4200,#ff7800,#ff1f00,#ff5900,#ffb300,#ff9a00,#fbff04,#ff9c00,#d3ff2c,#fff700,#f2ff0d)"></i><i style="background:linear-gradient(#76ff89,#84ff7b,#cfff30,#c0ff3f,#b3ff4c,#d8ff27,#c2ff3d,#c6ff39,#fff800,#efff10,#fff600,#e7ff18,#ffcc00,#ff9300,#ff6d00,#ff2a00,#ff1b00,#f90000,#ff0700,#ff1a00,#ff2200,#ff2900,#ff0f00,#ff2700,#ff0100,#ff3500,#ff1600,#ff3000,#ff3200,#ffaa00,#ffa400,#ffac00)"></i><i style="background:linear-gradient(#68ff97,#56ffa9,#89ff76,#c8ff37,#8aff75,#9bff64,#b8ff47,#9eff61,#efff10,#ebff14,#ffdd00,#ffdd00,#ffd200,#ff8d00,#ff6e00,#ff2200,#ff0d00,#f20000,#ff0000,#ee0000,#f70000,#ef0000,#ff0f00,#ff0800,#ff0b00,#ff2100,#ff0400,#ff3600,#ff3a00,#ff7200,#ff9e00,#ffde00)"></i><i style="background:linear-gradient(#4effb1,#5cffa3,#76ff89,#b9ff46,#b1ff4e,#76ff89,#efff10,#d8ff27,#ffdc00,#ffd900,#ffe000,#ff9b00,#ffb400,#ff3e00,#ff3500,#ff2700,#ff4600,#ff4c00,#ff2900,#ff2200,#ff2400,#ff1900,#ff3000,#ff0b00,#ff0f00,#ff3500,#ff5400,#ff3800,#ff2e00,#ff7500,#ffaa00,#ff7100)"></i><i style="background:linear-gradient(#beff41,#fff800,#deff21,#e7ff18,#dcff23,#fff400,#eeff11,#fff500,#fff700,#fff000,#ff9b00,#ffa700,#ffa900,#ff7b00,#ff5600,#ff1900,#fe0000,#ff1800,#f60000,#f90000,#f40000,#f90000,#ff5400,#ff0200,#fd0000,#ff2000,#ff2500,#ff2700,#ff1000,#ff2000,#ff9000,#ff5d00)"></i><i style="background:linear-gradient(#b8ff47,#dbff24,#b1ff4e,#d3ff2c,#f5ff0a,#daff25,#f0ff0f,#d7ff28,#ffd600,#ecff13,#ff9400,#ffc400,#ff9500,#ff7b00,#ff2d00,#ff1500,#ff0800,#ff3600,#f60000,#f50000,#ec0000,#ff0c00,#f60000,#f30000,#ff0000,#ff5800,#ff0700,#ff3a00,#ff3500,#ff7000,#ff7600,#ff5e00)"></i><i style="background:linear-gradient(#b8ff47,#c4ff3b,#b1ff4e,#d2ff2d,#e7ff18,#deff21,#d6ff29,#fbff04,#ffe500,#ffc100,#ffe200,#ffda00,#ffb500,#ff3c00,#ff3500,#ff7300,#ff1200,#ee0000,#f70000,#ff2700,#ff3d00,#ff4f00,#ff0b00,#f70000,#ff0300,#ff0900,#ff1800,#ff2200,#ff5000,#ff5700,#ff8300,#ff5d00)"></i><i style="background:linear-gradient(#7aff85,#66ff99,#c9ff36,#d6ff29,#bbff44,#a9ff56,#b2ff4d,#deff21,#feff01,#fffb00,#ffea00,#ffbe00,#ffcf00,#ff9d00,#ff3800,#ff6200,#ff2200,#ff2c00,#ff1800,#ff1900,#ff2300,#ff2000,#ff2d00,#ff3d00,#ff3f00,#ff4600,#ff5800,#ff3500,#ff7a00,#ff7200,#ffb800,#ffd700)"></i><i style="background:linear-gradient(#cfff30,#7eff81,#b3ff4c,#d7ff28,#d5ff2a,#adff52,#c9ff36,#d9ff26,#d8ff27,#f3ff0c,#fffc00,#ffbd00,#fff400,#ffaa00,#ff7f00,#ff1400,#ff0c00,#ff1100,#eb0000,#f90000,#f60000,#ff0a00,#ff0400,#ff0500,#ff2600,#ff0900,#ff1000,#ff1000,#ff2f00,#ff7600,#ffcc00,#ffb400)"></i><i style="background:linear-gradient(#adff52,#8fff70,#70ff8f,#66ff99,#77ff88,#6bff94,#acff53,#6aff95,#d3ff2c,#ceff31,#e0ff1f,#bcff43,#e8ff17,#ff9100,#ff5800,#ff6a00,#ff4500,#ff0400,#f20000,#ff1a00,#fe0000,#ff0700,#ff1e00,#ff0a00,#ff1300,#ff1c00,#ff6f00,#ff5700,#ff7e00,#ffe000,#ffed00,#fcff03)"></i><i style="background:linear-gradient(#7aff85,#74ff8b,#70ff8f,#aaff55,#77ff88,#aeff51,#88ff77,#9fff60,#b1ff4e,#f7ff08,#f4ff0b,#c3ff3c,#f1ff0e,#ffad00,#ff9500,#ff8100,#ff1700,#ff2e00,#f90000,#ff0200,#fe0000,#ff0a00,#ff0b00,#ff1800,#ff5500,#ff4600,#ff3e00,#ff9100,#ff9500,#ffee00,#ffc900,#ffda00)"></i><i style="background:linear-gradient(#87ff78,#9fff60,#adff52,#81ff7e,#65ff9a,#c6ff39,#c0ff3f,#e9ff16,#d3ff2c,#dcff23,#faff05,#ffe200,#ffd900,#ffee00,#fff000,#ff8000,#ff5600,#ff0600,#ff0900,#fe0000,#ff0000,#ff4800,#ff1900,#ff0d00,#ff3500,#ff1900,#ff7200,#ff7a00,#ffae00,#fffa00,#d5ff2a,#dfff20)"></i><i style="background:linear-gradient(#4dffb2,#5dffa2,#71ff8e,#43ffbc,#28ffd7,#90ff6f,#90ff6f,#79ff86,#88ff77,#afff50,#bcff43,#f3ff0c,#adff52,#fff700,#e7ff18,#fcff03,#ff9900,#ff7f00,#ff8100,#ff7600,#ff7e00,#ff7a00,#ff9900,#ffd900,#ffca00,#ffe900,#ffc500,#ffe400,#ffc800,#ffc700,#e2ff1d,#e4ff1b)"></i><i style="background:linear-gradient(#98ff67,#7cff83,#6bff94,#6dff92,#87ff78,#89ff76,#70ff8f,#62ff9d,#78ff87,#80ff7f,#8dff72,#99ff66,#eeff11,#f5ff0a,#dcff23,#ffdd00,#ffa100,#ff7100,#ffb400,#ffc000,#ffa400,#ffd000,#fff200,#ffbf00,#daff25,#ecff13,#c4ff3b,#b8ff47,#b2ff4d,#93ff6c,#b1ff4e,#80ff7f)"></i><i style="background:linear-gradient(#71ff8e,#13ffec,#89ff76,#80ff7f,#85ff7a,#97ff68,#92ff6d,#83ff7c,#a2ff5d,#c8ff37,#cbff34,#ceff31,#a6ff59,#fff400,#ccff33,#ffb700,#ffb300,#ff8700,#ff9000,#ffa500,#ff9300,#ffd100,#ffc400,#ffd000,#f7ff08,#ebff14,#cbff34,#b6ff49,#99ff66,#94ff6b,#b6ff49,#8bff74)"></i><i style="background:linear-gradient(#4cffb3,#5fffa0,#3effc1,#37ffc8,#42ffbd,#41ffbe,#99ff66,#7cff83,#a3ff5c,#55ffaa,#d9ff26,#aaff55,#fffb00,#ffd900,#ffc200,#ff7b00,#ff5e00,#ff6000,#ff8600,#ff9100,#ff6800,#ff7f00,#ffb700,#ffbd00,#fffb00,#ffbd00,#ffe200,#edff12,#bdff42,#c4ff3b,#a6ff59,#76ff89)"></i><i style="background:linear-gradient(#7dff82,#b5ff4a,#7bff84,#9aff65,#73ff8c,#89ff76,#b3ff4c,#65ff9a,#d8ff27,#99ff66,#cbff34,#c7ff38,#cdff32,#ffb100,#ff9300,#ff9100,#ff3d00,#ff2900,#ff7000,#ff8500,#ff4700,#ff8300,#ff4d00,#ff8a00,#ff8800,#ff9800,#ffa000,#ffe500,#ffb200,#ffe400,#fff300,#ffef00)"></i><i style="background:linear-gradient(#72ff8d,#66ff99,#82ff7d,#81ff7e,#63ff9c,#b1ff4e,#fffd00,#f2ff0d,#fffd00,#ffd200,#ffd300,#ffef00,#ffe100,#ff8d00,#ff4e00,#ff7800,#ff7300,#ff1700,#ff1a00,#ff2100,#ff0a00,#ff3100,#ff4000,#ff4f00,#ff5900,#ff5500,#ff5f00,#ff9a00,#ffac00,#ffab00,#ffee00,#ffc000)"></i><i style="background:linear-gradient(#8eff71,#5effa1,#44ffbb,#86ff79,#15ffea,#1bffe4,#b3ff4c,#99ff66,#a2ff5d,#a7ff58,#ffc100,#ffdc00,#fffc00,#ff8700,#ff8400,#ff6400,#ff0c00,#ff0700,#f10000,#ff0200,#fa0000,#ff1100,#ff1200,#ff2d00,#ff2f00,#ff3000,#ff3600,#ff5800,#ff4e00,#ffa900,#ffe200,#ffb900)"></i><i style="background:linear-gradient(#35ffca,#47ffb8,#10ffef,#1bffe4,#3dffc2,#42ffbd,#71ff8e,#79ff86,#dfff20,#c7ff38,#f8ff07,#ffc200,#ffd800,#ff3700,#ff2a00,#ff1c00,#ff0e00,#ec0000,#f90000,#ff1400,#ff1800,#ff0100,#ff1800,#ff0600,#ff1000,#ff0e00,#ff5200,#ff6300,#ff4200,#ffaf00,#ffe700,#ffb400)"></i><i style="background:linear-gradient(#6cff93,#5bffa4,#61ff9e,#6cff93,#63ff9c,#6dff92,#63ff9c,#9cff63,#d1ff2e,#a2ff5d,#ffe000,#ffbf00,#fff000,#ff5f00,#ff4500,#ff3800,#ff0900,#ea0000,#f60000,#f80000,#ed0000,#f90000,#ff0c00,#fe0000,#fd0000,#ff2000,#ff2d00,#ff0e00,#ff4300,#ff5400,#ff9f00,#ff9400)"></i><i style="background:linear-gradient(#24ffdb,#22ffdd,#77ff88,#76ff89,#17ffe8,#8eff71,#7aff85,#46ffb9,#acff53,#90ff6f,#ffad00,#f8ff07,#ffc900,#ff8600,#ff2e00,#ff1c00,#ff2600,#f70000,#ff0800,#ff1400,#ff3500,#ff0d00,#ff1700,#ff3300,#ff3600,#ff4c00,#ff3200,#ff6f00,#ff5c00,#ff7c00,#ffba00,#ffb000)"></i><i style="background:linear-gradient(#5effa1,#6aff95,#72ff8d,#b0ff4f,#a7ff58,#b1ff4e,#a7ff58,#70ff8f,#8dff72,#bbff44,#daff25,#ffc100,#fffe00,#ff9f00,#ff6a00,#ff4d00,#ff5b00,#f80000,#ff1400,#ff2500,#f70000,#ff4100,#ff4f00,#ff2500,#ff1400,#ff4400,#ff4a00,#ff4100,#ff6a00,#ff7300,#ffae00,#ff6e00)"></i><i style="background:linear-gradient(#afff50,#a4ff5b,#d0ff2f,#8cff73,#beff41,#ffe800,#81ff7e,#faff05,#feff01,#ffdb00,#ffb000,#ffa500,#ff4a00,#f20000,#ff0c00,#ff1400,#ed0000,#f80000,#f50000,#ed0000,#f20000,#f80000,#e00000,#e90000,#f10000,#f40000,#f40000,#ff0600,#ff1500,#ff4b00,#ff5a00,#ff5b00)"></i><i style="background:linear-gradient(#68ff97,#b6ff49,#c6ff39,#abff54,#c7ff38,#b3ff4c,#d8ff27,#fff000,#ffcd00,#fff900,#d7ff28,#ff6c00,#ffb400,#ff9800,#ff4a00,#ff5900,#ff0b00,#ff0200,#fc0000,#fe0000,#ff0500,#f90000,#f90000,#f00000,#ff0200,#f50000,#ff1c00,#ff1600,#ff3c00,#ff7200,#ff8b00,#ff6700)"></i><i style="background:linear-gradient(#06fff9,#18ffe7,#3cffc3,#21ffde,#8eff71,#77ff88,#a4ff5b,#65ff9a,#99ff66,#89ff76,#fff900,#ffe700,#ffd200,#ffa800,#ff5500,#ff4500,#ff4800,#ff5000,#ff3a00,#ff6200,#ff8600,#ff2000,#ff5a00,#ff4800,#ff7600,#ff9800,#ff2300,#ff3600,#ff6000,#ffad00,#ffc400,#ff6900)"></i><i style="background:linear-gradient(#34ffcb,#26ffd9,#3dffc2,#5cffa3,#82ff7d,#50ffaf,#6dff92,#50ffaf,#96ff69,#9dff62,#f4ff0b,#e3ff1c,#f2ff0d,#ff9800,#ff4b00,#ff2d00,#ff3a00,#ff2c00,#ff1700,#ff2a00,#ff3400,#ff1500,#ff2300,#ff1a00,#ff2700,#ff3400,#ff2f00,#ff6b00,#ff6100,#ff8900,#ff9c00,#ffd000)"></i><i style="background:linear-gradient(#00eeff,#2effd1,#35ffca,#39ffc6,#44ffbb,#3bffc4,#60ff9f,#59ffa6,#83ff7c,#a4ff5b,#b5ff4a,#cfff30,#ffea00,#ffa500,#ffb200,#ff8000,#ff2c00,#ff3200,#ff2e00,#ff1f00,#ff2700,#ff2b00,#ff2300,#ff3200,#ff0800,#ff1700,#ff6200,#ff6c00,#ff6d00,#ffbf00,#ff9b00,#ffc600)"></i><i style="background:linear-gradient(#16ffe9,#32ffcd,#44ffbb,#4affb5,#63ff9c,#3fffc0,#44ffbb,#55ffaa,#3effc1,#5dffa2,#90ff6f,#9fff60,#f4ff0b,#eeff11,#ffff00,#ff8100,#ff7a00,#ff3500,#ff6300,#ff6900,#ff5600,#ff5a00,#ff5200,#ff3c00,#ff4400,#ff5400,#ff5b00,#ff9000,#ff8e00,#ffbc00,#fff600,#ffe800)"></i><i style="background:linear-gradient(#62ff9d,#5dffa2,#37ffc8,#52ffad,#51ffae,#3affc5,#03fffc,#26ffd9,#2dffd2,#34ffcb,#9bff64,#e4ff1b,#a3ff5c,#fff500,#ff8900,#ff9600,#ff5600,#ff4400,#ff3a00,#ff6000,#ff4e00,#ff1e00,#ff3700,#ff4400,#ff4600,#ff7f00,#ffb300,#ffde00,#ffac00,#fff900,#e4ff1b,#fff500)"></i><i style="background:linear-gradient(#19ffe6,#17ffe8,#03fffc,#14ffeb,#00edff,#00f8ff,#00f3ff,#00c0ff,#00e6ff,#11ffee,#50ffaf,#78ff87,#6fff90,#eaff15,#ffb200,#ffb500,#ff7500,#ff3c00,#ff7a00,#ff4a00,#ff6600,#ff5500,#ff8400,#ff9200,#ff6600,#ffb200,#ff8600,#ffe100,#fff300,#ffd400,#cfff30,#afff50)"></i><i style="background:linear-gradient(#00beff,#0098ff,#00b3ff,#008fff,#00a2ff,#006eff,#0097ff,#00d9ff,#00d5ff,#00bfff,#16ffe9,#68ff97,#47ffb8,#c6ff39,#f2ff0d,#fff500,#ffc100,#ff9100,#fffb00,#ffdc00,#ffe200,#f2ff0d,#fff600,#fdff02,#daff25,#ccff33,#fff400,#d4ff2b,#cbff34,#e4ff1b,#c0ff3f,#b8ff47)"></i><i style="background:linear-gradient(#00d4ff,#0085ff,#00c2ff,#00d8ff,#00aeff,#00c5ff,#00d5ff,#00a9ff,#00c0ff,#008fff,#00e8ff,#0bfff4,#63ff9c,#96ff69,#e4ff1b,#eaff15,#ffd100,#ffb300,#ffe400,#ff9400,#ffe400,#deff21,#ffeb00,#ffd500,#fff100,#c1ff3e,#fcff03,#b3ff4c,#c8ff37,#86ff79,#90ff6f,#5bffa4)"></i><i style="background:linear-gradient(#0091ff,#00d3ff,#00adff,#09fff6,#00afff,#0087ff,#00a8ff,#007eff,#00adff,#00b7ff,#04fffb,#30ffcf,#3cffc3,#8dff72,#e5ff1a,#b0ff4f,#ffca00,#ffde00,#ffe300,#ffee00,#ffeb00,#ffc100,#f0ff0f,#fffd00,#83ff7c,#c3ff3c,#e2ff1d,#d3ff2c,#65ff9a,#adff52,#4bffb4,#86ff79)"></i><i style="background:linear-gradient(#008cff,#0060ff,#0083ff,#0092ff,#008dff,#00d0ff,#00e5ff,#00a5ff,#008dff,#00e6ff,#00f4ff,#29ffd6,#19ffe6,#53ffac,#a2ff5d,#b5ff4a,#e5ff1a,#b6ff49,#d6ff29,#f7ff08,#a1ff5e,#afff50,#8dff72,#a8ff57,#71ff8e,#70ff8f,#9eff61,#36ffc9,#65ff9a,#4dffb2,#37ffc8,#30ffcf)"></i><i style="background:linear-gradient(#00a6ff,#00cbff,#00aeff,#00c8ff,#00b5ff,#00f8ff,#00d8ff,#00f4ff,#04fffb,#00caff,#00dfff,#05fffa,#00d5ff,#07fff8,#4affb5,#5fffa0,#69ff96,#8fff70,#5affa5,#7cff83,#7dff82,#82ff7d,#a2ff5d,#b3ff4c,#48ffb7,#bbff44,#44ffbb,#77ff88,#58ffa7,#14ffeb,#22ffdd,#67ff98)"></i><i style="background:linear-gradient(#00b9ff,#00acff,#00b7ff,#0080ff,#0091ff,#0085ff,#00a7ff,#00b6ff,#0087ff,#00b4ff,#00bfff,#00e2ff,#1cffe3,#6eff91,#9cff63,#61ff9e,#89ff76,#a5ff5a,#93ff6c,#97ff68,#6bff94,#96ff69,#c5ff3a,#8aff75,#7bff84,#2bffd4,#80ff7f,#67ff98,#3fffc0,#51ffae,#48ffb7,#3bffc4)"></i><i style="background:linear-gradient(#0098ff,#006cff,#0078ff,#0077ff,#0074ff,#0043ff,#005aff,#005fff,#0094ff,#0086ff,#0066ff,#00bcff,#00daff,#00f4ff,#65ff9a,#1dffe2,#1cffe3,#36ffc9,#44ffbb,#5dffa2,#16ffe9,#3cffc3,#2fffd0,#66ff99,#3effc1,#4effb1,#21ffde,#30ffcf,#00fbff,#00eeff,#10ffef,#17ffe8)"></i><i style="background:linear-gradient(#0092ff,#0057ff,#0079ff,#0060ff,#0075ff,#009eff,#007eff,#0078ff,#0096ff,#0098ff,#00bdff,#00f5ff,#00bdff,#17ffe8,#34ffcb,#64ff9b,#36ffc9,#6aff95,#49ffb6,#38ffc7,#3affc5,#1cffe3,#38ffc7,#19ffe6,#00f5ff,#00ecff,#11ffee,#00fcff,#00e5ff,#00f6ff,#00ceff,#00c5ff)"></i><i style="background:linear-gradient(#0057ff,#0060ff,#004fff,#006aff,#0055ff,#0085ff,#007dff,#0074ff,#00a5ff,#0059ff,#007bff,#009eff,#00d8ff,#00e5ff,#00f7ff,#02fffd,#07fff8,#07fff8,#17ffe8,#23ffdc,#0cfff3,#1fffe0,#05fffa,#3bffc4,#00e8ff,#1fffe0,#00d1ff,#00c1ff,#00b1ff,#00a8ff,#007dff,#0089ff)"></i><i style="background:linear-gradient(#0014ff,#0033ff,#0031ff,#002dff,#0054ff,#004bff,#0091ff,#00ceff,#00b7ff,#0087ff,#0087ff,#008bff,#00a3ff,#0097ff,#04fffb,#00dcff,#00d6ff,#00d0ff,#0bfff4,#00edff,#00f7ff,#00b7ff,#00eaff,#03fffc,#41ffbe,#00c4ff,#00cbff,#00dcff,#00bbff,#00e6ff,#00b2ff,#009aff)"></i><i style="background:linear-gradient(#0060ff,#0070ff,#0038ff,#005bff,#00aaff,#0045ff,#004bff,#0057ff,#0028ff,#0029ff,#0015ff,#002fff,#0029ff,#003aff,#00aeff,#00beff,#00bdff,#00ccff,#00eeff,#00c1ff,#00beff,#00d0ff,#00b6ff,#00c9ff,#00d1ff,#00caff,#0091ff,#0099ff,#00b2ff,#00bcff,#0092ff,#0082ff)"></i><i style="background:linear-gradient(#001aff,#0000de,#005fff,#0090ff,#0032ff,#0041ff,#0000ec,#0047ff,#003aff,#0026ff,#0000fe,#003fff,#004cff,#0047ff,#00a4ff,#0078ff,#00b7ff,#0098ff,#00b9ff,#00a3ff,#008bff,#009fff,#0092ff,#0077ff,#0099ff,#00b1ff,#0087ff,#005eff,#0012ff,#0056ff,#0089ff,#005fff)"></i><i style="background:linear-gradient(#0058ff,#003bff,#0036ff,#000fff,#003aff,#000bff,#0012ff,#0000f6,#0045ff,#001bff,#0022ff,#0026ff,#005cff,#00a2ff,#0060ff,#00e6ff,#009fff,#00beff,#00c3ff,#00e5ff,#00a5ff,#00ecff,#00b2ff,#00c8ff,#0097ff,#00b3ff,#00afff,#005eff,#0088ff,#0041ff,#005cff,#0063ff)"></i><i style="background:linear-gradient(#0084ff,#0009ff,#0059ff,#0045ff,#0029ff,#0091ff,#00a6ff,#0060ff,#0099ff,#0059ff,#0058ff,#0058ff,#0074ff,#0070ff,#00adff,#00a0ff,#00a4ff,#00e8ff,#00e2ff,#00aaff,#00d5ff,#08fff7,#00e0ff,#00e4ff,#00b8ff,#00b3ff,#009bff,#00a4ff,#00eeff,#00bcff,#0090ff,#0096ff)"></i><i style="background:linear-gradient(#001aff,#0047ff,#0067ff,#0056ff,#0033ff,#0034ff,#0023ff,#0026ff,#003cff,#0027ff,#0095ff,#006fff,#006aff,#009cff,#00b8ff,#00afff,#00d9ff,#00dfff,#00ddff,#25ffda,#11ffee,#00d0ff,#00c2ff,#009eff,#00acff,#0092ff,#0094ff,#0091ff,#0074ff,#0051ff,#0051ff,#0087ff)"></i><i style="background:linear-gradient(#007bff,#0034ff,#002fff,#0018ff,#0010ff,#003aff,#0040ff,#006fff,#0067ff,#004dff,#0035ff,#001bff,#0051ff,#0033ff,#006bff,#0056ff,#00a2ff,#00b4ff,#00a2ff,#00d2ff,#009cff,#00a4ff,#00deff,#008eff,#0076ff,#0079ff,#0074ff,#004bff,#004eff,#0052ff,#0063ff,#0094ff)"></i><i style="background:linear-gradient(#0030ff,#0051ff,#002bff,#0000f6,#0030ff,#002bff,#0020ff,#0058ff,#006eff,#00a7ff,#0076ff,#002eff,#002fff,#00a0ff,#0076ff,#0062ff,#00a0ff,#0083ff,#008fff,#00aaff,#00b9ff,#00aeff,#008cff,#008fff,#008bff,#00b3ff,#0073ff,#007aff,#0058ff,#006aff,#005bff,#0024ff)"></i><i style="background:linear-gradient(#0044ff,#0004ff,#0056ff,#0000fc,#004aff,#0063ff,#0032ff,#0041ff,#0027ff,#001bff,#003aff,#0005ff,#0018ff,#0039ff,#0054ff,#0050ff,#007bff,#006aff,#00cfff,#00f4ff,#00b6ff,#00f5ff,#00c2ff,#00b0ff,#008cff,#008dff,#0073ff,#0065ff,#0083ff,#005fff,#0078ff,#006aff)"></i><i style="background:linear-gradient(#003aff,#0000f7,#0022ff,#0011ff,#003eff,#0000e8,#0002ff,#0015ff,#0051ff,#005eff,#003aff,#004dff,#005cff,#001dff,#007aff,#006eff,#0075ff,#00c6ff,#00baff,#00e3ff,#00a7ff,#00b3ff,#009eff,#005cff,#0045ff,#0089ff,#0093ff,#0065ff,#00aeff,#0073ff,#0074ff,#0069ff)"></i><i style="background:linear-gradient(#004cff,#0000db,#0000fa,#005aff,#0048ff,#003aff,#0072ff,#0002ff,#0084ff,#0070ff,#003eff,#002aff,#002bff,#0047ff,#0074ff,#005eff,#0065ff,#00c5ff,#00a5ff,#00caff,#0082ff,#0084ff,#0058ff,#008cff,#008dff,#0059ff,#0092ff,#0080ff,#003aff,#0082ff,#003dff,#003eff)"></i><i style="background:linear-gradient(#0071ff,#003aff,#0040ff,#003dff,#0046ff,#0024ff,#004dff,#005fff,#0046ff,#003bff,#005bff,#003dff,#002eff,#0083ff,#0094ff,#0062ff,#00c6ff,#00ecff,#00d5ff,#008bff,#00f3ff,#00f5ff,#0093ff,#06fff9,#00ceff,#00c8ff,#00d0ff,#0086ff,#0044ff,#0098ff,#0056ff,#008dff)"></i><i style="background:linear-gradient(#006fff,#0044ff,#002bff,#004aff,#0054ff,#0058ff,#0079ff,#0033ff,#0075ff,#005dff,#007dff,#004cff,#0031ff,#009eff,#00d4ff,#00ceff,#00b2ff,#00c4ff,#00d2ff,#0091ff,#00c9ff,#0095ff,#00baff,#00b4ff,#0099ff,#00a7ff,#008aff,#0066ff,#0070ff,#0073ff,#005aff,#0013ff)"></i><i style="background:linear-gradient(#003fff,#001cff,#0013ff,#0045ff,#0019ff,#0008ff,#0063ff,#003fff,#007bff,#0080ff,#003cff,#0072ff,#004dff,#007dff,#00a6ff,#00c6ff,#00d1ff,#00d1ff,#00e9ff,#00c7ff,#009cff,#00beff,#006fff,#008cff,#0097ff,#0073ff,#0087ff,#0080ff,#0061ff,#004cff,#0085ff,#0071ff)"></i><i style="background:linear-gradient(#0003ff,#0000ef,#0000fb,#0000fc,#0000ff,#0000f1,#0008ff,#0000ed,#005fff,#0025ff,#0036ff,#0019ff,#0000d4,#004dff,#006cff,#0078ff,#004fff,#007fff,#00a9ff,#0071ff,#00aeff,#0095ff,#0084ff,#00b8ff,#00b3ff,#0063ff,#004eff,#005eff,#003fff,#0000e5,#0050ff,#0023ff)"></i><i style="background:linear-gradient(#0060ff,#0067ff,#0045ff,#00acff,#00aaff,#00aeff,#00dcff,#0099ff,#008cff,#00a9ff,#0098ff,#0060ff,#0068ff,#00b8ff,#00eeff,#00efff,#1fffe0,#24ffdb,#00f2ff,#01fffe,#00b8ff,#00b0ff,#0074ff,#00aeff,#009fff,#009aff,#0099ff,#009cff,#0087ff,#0089ff,#0069ff,#0047ff)"></i><i style="background:linear-gradient(#0040ff,#003aff,#0011ff,#0052ff,#0028ff,#0027ff,#0024ff,#001cff,#004eff,#001cff,#0000e3,#001aff,#0000dc,#0034ff,#0036ff,#0075ff,#0075ff,#0062ff,#0099ff,#0073ff,#0061ff,#005dff,#0040ff,#0073ff,#0056ff,#0070ff,#0048ff,#006eff,#000cff,#0051ff,#0092ff,#0055ff)"></i><i style="background:linear-gradient(#003dff,#002dff,#0060ff,#0025ff,#0029ff,#0048ff,#0070ff,#004eff,#00abff,#00aeff,#004dff,#005aff,#0048ff,#0067ff,#008dff,#0086ff,#00aaff,#00c2ff,#0086ff,#00bcff,#00afff,#008eff,#007cff,#0083ff,#0095ff,#0077ff,#0043ff,#004bff,#0063ff,#0066ff,#007cff,#0091ff)"></i></div>
<div class="bb" style="left:209.00px;top:314.20px"></div>
<div class="t lb" style="left:281.50px;top:188.20px;transform:translate(-50%,-50%)">Range profile</div>
<div class="t tk" style="left:207.60px;top:197.90px;transform:translate(-100%,-50%) scaleX(0.940)">60</div>
<div class="t tk" style="left:207.60px;top:218.58px;transform:translate(-100%,-50%) scaleX(0.940)">50</div>
<div class="t tk" style="left:207.60px;top:239.26px;transform:translate(-100%,-50%) scaleX(0.940)">40</div>
<div class="t tk" style="left:207.60px;top:259.94px;transform:translate(-100%,-50%) scaleX(0.940)">30</div>
<div class="t tk" style="left:207.60px;top:280.62px;transform:translate(-100%,-50%) scaleX(0.940)">20</div>
<div class="t tk" style="left:207.60px;top:301.30px;transform:translate(-100%,-50%) scaleX(0.940)">10</div>
<div class="t lb" style="left:199.00px;top:255.60px;transform:translate(-50%,-50%) rotate(-90deg) scaleX(1.130)">Range bin</div>
<div class="t tk" style="left:209.00px;top:324.30px;transform:translate(-50%,-50%) scaleX(0.940)">0</div>
<div class="t tk" style="left:223.50px;top:324.30px;transform:translate(-50%,-50%) scaleX(0.940)">500</div>
<div class="t tk" style="left:238.00px;top:324.30px;transform:translate(-50%,-50%) scaleX(0.940)">1000</div>
<div class="t tk" style="left:252.50px;top:324.30px;transform:translate(-50%,-50%) scaleX(0.940)">1500</div>
<div class="t tk" style="left:267.00px;top:324.30px;transform:translate(-50%,-50%) scaleX(0.940)">2000</div>
<div class="t tk" style="left:281.50px;top:324.30px;transform:translate(-50%,-50%) scaleX(0.940)">2500</div>
<div class="t tk" style="left:296.00px;top:324.30px;transform:translate(-50%,-50%) scaleX(0.940)">3000</div>
<div class="t tk" style="left:310.50px;top:324.30px;transform:translate(-50%,-50%) scaleX(0.940)">3500</div>
<div class="t tk" style="left:325.00px;top:324.30px;transform:translate(-50%,-50%) scaleX(0.940)">4000</div>
<div class="t tk" style="left:339.50px;top:324.30px;transform:translate(-50%,-50%) scaleX(0.940)">4500</div>
<div class="t tk" style="left:354.00px;top:324.30px;transform:translate(-50%,-50%) scaleX(0.940)">5000</div>
<div class="t lb" style="left:281.50px;top:331.50px;transform:translate(-50%,-50%)">Chirps</div>
<div class="p" style="left:396.00px;top:191.80px;width:145.50px;height:126.40px"><i style="background:linear-gradient(#69ff96,#50ffaf,#73ff8c,#37ffc8,#86ff79,#75ff8a,#76ff89,#7dff82,#aeff51,#7eff81,#9bff64,#83ff7c,#81ff7e,#d7ff28,#9aff65,#b4ff4b,#d3ff2c,#f6ff09,#fffd00,#fffd00,#ecff13,#c4ff3b,#dcff23,#c6ff39,#d3ff2c,#c0ff3f,#94ff6b,#ecff13,#97ff68,#b7ff48,#9bff64,#d6ff29)"></i><i style="background:linear-gradient(#65ff9a,#8dff72,#77ff88,#66ff99,#66ff99,#52ffad,#75ff8a,#6aff95,#48ffb7,#82ff7d,#74ff8b,#8bff74,#c9ff36,#c1ff3e,#fffc00,#c7ff38,#ceff31,#ffce00,#ffcd00,#ffe900,#fff900,#faff05,#ffe600,#ffef00,#b7ff48,#cfff30,#c0ff3f,#a7ff58,#c8ff37,#b6ff49,#acff53,#a5ff5a)"></i><i style="background:linear-gradient(#38ffc7,#76ff89,#36ffc9,#26ffd9,#51ffae,#47ffb8,#30ffcf,#00f7ff,#1effe1,#11ffee,#16ffe9,#36ffc9,#3fffc0,#13ffec,#17ffe8,#21ffde,#5dffa2,#60ff9f,#62ff9d,#60ff9f,#b6ff49,#baff45,#71ff8e,#99ff66,#9bff64,#a9ff56,#84ff7b,#7dff82,#62ff9d,#47ffb8,#76ff89,#5effa1)"></i><i style="background:linear-gradient(#6bff94,#07fff8,#00d1ff,#00c4ff,#00d1ff,#00edff,#00f4ff,#00abff,#00ffff,#00efff,#0bfff4,#00e5ff,#1bffe4,#04fffb,#20ffdf,#16ffe9,#0ffff0,#2fffd0,#32ffcd,#30ffcf,#46ffb9,#3fffc0,#44ffbb,#6bff94,#17ffe8,#04fffb,#4cffb3,#7cff83,#50ffaf,#00f6ff,#00ebff,#0efff1)"></i><i style="background:linear-gradient(#1cffe3,#00e4ff,#1effe1,#00f4ff,#00f3ff,#00fcff,#00eeff,#00cfff,#00d8ff,#00d3ff,#00c9ff,#00f5ff,#0ffff0,#00ddff,#00e0ff,#00eeff,#3cffc3,#02fffd,#43ffbc,#55ffaa,#33ffcc,#12ffed,#23ffdc,#36ffc9,#2fffd0,#06fff9,#03fffc,#0bfff4,#00feff,#14ffeb,#00eaff,#09fff6)"></i><i style="background:linear-gradient(#00e7ff,#0cfff3,#00c5ff,#00f0ff,#18ffe7,#00daff,#00d2ff,#20ffdf,#00d9ff,#00efff,#03fffc,#1dffe2,#05fffa,#00fcff,#00feff,#2cffd3,#3fffc0,#16ffe9,#20ffdf,#72ff8d,#4dffb2,#23ffdc,#00ceff,#06fff9,#00fdff,#03fffc,#00d4ff,#00c0ff,#00d8ff,#00ecff,#00d5ff,#00dfff)"></i><i style="background:linear-gradient(#00b8ff,#0cfff3,#00bdff,#00f1ff,#00e1ff,#00ffff,#00b7ff,#1cffe3,#00feff,#00cbff,#13ffec,#00f0ff,#03fffc,#15ffea,#50ffaf,#09fff6,#26ffd9,#33ffcc,#46ffb9,#15ffea,#00fcff,#01fffe,#16ffe9,#23ffdc,#00d8ff,#09fff6,#2cffd3,#10ffef,#04fffb,#00a3ff,#00ecff,#00c9ff)"></i><i style="background:linear-gradient(#0097ff,#00d3ff,#00baff,#00cdff,#0064ff,#00efff,#0096ff,#007eff,#008eff,#00ccff,#0085ff,#00eaff,#00ceff,#00f6ff,#00fdff,#00e7ff,#00fcff,#38ffc7,#00beff,#0afff5,#36ffc9,#00c4ff,#00c3ff,#009dff,#00a4ff,#0099ff,#0097ff,#008fff,#00a8ff,#008aff,#008dff,#0098ff)"></i><i style="background:linear-gradient(#00dbff,#00bcff,#00e5ff,#0097ff,#00b4ff,#00eeff,#00bcff,#00d7ff,#00ecff,#008fff,#00bfff,#41ffbe,#00deff,#00e6ff,#14ffeb,#13ffec,#37ffc8,#00e4ff,#07fff8,#00d5ff,#09fff6,#00d2ff,#00c9ff,#00c2ff,#00a5ff,#0086ff,#007dff,#006aff,#0080ff,#00ceff,#005aff,#007aff)"></i><i style="background:linear-gradient(#00d1ff,#00ddff,#00edff,#00e8ff,#00e8ff,#00f0ff,#009fff,#00daff,#00fcff,#03fffc,#2bffd4,#22ffdd,#12ffed,#07fff8,#35ffca,#46ffb9,#00daff,#3cffc3,#0afff5,#0dfff2,#20ffdf,#009bff,#00afff,#007fff,#0085ff,#0072ff,#006cff,#008cff,#005eff,#0069ff,#007aff,#006aff)"></i><i style="background:linear-gradient(#20ffdf,#10ffef,#36ffc9,#1effe1,#12ffed,#2fffd0,#3bffc4,#37ffc8,#00fbff,#30ffcf,#00f8ff,#11ffee,#28ffd7,#3affc5,#23ffdc,#00fdff,#1cffe3,#19ffe6,#00feff,#00ffff,#07fff8,#00f7ff,#00f5ff,#00a8ff,#0087ff,#00bfff,#00c9ff,#00c1ff,#00aeff,#007cff,#00cfff,#009aff)"></i><i style="background:linear-gradient(#21ffde,#00e1ff,#00e1ff,#00dcff,#00c9ff,#22ffdd,#00e1ff,#02fffd,#17ffe8,#03fffc,#1cffe3,#53ffac,#2bffd4,#3bffc4,#00f5ff,#16ffe9,#1cffe3,#00faff,#0afff5,#11ffee,#10ffef,#00b6ff,#00d4ff,#00d0ff,#00b4ff,#008bff,#0079ff,#0074ff,#004aff,#0063ff,#0082ff,#009dff)"></i><i style="background:linear-gradient(#00e4ff,#00b9ff,#00d2ff,#00f7ff,#00c0ff,#00fdff,#00f0ff,#00bcff,#00beff,#00ddff,#05fffa,#05fffa,#00b6ff,#25ffda,#00c6ff,#00fbff,#00ddff,#00b2ff,#00b2ff,#00aeff,#00a7ff,#0070ff,#009dff,#0062ff,#0049ff,#0057ff,#006eff,#005dff,#0044ff,#003cff,#0066ff,#0052ff)"></i><i style="background:linear-gradient(#00daff,#00ceff,#00dbff,#00bbff,#00d2ff,#00d5ff,#00ceff,#32ffcd,#07fff8,#26ffd9,#4dffb2,#41ffbe,#26ffd9,#57ffa8,#2fffd0,#0afff5,#24ffdb,#41ffbe,#18ffe7,#00f8ff,#1bffe4,#00d7ff,#09fff6,#00eeff,#0096ff,#00ecff,#00bdff,#006fff,#0062ff,#0060ff,#0bfff4,#00b7ff)"></i><i style="background:linear-gradient(#34ffcb,#5cffa3,#0bfff4,#28ffd7,#00e6ff,#23ffdc,#3dffc2,#57ffa8,#42ffbd,#7cff83,#70ff8f,#9eff61,#8eff71,#86ff79,#dcff23,#c5ff3a,#62ff9d,#85ff7a,#5cffa3,#43ffbc,#59ffa6,#46ffb9,#2affd5,#1affe5,#06fff9,#02fffd,#00fcff,#00fdff,#18ffe7,#00daff,#00f5ff,#00d2ff)"></i><i style="background:linear-gradient(#41ffbe,#48ffb7,#38ffc7,#41ffbe,#28ffd7,#51ffae,#5cffa3,#49ffb6,#5dffa2,#a5ff5a,#8eff71,#acff53,#aeff51,#cdff32,#e8ff17,#a1ff5e,#c9ff36,#d8ff27,#d4ff2b,#b1ff4e,#d6ff29,#b2ff4d,#bcff43,#e3ff1c,#8cff73,#8dff72,#69ff96,#0bfff4,#02fffd,#09fff6,#16ffe9,#17ffe8)"></i><i style="background:linear-gradient(#5cffa3,#46ffb9,#1effe1,#31ffce,#39ffc6,#7cff83,#60ff9f,#87ff78,#75ff8a,#86ff79,#a3ff5c,#eaff15,#f8ff07,#ffbe00,#ffbb00,#ffa600,#ff7f00,#ffa400,#ffa000,#fff000,#ff9700,#ff9e00,#edff12,#ffed00,#e2ff1d,#fffb00,#d6ff29,#94ff6b,#b2ff4d,#9cff63,#acff53,#8eff71)"></i><i style="background:linear-gradient(#88ff77,#8eff71,#94ff6b,#8bff74,#97ff68,#d7ff28,#c1ff3e,#edff12,#fffe00,#ffe600,#ffec00,#ffb200,#ff7000,#ff9b00,#ff6300,#ff7f00,#ff7300,#ff5f00,#ff6c00,#ffce00,#ff5900,#ffad00,#ffdf00,#fff600,#ffd200,#e2ff1d,#6aff95,#d6ff29,#7cff83,#8aff75,#91ff6e,#a0ff5f)"></i><i style="background:linear-gradient(#9fff60,#aeff51,#eeff11,#eeff11,#ceff31,#f2ff0d,#ffef00,#ffa900,#ff7f00,#ff8000,#ff9600,#ff0e00,#ff0a00,#ff4900,#ff2900,#ff2100,#ff1300,#ff0f00,#ff0400,#ff2800,#ed0000,#ff0a00,#ff3f00,#ff4200,#ff8b00,#ffa100,#ffc800,#ffe700,#fffb00,#eeff11,#b0ff4f,#c1ff3e)"></i><i style="background:linear-gradient(#e5ff1a,#fff500,#ebff14,#ffdb00,#ffce00,#ffba00,#ffae00,#ffb100,#ff3500,#ff3d00,#ff3800,#fe0000,#ff3900,#ff1e00,#f20000,#f90000,#ff0500,#ff0900,#ff0200,#ff0500,#ff1900,#ff0400,#ff0a00,#e40000,#ff1100,#ff6400,#ffae00,#fff700,#ffdb00,#ffee00,#dbff24,#ffd700)"></i><i style="background:linear-gradient(#d3ff2c,#c0ff3f,#cfff30,#dfff20,#d3ff2c,#ffc000,#ff5d00,#ff9000,#ff6d00,#ff2100,#ff3500,#ff1600,#ff0400,#ff0500,#f60000,#f20000,#fd0000,#ff2700,#ff3800,#ff2100,#ff5300,#ff0d00,#ff2100,#ff2000,#ff1900,#ff3900,#ffb200,#ffda00,#ffe900,#fff800,#b4ff4b,#c6ff39)"></i><i style="background:linear-gradient(#b2ff4d,#6aff95,#bdff42,#d8ff27,#a1ff5e,#c8ff37,#ffea00,#f0ff0f,#ffb600,#ffc000,#ff8d00,#ff5600,#ff8700,#ff5900,#ff4c00,#ff4700,#ff4000,#ff1400,#ff2a00,#ff1f00,#ff2500,#ff3d00,#ff4d00,#ff3800,#ff4700,#ff9200,#ffad00,#ffd100,#ffe900,#ddff22,#edff12,#abff54)"></i><i style="background:linear-gradient(#d2ff2d,#b5ff4a,#b0ff4f,#fffb00,#ffcf00,#ffd600,#ffbf00,#ff9100,#ff9800,#ff3600,#ff1600,#ff0300,#ff2600,#ff0700,#e80000,#e80000,#f30000,#f60000,#ef0000,#ff0900,#ed0000,#ff2f00,#ff0200,#ff1900,#ff4d00,#ff3c00,#ff9d00,#ffd200,#ffe600,#dbff24,#aeff51,#aaff55)"></i><i style="background:linear-gradient(#97ff68,#6bff94,#bfff40,#a4ff5b,#d1ff2e,#b7ff48,#fffa00,#ffdb00,#ff6c00,#ff8800,#ff2c00,#ff0900,#ff3b00,#ff3f00,#ff3a00,#f30000,#ff0f00,#ff1700,#ff0300,#fe0000,#ff3700,#f30000,#ff0400,#ff0c00,#ff3000,#ff5100,#ffab00,#ffe400,#ffe800,#caff35,#d4ff2b,#8dff72)"></i><i style="background:linear-gradient(#8dff72,#72ff8d,#aeff51,#b1ff4e,#70ff8f,#8eff71,#afff50,#fffd00,#ffbc00,#ffd100,#ff7600,#ff3100,#ff6c00,#ff2200,#ff0d00,#ff4400,#ff3000,#ff4a00,#ff0f00,#fe0000,#ff2800,#ff0700,#ff1b00,#ff3900,#ff2c00,#ff5f00,#ff9700,#ffd900,#ffe000,#eaff15,#a8ff57,#fcff03)"></i><i style="background:linear-gradient(#90ff6f,#78ff87,#b8ff47,#bfff40,#deff21,#dbff24,#ffb400,#ffe400,#ff8100,#ff3700,#ff7a00,#ff4300,#ff0b00,#ff2d00,#ff1600,#ff0b00,#ff0600,#ff1500,#ff3e00,#ff1d00,#ff2a00,#ff3200,#ff1100,#ff2b00,#ff1a00,#ff2700,#ffa700,#ffce00,#ffe200,#ff8b00,#baff45,#edff12)"></i><i style="background:linear-gradient(#a3ff5c,#57ffa8,#7fff80,#99ff66,#61ff9e,#fffd00,#fffa00,#ffcc00,#ffa700,#ff6300,#ff4600,#ff1300,#ff0800,#ff4900,#ff1400,#ff1800,#ff0d00,#ff2a00,#ff1200,#ff3300,#ff0f00,#ff0500,#ff4700,#ff3700,#ff5300,#ff7c00,#ffd000,#ffb500,#fffd00,#d1ff2e,#b0ff4f,#a2ff5d)"></i><i style="background:linear-gradient(#49ffb6,#38ffc7,#96ff69,#99ff66,#87ff78,#b2ff4d,#b4ff4b,#c3ff3c,#c9ff36,#ffdd00,#ffde00,#ffe300,#fff000,#ffc100,#ff6d00,#ff4c00,#ff5100,#ff7300,#ff4000,#ff7a00,#ff1a00,#ff4200,#ff2100,#ff8400,#ff5800,#ff5700,#ff9000,#dbff24,#fffb00,#e0ff1f,#e7ff18,#d8ff27)"></i><i style="background:linear-gradient(#a0ff5f,#7aff85,#77ff88,#9cff63,#a9ff56,#c7ff38,#8dff72,#d0ff2f,#f9ff06,#deff21,#d7ff28,#ffe600,#ffba00,#ffc800,#ff7800,#ff4d00,#ff4b00,#ff3700,#ff0b00,#ff0d00,#ff1900,#ff2700,#ff2100,#ff5000,#ff4200,#ff8e00,#ffc200,#ffe200,#ffd700,#efff10,#b6ff49,#a6ff59)"></i><i style="background:linear-gradient(#92ff6d,#aeff51,#beff41,#91ff6e,#7dff82,#b3ff4c,#89ff76,#a8ff57,#c8ff37,#cbff34,#cdff32,#ccff33,#ffe900,#ffbb00,#ff9f00,#ffa100,#ff8100,#ff7c00,#ff4f00,#ff3400,#ff2700,#ff1f00,#ff7400,#ff1900,#ff4c00,#ff5d00,#ff9e00,#fff100,#ffb600,#fff300,#fffe00,#dfff20)"></i><i style="background:linear-gradient(#6dff92,#54ffab,#2bffd4,#3bffc4,#62ff9d,#54ffab,#51ffae,#6dff92,#76ff89,#9cff63,#91ff6e,#ccff33,#e0ff1f,#ffcd00,#ffea00,#ffba00,#ffb000,#ffb800,#ff6600,#ff8600,#ff8000,#ff5100,#ff5800,#ff8000,#ffb100,#ff8c00,#ffc100,#f2ff0d,#dcff23,#74ff8b,#a1ff5e,#5affa5)"></i><i style="background:linear-gradient(#7eff81,#38ffc7,#35ffca,#6dff92,#5effa1,#9bff64,#60ff9f,#83ff7c,#8fff70,#35ffca,#90ff6f,#d5ff2a,#c8ff37,#edff12,#fffe00,#ff9e00,#ffac00,#ff9e00,#ff5200,#ff5400,#ff7800,#ff3700,#ff4f00,#ff7200,#ff7400,#ff8e00,#ffc800,#fff200,#fff900,#cdff32,#beff41,#a0ff5f)"></i><i style="background:linear-gradient(#2fffd0,#41ffbe,#91ff6e,#7aff85,#61ff9e,#64ff9b,#58ffa7,#4dffb2,#4fffb0,#62ff9d,#6eff91,#89ff76,#92ff6d,#abff54,#e8ff17,#ebff14,#efff10,#ffa000,#ff7300,#ff8300,#ff6900,#ff7100,#ff5800,#ff5b00,#ffa200,#ff9d00,#ffef00,#d9ff26,#cdff32,#79ff86,#72ff8d,#adff52)"></i><i style="background:linear-gradient(#91ff6e,#8fff70,#86ff79,#c5ff3a,#e2ff1d,#b4ff4b,#97ff68,#b9ff46,#8fff70,#aaff55,#ddff22,#dfff20,#b8ff47,#ffe400,#fcff03,#ffee00,#ffc000,#ffbb00,#ff7700,#ff3f00,#ff5d00,#ff4100,#ff5b00,#ff6200,#ffd100,#ff9200,#daff25,#e8ff17,#daff25,#c9ff36,#aeff51,#95ff6a)"></i><i style="background:linear-gradient(#a7ff58,#adff52,#84ff7b,#83ff7c,#99ff66,#8bff74,#5effa1,#76ff89,#a7ff58,#bbff44,#79ff86,#bbff44,#85ff7a,#d5ff2a,#c5ff3a,#edff12,#ffe500,#ffea00,#ff7400,#ff6700,#ff8e00,#ff5900,#ff4b00,#ff8000,#ffce00,#ffeb00,#e1ff1e,#e3ff1c,#98ff67,#67ff98,#81ff7e,#83ff7c)"></i><i style="background:linear-gradient(#b7ff48,#d3ff2c,#8cff73,#b9ff46,#b6ff49,#9dff62,#b5ff4a,#baff45,#a7ff58,#92ff6d,#bdff42,#bfff40,#c5ff3a,#fff500,#ffff00,#e1ff1e,#ffe600,#ffd800,#ffce00,#ffa700,#ff9200,#ff9f00,#ffa300,#ffbe00,#ffb700,#fffd00,#edff12,#7dff82,#99ff66,#59ffa6,#70ff8f,#8dff72)"></i><i style="background:linear-gradient(#e8ff17,#d6ff29,#c6ff39,#c1ff3e,#a4ff5b,#caff35,#d6ff29,#d4ff2b,#bfff40,#ffeb00,#c1ff3e,#d9ff26,#f0ff0f,#fff700,#ffdd00,#ffad00,#ff9600,#e5ff1a,#ffaf00,#ffa600,#ffb400,#ffbb00,#ffa300,#ffce00,#fff100,#ffe700,#f2ff0d,#cbff34,#d6ff29,#87ff78,#89ff76,#a0ff5f)"></i><i style="background:linear-gradient(#d0ff2f,#c7ff38,#ffeb00,#ffd600,#b9ff46,#fbff04,#fbff04,#d6ff29,#aeff51,#fbff04,#edff12,#ffd000,#fff000,#ffee00,#daff25,#ffe500,#ffe100,#ffb700,#ffd400,#ffff00,#ffc300,#ffca00,#e1ff1e,#f4ff0b,#e6ff19,#c3ff3c,#c5ff3a,#aeff51,#aaff55,#b0ff4f,#8aff75,#6fff90)"></i><i style="background:linear-gradient(#b9ff46,#b0ff4f,#b0ff4f,#b1ff4e,#9dff62,#a2ff5d,#87ff78,#70ff8f,#acff53,#c9ff36,#96ff69,#d5ff2a,#9cff63,#c6ff39,#ceff31,#fff100,#f0ff0f,#fffd00,#ffe600,#e7ff18,#e4ff1b,#e7ff18,#d9ff26,#f4ff0b,#b4ff4b,#adff52,#b4ff4b,#b5ff4a,#81ff7e,#82ff7d,#61ff9e,#36ffc9)"></i><i style="background:linear-gradient(#72ff8d,#73ff8c,#70ff8f,#88ff77,#7bff84,#9eff61,#87ff78,#50ffaf,#56ffa9,#76ff89,#52ffad,#6dff92,#5affa5,#6eff91,#76ff89,#63ff9c,#2affd5,#58ffa7,#59ffa6,#66ff99,#77ff88,#58ffa7,#6bff94,#6bff94,#28ffd7,#53ffac,#27ffd8,#3fffc0,#12ffed,#2cffd3,#2affd5,#00feff)"></i><i style="background:linear-gradient(#19ffe6,#13ffec,#00f4ff,#63ff9c,#4effb1,#2dffd2,#4fffb0,#12ffed,#00feff,#62ff9d,#28ffd7,#3fffc0,#00f0ff,#63ff9c,#27ffd8,#5bffa4,#49ffb6,#6dff92,#82ff7d,#48ffb7,#a7ff58,#69ff96,#4effb1,#38ffc7,#31ffce,#26ffd9,#36ffc9,#00fcff,#2effd1,#02fffd,#52ffad,#29ffd6)"></i><i style="background:linear-gradient(#009bff,#00c7ff,#07fff8,#0bfff4,#00d4ff,#07fff8,#00fcff,#00e5ff,#08fff7,#1effe1,#00f7ff,#00fbff,#00eeff,#10ffef,#03fffc,#00f7ff,#0afff5,#0cfff3,#30ffcf,#3affc5,#00f4ff,#0bfff4,#04fffb,#00e0ff,#0096ff,#00c9ff,#00beff,#00b6ff,#00b8ff,#00d4ff,#00dbff,#00b8ff)"></i><i style="background:linear-gradient(#11ffee,#00dfff,#00faff,#00d6ff,#00dcff,#00ecff,#00d1ff,#14ffeb,#00bdff,#2cffd3,#1affe5,#00d6ff,#00c1ff,#00e7ff,#00e3ff,#00e1ff,#1bffe4,#17ffe8,#0dfff2,#1bffe4,#16ffe9,#18ffe7,#02fffd,#00caff,#00fbff,#0dfff2,#00f2ff,#00ecff,#01fffe,#00abff,#00dfff,#00e5ff)"></i><i style="background:linear-gradient(#0084ff,#00cfff,#00cbff,#0098ff,#00a5ff,#0088ff,#0065ff,#0059ff,#0072ff,#0078ff,#0073ff,#007cff,#0040ff,#00a1ff,#009bff,#00a9ff,#00b8ff,#00e9ff,#00f7ff,#21ffde,#00e5ff,#00b1ff,#00ccff,#00b4ff,#0094ff,#00cbff,#00a6ff,#00d8ff,#0087ff,#00a7ff,#00c0ff,#0072ff)"></i><i style="background:linear-gradient(#00acff,#00abff,#007cff,#00b5ff,#0064ff,#00a8ff,#0099ff,#00b1ff,#00a2ff,#00b9ff,#00bcff,#0093ff,#00a3ff,#00b7ff,#0054ff,#00b3ff,#00d1ff,#00ebff,#00f8ff,#00d0ff,#14ffeb,#00b8ff,#00c4ff,#00edff,#00f0ff,#00d6ff,#00b0ff,#008cff,#009fff,#00baff,#00a9ff,#0080ff)"></i><i style="background:linear-gradient(#008bff,#0065ff,#0089ff,#008cff,#007bff,#007aff,#008fff,#00d3ff,#009fff,#009bff,#007bff,#0078ff,#0073ff,#008bff,#009eff,#0083ff,#00c5ff,#02fffd,#00e7ff,#16ffe9,#00daff,#00c6ff,#00beff,#0085ff,#008aff,#005cff,#009fff,#007bff,#00a2ff,#009aff,#0074ff,#0058ff)"></i><i style="background:linear-gradient(#0036ff,#0068ff,#005cff,#0071ff,#00a4ff,#0086ff,#00b5ff,#008bff,#00a5ff,#007aff,#00a7ff,#0099ff,#00dfff,#00b0ff,#00c1ff,#32ffcd,#2fffd0,#1affe5,#25ffda,#4dffb2,#00fbff,#06fff9,#00d2ff,#00aaff,#00b0ff,#0080ff,#00c2ff,#00a0ff,#0079ff,#007cff,#0069ff,#003fff)"></i><i style="background:linear-gradient(#001fff,#0081ff,#0030ff,#0067ff,#0069ff,#0073ff,#0094ff,#00a5ff,#0097ff,#00aeff,#00e6ff,#00baff,#00b4ff,#00a4ff,#00c5ff,#0cfff3,#00ccff,#19ffe6,#00deff,#00e9ff,#00ebff,#00d7ff,#008dff,#00c0ff,#0080ff,#0079ff,#0081ff,#00b8ff,#0079ff,#0073ff,#007aff,#00c5ff)"></i><i style="background:linear-gradient(#0067ff,#0035ff,#0032ff,#009fff,#0088ff,#0095ff,#0061ff,#00a9ff,#00b4ff,#009eff,#0082ff,#009fff,#00c3ff,#00d9ff,#0093ff,#00cdff,#00f3ff,#00e8ff,#18ffe7,#1affe5,#00deff,#06fff9,#00a8ff,#00a2ff,#005cff,#0088ff,#0075ff,#005dff,#005aff,#0056ff,#0046ff,#0060ff)"></i><i style="background:linear-gradient(#008aff,#0056ff,#0083ff,#0052ff,#007dff,#008dff,#0085ff,#0092ff,#00beff,#00a1ff,#009eff,#0092ff,#0060ff,#006aff,#0070ff,#008eff,#00ceff,#00dcff,#00e0ff,#00ebff,#00e8ff,#00e3ff,#0086ff,#0082ff,#007dff,#00aaff,#0045ff,#0047ff,#006cff,#002eff,#0071ff,#009aff)"></i><i style="background:linear-gradient(#004cff,#0041ff,#0046ff,#0059ff,#006fff,#0091ff,#0073ff,#007fff,#008cff,#00bdff,#005fff,#00a8ff,#007fff,#0086ff,#0097ff,#009aff,#00d8ff,#12ffed,#00f1ff,#00feff,#17ffe8,#00bfff,#0071ff,#005dff,#0051ff,#0037ff,#0078ff,#001eff,#0072ff,#0017ff,#0020ff,#005aff)"></i><i style="background:linear-gradient(#006bff,#006cff,#0062ff,#008dff,#0073ff,#0074ff,#0058ff,#007aff,#004eff,#0080ff,#006aff,#00a2ff,#0091ff,#0081ff,#00b2ff,#008fff,#04fffb,#28ffd7,#00ebff,#00dbff,#00eaff,#00a0ff,#006dff,#0046ff,#0096ff,#0045ff,#0037ff,#001eff,#0031ff,#001fff,#0029ff,#0014ff)"></i><i style="background:linear-gradient(#005aff,#0027ff,#0035ff,#0098ff,#007aff,#00a7ff,#009fff,#00ddff,#00a2ff,#009bff,#00adff,#00a0ff,#0086ff,#0073ff,#0095ff,#00bcff,#00deff,#00c3ff,#00fcff,#00d9ff,#00fcff,#00b3ff,#008dff,#0099ff,#006cff,#0094ff,#004cff,#0023ff,#0060ff,#0057ff,#002cff,#0071ff)"></i><i style="background:linear-gradient(#0085ff,#0055ff,#007dff,#0032ff,#0049ff,#0080ff,#0093ff,#0066ff,#0066ff,#0096ff,#00dbff,#00a4ff,#007aff,#00a1ff,#0096ff,#0096ff,#00bfff,#00deff,#00bbff,#00b4ff,#00deff,#008dff,#0061ff,#0086ff,#003aff,#0060ff,#0058ff,#0057ff,#0080ff,#0082ff,#003fff,#006aff)"></i><i style="background:linear-gradient(#0075ff,#0034ff,#0052ff,#006aff,#0067ff,#007aff,#0063ff,#009cff,#00baff,#0096ff,#00acff,#00a1ff,#008bff,#0085ff,#0063ff,#009eff,#00aeff,#00e2ff,#00a0ff,#00c8ff,#00b9ff,#00a8ff,#007fff,#008eff,#007cff,#00bdff,#005dff,#0091ff,#0072ff,#008fff,#0065ff,#0087ff)"></i><i style="background:linear-gradient(#005bff,#0099ff,#004cff,#009aff,#00a3ff,#00bcff,#00adff,#00a1ff,#00a2ff,#006dff,#009aff,#0099ff,#00b1ff,#0098ff,#0082ff,#00a7ff,#00b8ff,#00a6ff,#00b6ff,#009dff,#0081ff,#0071ff,#0099ff,#008cff,#0052ff,#0044ff,#0056ff,#0062ff,#005eff,#0037ff,#002fff,#0038ff)"></i><i style="background:linear-gradient(#0085ff,#0059ff,#0039ff,#0076ff,#0053ff,#0066ff,#0061ff,#00beff,#0066ff,#007eff,#0081ff,#009cff,#009eff,#00c2ff,#00a2ff,#00dcff,#00afff,#00ccff,#00acff,#00a3ff,#0084ff,#00abff,#0097ff,#005dff,#0076ff,#006aff,#0071ff,#005eff,#0073ff,#0067ff,#0063ff,#003cff)"></i><i style="background:linear-gradient(#0093ff,#0065ff,#006bff,#0087ff,#00bfff,#006eff,#0093ff,#00e0ff,#00e9ff,#008eff,#0095ff,#0089ff,#00a0ff,#008bff,#00ceff,#0093ff,#0093ff,#007aff,#00a5ff,#004bff,#00aaff,#0048ff,#002fff,#0028ff,#0037ff,#0013ff,#006dff,#005bff,#0052ff,#0000ff,#001cff,#0049ff)"></i><i style="background:linear-gradient(#0066ff,#007bff,#0083ff,#005fff,#0029ff,#002cff,#008bff,#00d8ff,#007bff,#0084ff,#00b7ff,#00c1ff,#09fff6,#00ccff,#00b4ff,#00ceff,#00c8ff,#00a5ff,#00a8ff,#0087ff,#0058ff,#0099ff,#0057ff,#0070ff,#003fff,#006bff,#004fff,#0025ff,#003bff,#005dff,#0035ff,#003bff)"></i><i style="background:linear-gradient(#0051ff,#005bff,#0070ff,#0063ff,#007aff,#0068ff,#00a9ff,#0082ff,#0096ff,#009bff,#0086ff,#0065ff,#00a6ff,#0083ff,#00a0ff,#0091ff,#0075ff,#00ccff,#0060ff,#0049ff,#00aaff,#0060ff,#0062ff,#006aff,#0010ff,#000cff,#0039ff,#0040ff,#0020ff,#0079ff,#0033ff,#0015ff)"></i><i style="background:linear-gradient(#007eff,#002dff,#005dff,#005eff,#0096ff,#0096ff,#0095ff,#0098ff,#0087ff,#0074ff,#00b5ff,#00adff,#0078ff,#00a8ff,#0082ff,#00a1ff,#00b5ff,#00b9ff,#0087ff,#00b2ff,#008bff,#008eff,#0073ff,#0094ff,#008dff,#0081ff,#0037ff,#0056ff,#004fff,#0073ff,#0072ff,#0059ff)"></i><i style="background:linear-gradient(#009dff,#00a3ff,#0076ff,#0097ff,#009eff,#009bff,#00aeff,#00c1ff,#00bbff,#00b2ff,#00bdff,#00e2ff,#00deff,#00e8ff,#00e9ff,#00b5ff,#00b0ff,#00f1ff,#00c0ff,#01fffe,#00ccff,#00d3ff,#00cbff,#00d8ff,#00b3ff,#00afff,#0095ff,#00adff,#00daff,#00c6ff,#00a0ff,#00aaff)"></i><i style="background:linear-gradient(#0035ff,#002aff,#004fff,#0076ff,#005fff,#0000d1,#008dff,#0066ff,#0049ff,#0044ff,#005aff,#0081ff,#0044ff,#0085ff,#0047ff,#0091ff,#0090ff,#006bff,#00b0ff,#008bff,#006cff,#0087ff,#00acff,#004eff,#0071ff,#005eff,#00a6ff,#0083ff,#0057ff,#006bff,#0070ff,#0024ff)"></i><i style="background:linear-gradient(#006dff,#004dff,#004cff,#006bff,#0076ff,#00a5ff,#008aff,#0079ff,#005fff,#00c1ff,#00c6ff,#0082ff,#009eff,#00daff,#00bfff,#00b5ff,#0098ff,#00a3ff,#00b6ff,#0097ff,#0074ff,#008dff,#008fff,#0075ff,#006eff,#006fff,#00afff,#0051ff,#0068ff,#0083ff,#0035ff,#0076ff)"></i><i style="background:linear-gradient(#0035ff,#006eff,#0075ff,#007fff,#00c4ff,#00a1ff,#0088ff,#0085ff,#0083ff,#00a5ff,#0091ff,#0067ff,#00b0ff,#0060ff,#006bff,#006dff,#00a0ff,#00cdff,#0096ff,#00d8ff,#00b1ff,#0091ff,#0095ff,#009dff,#00d3ff,#0090ff,#004bff,#008eff,#0093ff,#007dff,#0043ff,#006dff)"></i><i style="background:linear-gradient(#0038ff,#000cff,#0022ff,#0058ff,#0068ff,#003dff,#0041ff,#0087ff,#0061ff,#0098ff,#008dff,#0094ff,#00b5ff,#00d4ff,#00d1ff,#009bff,#0097ff,#00a1ff,#00bdff,#0065ff,#00a2ff,#0054ff,#00b7ff,#00a3ff,#009bff,#00baff,#00d2ff,#0086ff,#008aff,#0040ff,#003cff,#004cff)"></i><i style="background:linear-gradient(#0000f2,#0041ff,#0024ff,#0044ff,#0089ff,#0078ff,#005aff,#008fff,#00b0ff,#008cff,#0097ff,#0069ff,#0081ff,#007dff,#00a2ff,#00c4ff,#00b1ff,#00d6ff,#00baff,#0093ff,#0099ff,#00b4ff,#0058ff,#0099ff,#0073ff,#0067ff,#006bff,#005cff,#0057ff,#004fff,#008fff,#0054ff)"></i><i style="background:linear-gradient(#0032ff,#004fff,#0018ff,#0056ff,#002dff,#0070ff,#001fff,#0025ff,#005dff,#0075ff,#0081ff,#009bff,#0069ff,#0061ff,#007aff,#0096ff,#0047ff,#006aff,#0074ff,#00a4ff,#0090ff,#007cff,#0072ff,#0025ff,#00a2ff,#0055ff,#003eff,#0027ff,#0077ff,#007aff,#001bff,#0060ff)"></i><i style="background:linear-gradient(#01fffe,#00f3ff,#009dff,#00a3ff,#00b3ff,#009dff,#00cfff,#00c5ff,#00c3ff,#00c7ff,#00b2ff,#00d1ff,#008dff,#007dff,#00bcff,#00a5ff,#00a7ff,#0099ff,#00c7ff,#00a0ff,#00adff,#00b1ff,#0053ff,#007cff,#0090ff,#0063ff,#0092ff,#0072ff,#0058ff,#005eff,#0058ff,#0069ff)"></i><i style="background:linear-gradient(#0042ff,#003aff,#005bff,#009cff,#0075ff,#007dff,#0074ff,#00fdff,#00eaff,#00b2ff,#009bff,#00b3ff,#00f0ff,#00daff,#00b4ff,#00beff,#00b9ff,#00b2ff,#00acff,#006bff,#00c6ff,#0046ff,#006eff,#0092ff,#0057ff,#0083ff,#0076ff,#0057ff,#0043ff,#0095ff,#0098ff,#0097ff)"></i><i style="background:linear-gradient(#008bff,#00ccff,#00bcff,#00bcff,#0098ff,#00b1ff,#00d7ff,#00adff,#0083ff,#00c4ff,#00c9ff,#00f0ff,#00c1ff,#00c1ff,#00d9ff,#00ccff,#00b9ff,#0076ff,#009eff,#0079ff,#0086ff,#007fff,#0049ff,#0072ff,#005aff,#0096ff,#0079ff,#005aff,#0043ff,#004fff,#0053ff,#008cff)"></i><i style="background:linear-gradient(#00b4ff,#00e0ff,#0090ff,#008eff,#0083ff,#00aeff,#0061ff,#0060ff,#007dff,#0042ff,#0091ff,#0051ff,#006aff,#00adff,#00c3ff,#008cff,#006cff,#0099ff,#008cff,#0090ff,#0064ff,#005eff,#0061ff,#0052ff,#005dff,#0076ff,#0066ff,#0041ff,#006aff,#0037ff,#0008ff,#003eff)"></i></div>
<div class="bb" style="left:396.00px;top:314.20px"></div>
<div class="t lb" style="left:468.75px;top:188.20px;transform:translate(-50%,-50%)">Range profile</div>
<div class="t tk" style="left:394.60px;top:197.90px;transform:translate(-100%,-50%) scaleX(0.940)">60</div>
<div class="t tk" style="left:394.60px;top:218.58px;transform:translate(-100%,-50%) scaleX(0.940)">50</div>
<div class="t tk" style="left:394.60px;top:239.26px;transform:translate(-100%,-50%) scaleX(0.940)">40</div>
<div class="t tk" style="left:394.60px;top:259.94px;transform:translate(-100%,-50%) scaleX(0.940)">30</div>
<div class="t tk" style="left:394.60px;top:280.62px;transform:translate(-100%,-50%) scaleX(0.940)">20</div>
<div class="t tk" style="left:394.60px;top:301.30px;transform:translate(-100%,-50%) scaleX(0.940)">10</div>
<div class="t lb" style="left:386.00px;top:255.60px;transform:translate(-50%,-50%) rotate(-90deg) scaleX(1.130)">Range bin</div>
<div class="t tk" style="left:396.00px;top:324.30px;transform:translate(-50%,-50%) scaleX(0.940)">0</div>
<div class="t tk" style="left:410.55px;top:324.30px;transform:translate(-50%,-50%) scaleX(0.940)">500</div>
<div class="t tk" style="left:425.10px;top:324.30px;transform:translate(-50%,-50%) scaleX(0.940)">1000</div>
<div class="t tk" style="left:439.65px;top:324.30px;transform:translate(-50%,-50%) scaleX(0.940)">1500</div>
<div class="t tk" style="left:454.20px;top:324.30px;transform:translate(-50%,-50%) scaleX(0.940)">2000</div>
<div class="t tk" style="left:468.75px;top:324.30px;transform:translate(-50%,-50%) scaleX(0.940)">2500</div>
<div class="t tk" style="left:483.30px;top:324.30px;transform:translate(-50%,-50%) scaleX(0.940)">3000</div>
<div class="t tk" style="left:497.85px;top:324.30px;transform:translate(-50%,-50%) scaleX(0.940)">3500</div>
<div class="t tk" style="left:512.40px;top:324.30px;transform:translate(-50%,-50%) scaleX(0.940)">4000</div>
<div class="t tk" style="left:526.95px;top:324.30px;transform:translate(-50%,-50%) scaleX(0.940)">4500</div>
<div class="t tk" style="left:541.50px;top:324.30px;transform:translate(-50%,-50%) scaleX(0.940)">5000</div>
<div class="t lb" style="left:468.75px;top:331.50px;transform:translate(-50%,-50%)">Chirps</div>
<div class="L" style="left:96.20px;top:167.90px;transform:translate(-50%,-50%)">(a)</div>
<div class="L" style="left:278.00px;top:168.00px;transform:translate(-50%,-50%)">(b)</div>
<div class="L" style="left:461.40px;top:166.60px;transform:translate(-50%,-50%)">(c)</div>
<div class="L" style="left:96.10px;top:347.90px;transform:translate(-50%,-50%)">(d)</div>
<div class="L" style="left:278.00px;top:347.60px;transform:translate(-50%,-50%)">(e)</div>
<div class="L" style="left:461.50px;top:349.00px;transform:translate(-50%,-50%)">(f)</div>
</body></html>
